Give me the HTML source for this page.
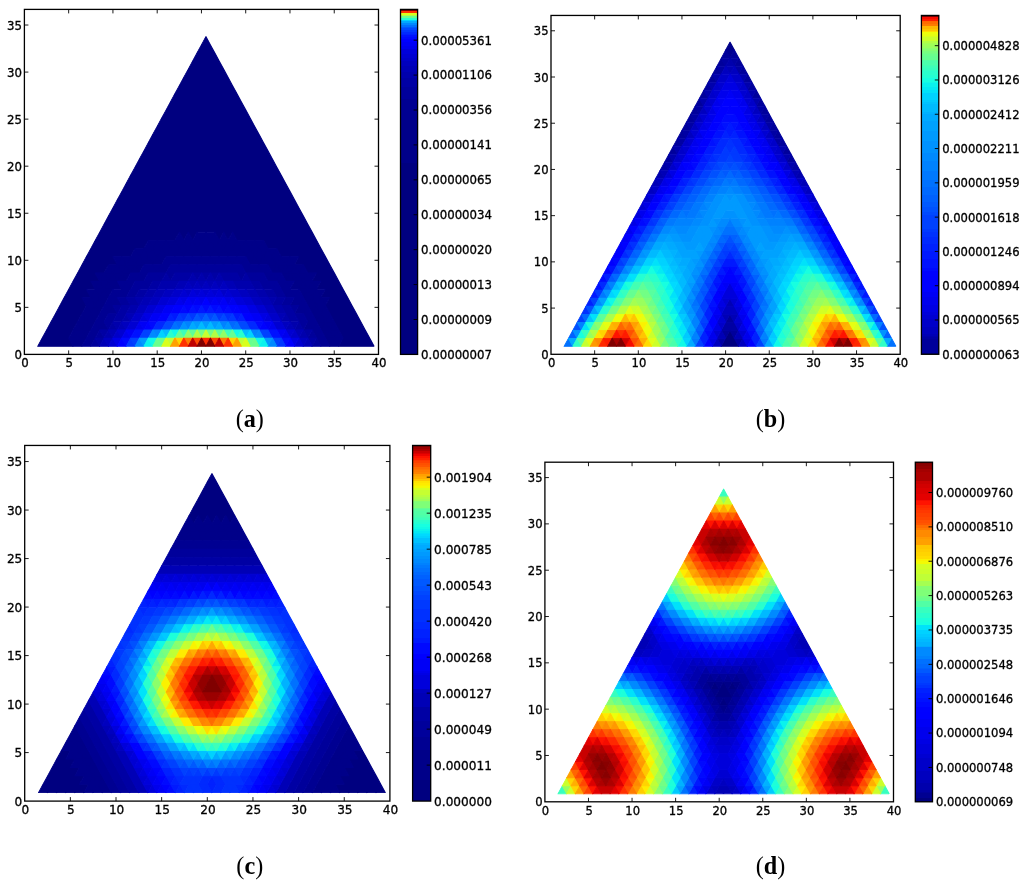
<!DOCTYPE html>
<html><head><meta charset="utf-8"><title>Figure</title>
<style>html,body{margin:0;padding:0;background:#fff}svg{display:block}text{font-family:"DejaVu Sans","Liberation Sans",sans-serif;fill:#000;stroke:#000;stroke-width:0.3px}.cap{stroke:none}.cap{font-family:"Liberation Serif","DejaVu Serif",serif;font-size:24.2px}.cap tspan{font-weight:bold}</style></head><body>
<svg width="1024" height="885" viewBox="0 0 1024 885">
<rect width="1024" height="885" fill="#fff"/>
<g font-size="11.75">
<g transform="matrix(8.8525 0 4.4263 -8.1500 24.400 354.400)" stroke-width="0.1" stroke-linejoin="round">
<path fill="#000080" stroke="#000080" d="M1 1h1l-1 1zM2 1h1l-1 1zM3 1h1l-1 1zM4 1h1l-1 1zM35 1h1l-1 1zM36 1h1l-1 1zM37 1h1l-1 1zM38 1h1l-1 1zM1 2h1l-1 1zM2 2h1l-1 1zM3 2h1l-1 1zM35 2h1l-1 1zM36 2h1l-1 1zM37 2h1l-1 1zM1 3h1l-1 1zM2 3h1l-1 1zM3 3h1l-1 1zM34 3h1l-1 1zM35 3h1l-1 1zM36 3h1l-1 1zM1 4h1l-1 1zM2 4h1l-1 1zM3 4h1l-1 1zM33 4h1l-1 1zM34 4h1l-1 1zM35 4h1l-1 1zM1 5h1l-1 1zM2 5h1l-1 1zM3 5h1l-1 1zM32 5h1l-1 1zM33 5h1l-1 1zM34 5h1l-1 1zM1 6h1l-1 1zM2 6h1l-1 1zM3 6h1l-1 1zM31 6h1l-1 1zM32 6h1l-1 1zM33 6h1l-1 1zM1 7h1l-1 1zM2 7h1l-1 1zM3 7h1l-1 1zM30 7h1l-1 1zM31 7h1l-1 1zM32 7h1l-1 1zM1 8h1l-1 1zM2 8h1l-1 1zM3 8h1l-1 1zM29 8h1l-1 1zM30 8h1l-1 1zM31 8h1l-1 1zM1 9h1l-1 1zM2 9h1l-1 1zM3 9h1l-1 1zM28 9h1l-1 1zM29 9h1l-1 1zM30 9h1l-1 1zM1 10h1l-1 1zM2 10h1l-1 1zM3 10h1l-1 1zM27 10h1l-1 1zM28 10h1l-1 1zM29 10h1l-1 1zM1 11h1l-1 1zM2 11h1l-1 1zM3 11h1l-1 1zM4 11h1l-1 1zM25 11h1l-1 1zM26 11h1l-1 1zM27 11h1l-1 1zM28 11h1l-1 1zM1 12h1l-1 1zM2 12h1l-1 1zM3 12h1l-1 1zM4 12h1l-1 1zM5 12h1l-1 1zM23 12h1l-1 1zM24 12h1l-1 1zM25 12h1l-1 1zM26 12h1l-1 1zM27 12h1l-1 1zM1 13h1l-1 1zM2 13h1l-1 1zM3 13h1l-1 1zM4 13h1l-1 1zM5 13h1l-1 1zM6 13h1l-1 1zM21 13h1l-1 1zM22 13h1l-1 1zM23 13h1l-1 1zM24 13h1l-1 1zM25 13h1l-1 1zM26 13h1l-1 1zM1 14h1l-1 1zM2 14h1l-1 1zM3 14h1l-1 1zM4 14h1l-1 1zM5 14h1l-1 1zM6 14h1l-1 1zM7 14h1l-1 1zM8 14h1l-1 1zM9 14h1l-1 1zM17 14h1l-1 1zM18 14h1l-1 1zM19 14h1l-1 1zM20 14h1l-1 1zM21 14h1l-1 1zM22 14h1l-1 1zM23 14h1l-1 1zM24 14h1l-1 1zM25 14h1l-1 1zM1 15h1l-1 1zM2 15h1l-1 1zM3 15h1l-1 1zM4 15h1l-1 1zM5 15h1l-1 1zM6 15h1l-1 1zM7 15h1l-1 1zM8 15h1l-1 1zM9 15h1l-1 1zM10 15h1l-1 1zM11 15h1l-1 1zM12 15h1l-1 1zM13 15h1l-1 1zM14 15h1l-1 1zM15 15h1l-1 1zM16 15h1l-1 1zM17 15h1l-1 1zM18 15h1l-1 1zM19 15h1l-1 1zM20 15h1l-1 1zM21 15h1l-1 1zM22 15h1l-1 1zM23 15h1l-1 1zM24 15h1l-1 1zM1 16h1l-1 1zM2 16h1l-1 1zM3 16h1l-1 1zM4 16h1l-1 1zM5 16h1l-1 1zM6 16h1l-1 1zM7 16h1l-1 1zM8 16h1l-1 1zM9 16h1l-1 1zM10 16h1l-1 1zM11 16h1l-1 1zM12 16h1l-1 1zM13 16h1l-1 1zM14 16h1l-1 1zM15 16h1l-1 1zM16 16h1l-1 1zM17 16h1l-1 1zM18 16h1l-1 1zM19 16h1l-1 1zM20 16h1l-1 1zM21 16h1l-1 1zM22 16h1l-1 1zM23 16h1l-1 1zM1 17h1l-1 1zM2 17h1l-1 1zM3 17h1l-1 1zM4 17h1l-1 1zM5 17h1l-1 1zM6 17h1l-1 1zM7 17h1l-1 1zM8 17h1l-1 1zM9 17h1l-1 1zM10 17h1l-1 1zM11 17h1l-1 1zM12 17h1l-1 1zM13 17h1l-1 1zM14 17h1l-1 1zM15 17h1l-1 1zM16 17h1l-1 1zM17 17h1l-1 1zM18 17h1l-1 1zM19 17h1l-1 1zM20 17h1l-1 1zM21 17h1l-1 1zM22 17h1l-1 1zM1 18h1l-1 1zM2 18h1l-1 1zM3 18h1l-1 1zM4 18h1l-1 1zM5 18h1l-1 1zM6 18h1l-1 1zM7 18h1l-1 1zM8 18h1l-1 1zM9 18h1l-1 1zM10 18h1l-1 1zM11 18h1l-1 1zM12 18h1l-1 1zM13 18h1l-1 1zM14 18h1l-1 1zM15 18h1l-1 1zM16 18h1l-1 1zM17 18h1l-1 1zM18 18h1l-1 1zM19 18h1l-1 1zM20 18h1l-1 1zM21 18h1l-1 1zM1 19h1l-1 1zM2 19h1l-1 1zM3 19h1l-1 1zM4 19h1l-1 1zM5 19h1l-1 1zM6 19h1l-1 1zM7 19h1l-1 1zM8 19h1l-1 1zM9 19h1l-1 1zM10 19h1l-1 1zM11 19h1l-1 1zM12 19h1l-1 1zM13 19h1l-1 1zM14 19h1l-1 1zM15 19h1l-1 1zM16 19h1l-1 1zM17 19h1l-1 1zM18 19h1l-1 1zM19 19h1l-1 1zM20 19h1l-1 1zM1 20h1l-1 1zM2 20h1l-1 1zM3 20h1l-1 1zM4 20h1l-1 1zM5 20h1l-1 1zM6 20h1l-1 1zM7 20h1l-1 1zM8 20h1l-1 1zM9 20h1l-1 1zM10 20h1l-1 1zM11 20h1l-1 1zM12 20h1l-1 1zM13 20h1l-1 1zM14 20h1l-1 1zM15 20h1l-1 1zM16 20h1l-1 1zM17 20h1l-1 1zM18 20h1l-1 1zM19 20h1l-1 1zM1 21h1l-1 1zM2 21h1l-1 1zM3 21h1l-1 1zM4 21h1l-1 1zM5 21h1l-1 1zM6 21h1l-1 1zM7 21h1l-1 1zM8 21h1l-1 1zM9 21h1l-1 1zM10 21h1l-1 1zM11 21h1l-1 1zM12 21h1l-1 1zM13 21h1l-1 1zM14 21h1l-1 1zM15 21h1l-1 1zM16 21h1l-1 1zM17 21h1l-1 1zM18 21h1l-1 1zM1 22h1l-1 1zM2 22h1l-1 1zM3 22h1l-1 1zM4 22h1l-1 1zM5 22h1l-1 1zM6 22h1l-1 1zM7 22h1l-1 1zM8 22h1l-1 1zM9 22h1l-1 1zM10 22h1l-1 1zM11 22h1l-1 1zM12 22h1l-1 1zM13 22h1l-1 1zM14 22h1l-1 1zM15 22h1l-1 1zM16 22h1l-1 1zM17 22h1l-1 1zM1 23h1l-1 1zM2 23h1l-1 1zM3 23h1l-1 1zM4 23h1l-1 1zM5 23h1l-1 1zM6 23h1l-1 1zM7 23h1l-1 1zM8 23h1l-1 1zM9 23h1l-1 1zM10 23h1l-1 1zM11 23h1l-1 1zM12 23h1l-1 1zM13 23h1l-1 1zM14 23h1l-1 1zM15 23h1l-1 1zM16 23h1l-1 1zM1 24h1l-1 1zM2 24h1l-1 1zM3 24h1l-1 1zM4 24h1l-1 1zM5 24h1l-1 1zM6 24h1l-1 1zM7 24h1l-1 1zM8 24h1l-1 1zM9 24h1l-1 1zM10 24h1l-1 1zM11 24h1l-1 1zM12 24h1l-1 1zM13 24h1l-1 1zM14 24h1l-1 1zM15 24h1l-1 1zM1 25h1l-1 1zM2 25h1l-1 1zM3 25h1l-1 1zM4 25h1l-1 1zM5 25h1l-1 1zM6 25h1l-1 1zM7 25h1l-1 1zM8 25h1l-1 1zM9 25h1l-1 1zM10 25h1l-1 1zM11 25h1l-1 1zM12 25h1l-1 1zM13 25h1l-1 1zM14 25h1l-1 1zM1 26h1l-1 1zM2 26h1l-1 1zM3 26h1l-1 1zM4 26h1l-1 1zM5 26h1l-1 1zM6 26h1l-1 1zM7 26h1l-1 1zM8 26h1l-1 1zM9 26h1l-1 1zM10 26h1l-1 1zM11 26h1l-1 1zM12 26h1l-1 1zM13 26h1l-1 1zM1 27h1l-1 1zM2 27h1l-1 1zM3 27h1l-1 1zM4 27h1l-1 1zM5 27h1l-1 1zM6 27h1l-1 1zM7 27h1l-1 1zM8 27h1l-1 1zM9 27h1l-1 1zM10 27h1l-1 1zM11 27h1l-1 1zM12 27h1l-1 1zM1 28h1l-1 1zM2 28h1l-1 1zM3 28h1l-1 1zM4 28h1l-1 1zM5 28h1l-1 1zM6 28h1l-1 1zM7 28h1l-1 1zM8 28h1l-1 1zM9 28h1l-1 1zM10 28h1l-1 1zM11 28h1l-1 1zM1 29h1l-1 1zM2 29h1l-1 1zM3 29h1l-1 1zM4 29h1l-1 1zM5 29h1l-1 1zM6 29h1l-1 1zM7 29h1l-1 1zM8 29h1l-1 1zM9 29h1l-1 1zM10 29h1l-1 1zM1 30h1l-1 1zM2 30h1l-1 1zM3 30h1l-1 1zM4 30h1l-1 1zM5 30h1l-1 1zM6 30h1l-1 1zM7 30h1l-1 1zM8 30h1l-1 1zM9 30h1l-1 1zM1 31h1l-1 1zM2 31h1l-1 1zM3 31h1l-1 1zM4 31h1l-1 1zM5 31h1l-1 1zM6 31h1l-1 1zM7 31h1l-1 1zM8 31h1l-1 1zM1 32h1l-1 1zM2 32h1l-1 1zM3 32h1l-1 1zM4 32h1l-1 1zM5 32h1l-1 1zM6 32h1l-1 1zM7 32h1l-1 1zM1 33h1l-1 1zM2 33h1l-1 1zM3 33h1l-1 1zM4 33h1l-1 1zM5 33h1l-1 1zM6 33h1l-1 1zM1 34h1l-1 1zM2 34h1l-1 1zM3 34h1l-1 1zM4 34h1l-1 1zM5 34h1l-1 1zM1 35h1l-1 1zM2 35h1l-1 1zM3 35h1l-1 1zM4 35h1l-1 1zM1 36h1l-1 1zM2 36h1l-1 1zM3 36h1l-1 1zM1 37h1l-1 1zM2 37h1l-1 1zM1 38h1l-1 1zM2 1v1h-1zM3 1v1h-1zM4 1v1h-1zM36 1v1h-1zM37 1v1h-1zM38 1v1h-1zM2 2v1h-1zM3 2v1h-1zM4 2v1h-1zM35 2v1h-1zM36 2v1h-1zM37 2v1h-1zM2 3v1h-1zM3 3v1h-1zM4 3v1h-1zM34 3v1h-1zM35 3v1h-1zM36 3v1h-1zM2 4v1h-1zM3 4v1h-1zM4 4v1h-1zM33 4v1h-1zM34 4v1h-1zM35 4v1h-1zM2 5v1h-1zM3 5v1h-1zM4 5v1h-1zM32 5v1h-1zM33 5v1h-1zM34 5v1h-1zM2 6v1h-1zM3 6v1h-1zM32 6v1h-1zM33 6v1h-1zM2 7v1h-1zM3 7v1h-1zM31 7v1h-1zM32 7v1h-1zM2 8v1h-1zM3 8v1h-1zM30 8v1h-1zM31 8v1h-1zM2 9v1h-1zM3 9v1h-1zM29 9v1h-1zM30 9v1h-1zM2 10v1h-1zM3 10v1h-1zM4 10v1h-1zM27 10v1h-1zM28 10v1h-1zM29 10v1h-1zM2 11v1h-1zM3 11v1h-1zM4 11v1h-1zM26 11v1h-1zM27 11v1h-1zM28 11v1h-1zM2 12v1h-1zM3 12v1h-1zM4 12v1h-1zM5 12v1h-1zM6 12v1h-1zM23 12v1h-1zM24 12v1h-1zM25 12v1h-1zM26 12v1h-1zM27 12v1h-1zM2 13v1h-1zM3 13v1h-1zM4 13v1h-1zM5 13v1h-1zM6 13v1h-1zM7 13v1h-1zM21 13v1h-1zM22 13v1h-1zM23 13v1h-1zM24 13v1h-1zM25 13v1h-1zM26 13v1h-1zM2 14v1h-1zM3 14v1h-1zM4 14v1h-1zM5 14v1h-1zM6 14v1h-1zM7 14v1h-1zM8 14v1h-1zM9 14v1h-1zM10 14v1h-1zM11 14v1h-1zM12 14v1h-1zM15 14v1h-1zM16 14v1h-1zM17 14v1h-1zM18 14v1h-1zM19 14v1h-1zM20 14v1h-1zM21 14v1h-1zM22 14v1h-1zM23 14v1h-1zM24 14v1h-1zM25 14v1h-1zM2 15v1h-1zM3 15v1h-1zM4 15v1h-1zM5 15v1h-1zM6 15v1h-1zM7 15v1h-1zM8 15v1h-1zM9 15v1h-1zM10 15v1h-1zM11 15v1h-1zM12 15v1h-1zM13 15v1h-1zM14 15v1h-1zM15 15v1h-1zM16 15v1h-1zM17 15v1h-1zM18 15v1h-1zM19 15v1h-1zM20 15v1h-1zM21 15v1h-1zM22 15v1h-1zM23 15v1h-1zM24 15v1h-1zM2 16v1h-1zM3 16v1h-1zM4 16v1h-1zM5 16v1h-1zM6 16v1h-1zM7 16v1h-1zM8 16v1h-1zM9 16v1h-1zM10 16v1h-1zM11 16v1h-1zM12 16v1h-1zM13 16v1h-1zM14 16v1h-1zM15 16v1h-1zM16 16v1h-1zM17 16v1h-1zM18 16v1h-1zM19 16v1h-1zM20 16v1h-1zM21 16v1h-1zM22 16v1h-1zM23 16v1h-1zM2 17v1h-1zM3 17v1h-1zM4 17v1h-1zM5 17v1h-1zM6 17v1h-1zM7 17v1h-1zM8 17v1h-1zM9 17v1h-1zM10 17v1h-1zM11 17v1h-1zM12 17v1h-1zM13 17v1h-1zM14 17v1h-1zM15 17v1h-1zM16 17v1h-1zM17 17v1h-1zM18 17v1h-1zM19 17v1h-1zM20 17v1h-1zM21 17v1h-1zM22 17v1h-1zM2 18v1h-1zM3 18v1h-1zM4 18v1h-1zM5 18v1h-1zM6 18v1h-1zM7 18v1h-1zM8 18v1h-1zM9 18v1h-1zM10 18v1h-1zM11 18v1h-1zM12 18v1h-1zM13 18v1h-1zM14 18v1h-1zM15 18v1h-1zM16 18v1h-1zM17 18v1h-1zM18 18v1h-1zM19 18v1h-1zM20 18v1h-1zM21 18v1h-1zM2 19v1h-1zM3 19v1h-1zM4 19v1h-1zM5 19v1h-1zM6 19v1h-1zM7 19v1h-1zM8 19v1h-1zM9 19v1h-1zM10 19v1h-1zM11 19v1h-1zM12 19v1h-1zM13 19v1h-1zM14 19v1h-1zM15 19v1h-1zM16 19v1h-1zM17 19v1h-1zM18 19v1h-1zM19 19v1h-1zM20 19v1h-1zM2 20v1h-1zM3 20v1h-1zM4 20v1h-1zM5 20v1h-1zM6 20v1h-1zM7 20v1h-1zM8 20v1h-1zM9 20v1h-1zM10 20v1h-1zM11 20v1h-1zM12 20v1h-1zM13 20v1h-1zM14 20v1h-1zM15 20v1h-1zM16 20v1h-1zM17 20v1h-1zM18 20v1h-1zM19 20v1h-1zM2 21v1h-1zM3 21v1h-1zM4 21v1h-1zM5 21v1h-1zM6 21v1h-1zM7 21v1h-1zM8 21v1h-1zM9 21v1h-1zM10 21v1h-1zM11 21v1h-1zM12 21v1h-1zM13 21v1h-1zM14 21v1h-1zM15 21v1h-1zM16 21v1h-1zM17 21v1h-1zM18 21v1h-1zM2 22v1h-1zM3 22v1h-1zM4 22v1h-1zM5 22v1h-1zM6 22v1h-1zM7 22v1h-1zM8 22v1h-1zM9 22v1h-1zM10 22v1h-1zM11 22v1h-1zM12 22v1h-1zM13 22v1h-1zM14 22v1h-1zM15 22v1h-1zM16 22v1h-1zM17 22v1h-1zM2 23v1h-1zM3 23v1h-1zM4 23v1h-1zM5 23v1h-1zM6 23v1h-1zM7 23v1h-1zM8 23v1h-1zM9 23v1h-1zM10 23v1h-1zM11 23v1h-1zM12 23v1h-1zM13 23v1h-1zM14 23v1h-1zM15 23v1h-1zM16 23v1h-1zM2 24v1h-1zM3 24v1h-1zM4 24v1h-1zM5 24v1h-1zM6 24v1h-1zM7 24v1h-1zM8 24v1h-1zM9 24v1h-1zM10 24v1h-1zM11 24v1h-1zM12 24v1h-1zM13 24v1h-1zM14 24v1h-1zM15 24v1h-1zM2 25v1h-1zM3 25v1h-1zM4 25v1h-1zM5 25v1h-1zM6 25v1h-1zM7 25v1h-1zM8 25v1h-1zM9 25v1h-1zM10 25v1h-1zM11 25v1h-1zM12 25v1h-1zM13 25v1h-1zM14 25v1h-1zM2 26v1h-1zM3 26v1h-1zM4 26v1h-1zM5 26v1h-1zM6 26v1h-1zM7 26v1h-1zM8 26v1h-1zM9 26v1h-1zM10 26v1h-1zM11 26v1h-1zM12 26v1h-1zM13 26v1h-1zM2 27v1h-1zM3 27v1h-1zM4 27v1h-1zM5 27v1h-1zM6 27v1h-1zM7 27v1h-1zM8 27v1h-1zM9 27v1h-1zM10 27v1h-1zM11 27v1h-1zM12 27v1h-1zM2 28v1h-1zM3 28v1h-1zM4 28v1h-1zM5 28v1h-1zM6 28v1h-1zM7 28v1h-1zM8 28v1h-1zM9 28v1h-1zM10 28v1h-1zM11 28v1h-1zM2 29v1h-1zM3 29v1h-1zM4 29v1h-1zM5 29v1h-1zM6 29v1h-1zM7 29v1h-1zM8 29v1h-1zM9 29v1h-1zM10 29v1h-1zM2 30v1h-1zM3 30v1h-1zM4 30v1h-1zM5 30v1h-1zM6 30v1h-1zM7 30v1h-1zM8 30v1h-1zM9 30v1h-1zM2 31v1h-1zM3 31v1h-1zM4 31v1h-1zM5 31v1h-1zM6 31v1h-1zM7 31v1h-1zM8 31v1h-1zM2 32v1h-1zM3 32v1h-1zM4 32v1h-1zM5 32v1h-1zM6 32v1h-1zM7 32v1h-1zM2 33v1h-1zM3 33v1h-1zM4 33v1h-1zM5 33v1h-1zM6 33v1h-1zM2 34v1h-1zM3 34v1h-1zM4 34v1h-1zM5 34v1h-1zM2 35v1h-1zM3 35v1h-1zM4 35v1h-1zM2 36v1h-1zM3 36v1h-1zM2 37v1h-1z"/>
<path fill="#000089" stroke="#000089" d="M5 1h1l-1 1zM34 1h1l-1 1zM4 2h1l-1 1zM5 2h1l-1 1zM33 2h1l-1 1zM34 2h1l-1 1zM4 3h1l-1 1zM5 3h1l-1 1zM32 3h1l-1 1zM33 3h1l-1 1zM4 4h1l-1 1zM5 4h1l-1 1zM31 4h1l-1 1zM32 4h1l-1 1zM4 5h1l-1 1zM5 5h1l-1 1zM30 5h1l-1 1zM31 5h1l-1 1zM4 6h1l-1 1zM5 6h1l-1 1zM29 6h1l-1 1zM30 6h1l-1 1zM4 7h1l-1 1zM5 7h1l-1 1zM28 7h1l-1 1zM29 7h1l-1 1zM4 8h1l-1 1zM5 8h1l-1 1zM6 8h1l-1 1zM26 8h1l-1 1zM27 8h1l-1 1zM28 8h1l-1 1zM4 9h1l-1 1zM5 9h1l-1 1zM6 9h1l-1 1zM25 9h1l-1 1zM26 9h1l-1 1zM27 9h1l-1 1zM4 10h1l-1 1zM5 10h1l-1 1zM6 10h1l-1 1zM7 10h1l-1 1zM23 10h1l-1 1zM24 10h1l-1 1zM25 10h1l-1 1zM26 10h1l-1 1zM5 11h1l-1 1zM6 11h1l-1 1zM7 11h1l-1 1zM8 11h1l-1 1zM9 11h1l-1 1zM20 11h1l-1 1zM21 11h1l-1 1zM22 11h1l-1 1zM23 11h1l-1 1zM24 11h1l-1 1zM6 12h1l-1 1zM7 12h1l-1 1zM8 12h1l-1 1zM9 12h1l-1 1zM10 12h1l-1 1zM11 12h1l-1 1zM12 12h1l-1 1zM13 12h1l-1 1zM14 12h1l-1 1zM15 12h1l-1 1zM16 12h1l-1 1zM17 12h1l-1 1zM18 12h1l-1 1zM19 12h1l-1 1zM20 12h1l-1 1zM21 12h1l-1 1zM22 12h1l-1 1zM7 13h1l-1 1zM8 13h1l-1 1zM9 13h1l-1 1zM10 13h1l-1 1zM11 13h1l-1 1zM12 13h1l-1 1zM13 13h1l-1 1zM14 13h1l-1 1zM15 13h1l-1 1zM16 13h1l-1 1zM17 13h1l-1 1zM18 13h1l-1 1zM19 13h1l-1 1zM20 13h1l-1 1zM10 14h1l-1 1zM11 14h1l-1 1zM12 14h1l-1 1zM13 14h1l-1 1zM14 14h1l-1 1zM15 14h1l-1 1zM16 14h1l-1 1zM5 1v1h-1zM6 1v1h-1zM34 1v1h-1zM35 1v1h-1zM5 2v1h-1zM6 2v1h-1zM33 2v1h-1zM34 2v1h-1zM5 3v1h-1zM6 3v1h-1zM32 3v1h-1zM33 3v1h-1zM5 4v1h-1zM6 4v1h-1zM31 4v1h-1zM32 4v1h-1zM5 5v1h-1zM6 5v1h-1zM30 5v1h-1zM31 5v1h-1zM4 6v1h-1zM5 6v1h-1zM6 6v1h-1zM29 6v1h-1zM30 6v1h-1zM31 6v1h-1zM4 7v1h-1zM5 7v1h-1zM6 7v1h-1zM28 7v1h-1zM29 7v1h-1zM30 7v1h-1zM4 8v1h-1zM5 8v1h-1zM6 8v1h-1zM27 8v1h-1zM28 8v1h-1zM29 8v1h-1zM4 9v1h-1zM5 9v1h-1zM6 9v1h-1zM7 9v1h-1zM25 9v1h-1zM26 9v1h-1zM27 9v1h-1zM28 9v1h-1zM5 10v1h-1zM6 10v1h-1zM7 10v1h-1zM8 10v1h-1zM23 10v1h-1zM24 10v1h-1zM25 10v1h-1zM26 10v1h-1zM5 11v1h-1zM6 11v1h-1zM7 11v1h-1zM8 11v1h-1zM9 11v1h-1zM10 11v1h-1zM20 11v1h-1zM21 11v1h-1zM22 11v1h-1zM23 11v1h-1zM24 11v1h-1zM25 11v1h-1zM7 12v1h-1zM8 12v1h-1zM9 12v1h-1zM10 12v1h-1zM11 12v1h-1zM12 12v1h-1zM13 12v1h-1zM14 12v1h-1zM15 12v1h-1zM16 12v1h-1zM17 12v1h-1zM18 12v1h-1zM19 12v1h-1zM20 12v1h-1zM21 12v1h-1zM22 12v1h-1zM8 13v1h-1zM9 13v1h-1zM10 13v1h-1zM11 13v1h-1zM12 13v1h-1zM13 13v1h-1zM14 13v1h-1zM15 13v1h-1zM16 13v1h-1zM17 13v1h-1zM18 13v1h-1zM19 13v1h-1zM20 13v1h-1zM13 14v1h-1zM14 14v1h-1z"/>
<path fill="#000092" stroke="#000092" d="M6 1h1l-1 1zM33 1h1l-1 1zM6 2h1l-1 1zM32 2h1l-1 1zM6 3h1l-1 1zM7 3h1l-1 1zM30 3h1l-1 1zM31 3h1l-1 1zM6 4h1l-1 1zM30 4h1l-1 1zM6 5h1l-1 1zM7 5h1l-1 1zM28 5h1l-1 1zM29 5h1l-1 1zM6 6h1l-1 1zM7 6h1l-1 1zM27 6h1l-1 1zM28 6h1l-1 1zM6 7h1l-1 1zM7 7h1l-1 1zM26 7h1l-1 1zM27 7h1l-1 1zM7 8h1l-1 1zM25 8h1l-1 1zM7 9h1l-1 1zM8 9h1l-1 1zM23 9h1l-1 1zM24 9h1l-1 1zM8 10h1l-1 1zM9 10h1l-1 1zM10 10h1l-1 1zM20 10h1l-1 1zM21 10h1l-1 1zM22 10h1l-1 1zM10 11h1l-1 1zM11 11h1l-1 1zM12 11h1l-1 1zM13 11h1l-1 1zM14 11h1l-1 1zM15 11h1l-1 1zM16 11h1l-1 1zM17 11h1l-1 1zM18 11h1l-1 1zM19 11h1l-1 1zM7 1v1h-1zM33 1v1h-1zM7 2v1h-1zM32 2v1h-1zM7 3v1h-1zM31 3v1h-1zM7 4v1h-1zM30 4v1h-1zM7 5v1h-1zM29 5v1h-1zM7 6v1h-1zM28 6v1h-1zM7 7v1h-1zM8 7v1h-1zM26 7v1h-1zM27 7v1h-1zM7 8v1h-1zM8 8v1h-1zM25 8v1h-1zM26 8v1h-1zM8 9v1h-1zM9 9v1h-1zM23 9v1h-1zM24 9v1h-1zM9 10v1h-1zM10 10v1h-1zM11 10v1h-1zM20 10v1h-1zM21 10v1h-1zM22 10v1h-1zM11 11v1h-1zM12 11v1h-1zM13 11v1h-1zM14 11v1h-1zM15 11v1h-1zM16 11v1h-1zM17 11v1h-1zM18 11v1h-1zM19 11v1h-1z"/>
<path fill="#00009b" stroke="#00009b" d="M7 1h1l-1 1zM32 1h1l-1 1zM7 2h1l-1 1zM31 2h1l-1 1zM7 4h1l-1 1zM29 4h1l-1 1zM8 6h1l-1 1zM26 6h1l-1 1zM8 7h1l-1 1zM25 7h1l-1 1zM8 8h1l-1 1zM9 8h1l-1 1zM23 8h1l-1 1zM24 8h1l-1 1zM9 9h1l-1 1zM10 9h1l-1 1zM21 9h1l-1 1zM22 9h1l-1 1zM11 10h1l-1 1zM12 10h1l-1 1zM13 10h1l-1 1zM14 10h1l-1 1zM15 10h1l-1 1zM16 10h1l-1 1zM17 10h1l-1 1zM18 10h1l-1 1zM19 10h1l-1 1zM8 3v1h-1zM30 3v1h-1zM8 4v1h-1zM29 4v1h-1zM8 5v1h-1zM28 5v1h-1zM8 6v1h-1zM27 6v1h-1zM9 7v1h-1zM25 7v1h-1zM9 8v1h-1zM10 8v1h-1zM23 8v1h-1zM24 8v1h-1zM10 9v1h-1zM11 9v1h-1zM12 9v1h-1zM20 9v1h-1zM21 9v1h-1zM22 9v1h-1zM12 10v1h-1zM13 10v1h-1zM14 10v1h-1zM15 10v1h-1zM16 10v1h-1zM17 10v1h-1zM18 10v1h-1zM19 10v1h-1z"/>
<path fill="#0000a4" stroke="#0000a4" d="M8 3h1l-1 1zM29 3h1l-1 1zM8 4h1l-1 1zM28 4h1l-1 1zM8 5h1l-1 1zM27 5h1l-1 1zM9 6h1l-1 1zM25 6h1l-1 1zM9 7h1l-1 1zM24 7h1l-1 1zM10 8h1l-1 1zM22 8h1l-1 1zM11 9h1l-1 1zM12 9h1l-1 1zM13 9h1l-1 1zM18 9h1l-1 1zM19 9h1l-1 1zM20 9h1l-1 1zM8 1v1h-1zM32 1v1h-1zM8 2v1h-1zM31 2v1h-1zM9 4v1h-1zM28 4v1h-1zM9 5v1h-1zM27 5v1h-1zM9 6v1h-1zM26 6v1h-1zM10 7v1h-1zM24 7v1h-1zM11 8v1h-1zM22 8v1h-1zM13 9v1h-1zM14 9v1h-1zM15 9v1h-1zM16 9v1h-1zM17 9v1h-1zM18 9v1h-1zM19 9v1h-1z"/>
<path fill="#0000ad" stroke="#0000ad" d="M8 2h1l-1 1zM30 2h1l-1 1zM9 4h1l-1 1zM27 4h1l-1 1zM9 5h1l-1 1zM26 5h1l-1 1zM10 7h1l-1 1zM23 7h1l-1 1zM11 8h1l-1 1zM12 8h1l-1 1zM20 8h1l-1 1zM21 8h1l-1 1zM14 9h1l-1 1zM15 9h1l-1 1zM16 9h1l-1 1zM17 9h1l-1 1zM9 3v1h-1zM29 3v1h-1zM10 5v1h-1zM26 5v1h-1zM10 6v1h-1zM25 6v1h-1zM11 7v1h-1zM23 7v1h-1zM12 8v1h-1zM13 8v1h-1zM20 8v1h-1zM21 8v1h-1z"/>
<path fill="#0000b6" stroke="#0000b6" d="M8 1h1l-1 1zM31 1h1l-1 1zM9 3h1l-1 1zM28 3h1l-1 1zM10 6h1l-1 1zM24 6h1l-1 1zM11 7h1l-1 1zM22 7h1l-1 1zM13 8h1l-1 1zM19 8h1l-1 1zM9 2v1h-1zM30 2v1h-1zM10 4v1h-1zM27 4v1h-1zM11 6v1h-1zM24 6v1h-1zM12 7v1h-1zM22 7v1h-1zM14 8v1h-1zM15 8v1h-1zM16 8v1h-1zM17 8v1h-1zM18 8v1h-1zM19 8v1h-1z"/>
<path fill="#0000bf" stroke="#0000bf" d="M10 5h1l-1 1zM25 5h1l-1 1zM11 6h1l-1 1zM23 6h1l-1 1zM12 7h1l-1 1zM21 7h1l-1 1zM14 8h1l-1 1zM15 8h1l-1 1zM16 8h1l-1 1zM17 8h1l-1 1zM18 8h1l-1 1zM9 1v1h-1zM31 1v1h-1zM10 3v1h-1zM28 3v1h-1zM11 5v1h-1zM25 5v1h-1zM12 6v1h-1zM23 6v1h-1zM13 7v1h-1zM21 7v1h-1z"/>
<path fill="#0000c9" stroke="#0000c9" d="M9 2h1l-1 1zM29 2h1l-1 1zM10 4h1l-1 1zM26 4h1l-1 1zM13 7h1l-1 1zM20 7h1l-1 1zM11 4v1h-1zM26 4v1h-1zM14 7v1h-1zM15 7v1h-1zM19 7v1h-1zM20 7v1h-1z"/>
<path fill="#0000d2" stroke="#0000d2" d="M9 1h1l-1 1zM30 1h1l-1 1zM10 3h1l-1 1zM27 3h1l-1 1zM11 5h1l-1 1zM24 5h1l-1 1zM12 6h1l-1 1zM22 6h1l-1 1zM14 7h1l-1 1zM19 7h1l-1 1zM10 2v1h-1zM29 2v1h-1zM11 3v1h-1zM27 3v1h-1zM12 5v1h-1zM24 5v1h-1zM13 6v1h-1zM22 6v1h-1zM16 7v1h-1zM17 7v1h-1zM18 7v1h-1z"/>
<path fill="#0000db" stroke="#0000db" d="M11 4h1l-1 1zM25 4h1l-1 1zM13 6h1l-1 1zM21 6h1l-1 1zM15 7h1l-1 1zM16 7h1l-1 1zM17 7h1l-1 1zM18 7h1l-1 1zM14 6v1h-1zM21 6v1h-1z"/>
<path fill="#0000e4" stroke="#0000e4" d="M12 5h1l-1 1zM23 5h1l-1 1zM10 1v1h-1zM30 1v1h-1zM12 4v1h-1zM25 4v1h-1zM13 5v1h-1zM23 5v1h-1zM15 6v1h-1zM20 6v1h-1z"/>
<path fill="#0000ed" stroke="#0000ed" d="M10 2h1l-1 1zM28 2h1l-1 1zM11 3h1l-1 1zM26 3h1l-1 1zM14 6h1l-1 1zM20 6h1l-1 1zM16 6v1h-1zM17 6v1h-1zM18 6v1h-1zM19 6v1h-1z"/>
<path fill="#0000f6" stroke="#0000f6" d="M12 4h1l-1 1zM24 4h1l-1 1zM13 5h1l-1 1zM22 5h1l-1 1zM15 6h1l-1 1zM16 6h1l-1 1zM18 6h1l-1 1zM19 6h1l-1 1zM11 2v1h-1zM28 2v1h-1zM12 3v1h-1zM26 3v1h-1zM13 4v1h-1zM24 4v1h-1zM14 5v1h-1zM22 5v1h-1z"/>
<path fill="#0000ff" stroke="#0000ff" d="M17 6h1l-1 1zM15 5v1h-1zM21 5v1h-1z"/>
<path fill="#0000ff" stroke="#0000ff" d="M10 1h1l-1 1zM29 1h1l-1 1zM14 5h1l-1 1zM21 5h1l-1 1z"/>
<path fill="#0001ff" stroke="#0001ff" d="M12 3h1l-1 1zM25 3h1l-1 1zM13 4h1l-1 1zM23 4h1l-1 1zM14 4v1h-1zM23 4v1h-1zM16 5v1h-1zM20 5v1h-1z"/>
<path fill="#0009ff" stroke="#0009ff" d="M15 5h1l-1 1zM20 5h1l-1 1zM11 1v1h-1zM29 1v1h-1zM13 3v1h-1zM25 3v1h-1zM17 5v1h-1zM18 5v1h-1zM19 5v1h-1z"/>
<path fill="#0011ff" stroke="#0011ff" d="M11 2h1l-1 1zM27 2h1l-1 1zM16 5h1l-1 1zM19 5h1l-1 1zM12 2v1h-1zM27 2v1h-1z"/>
<path fill="#0019ff" stroke="#0019ff" d="M17 5h1l-1 1zM18 5h1l-1 1zM15 4v1h-1zM22 4v1h-1z"/>
<path fill="#0021ff" stroke="#0021ff" d="M14 4h1l-1 1zM22 4h1l-1 1z"/>
<path fill="#0029ff" stroke="#0029ff" d="M13 3h1l-1 1zM24 3h1l-1 1zM14 3v1h-1zM24 3v1h-1z"/>
<path fill="#0031ff" stroke="#0031ff" d="M16 4v1h-1zM21 4v1h-1z"/>
<path fill="#0039ff" stroke="#0039ff" d="M11 1h1l-1 1zM28 1h1l-1 1zM15 4h1l-1 1zM21 4h1l-1 1zM17 4v1h-1zM20 4v1h-1z"/>
<path fill="#0041ff" stroke="#0041ff" d="M12 2h1l-1 1zM26 2h1l-1 1zM12 1v1h-1zM28 1v1h-1zM13 2v1h-1zM26 2v1h-1z"/>
<path fill="#0049ff" stroke="#0049ff" d="M14 3h1l-1 1zM23 3h1l-1 1zM16 4h1l-1 1zM20 4h1l-1 1zM15 3v1h-1zM23 3v1h-1zM18 4v1h-1zM19 4v1h-1z"/>
<path fill="#0059ff" stroke="#0059ff" d="M17 4h1l-1 1zM19 4h1l-1 1z"/>
<path fill="#0061ff" stroke="#0061ff" d="M18 4h1l-1 1z"/>
<path fill="#0069ff" stroke="#0069ff" d="M16 3v1h-1zM22 3v1h-1z"/>
<path fill="#0071ff" stroke="#0071ff" d="M15 3h1l-1 1zM22 3h1l-1 1z"/>
<path fill="#0082ff" stroke="#0082ff" d="M14 2v1h-1zM25 2v1h-1zM17 3v1h-1zM21 3v1h-1z"/>
<path fill="#008aff" stroke="#008aff" d="M12 1h1l-1 1zM27 1h1l-1 1zM13 2h1l-1 1zM25 2h1l-1 1z"/>
<path fill="#0092ff" stroke="#0092ff" d="M16 3h1l-1 1zM21 3h1l-1 1z"/>
<path fill="#009aff" stroke="#009aff" d="M13 1v1h-1zM27 1v1h-1zM18 3v1h-1zM19 3v1h-1zM20 3v1h-1z"/>
<path fill="#00aaff" stroke="#00aaff" d="M17 3h1l-1 1zM20 3h1l-1 1z"/>
<path fill="#00baff" stroke="#00baff" d="M18 3h1l-1 1zM19 3h1l-1 1zM15 2v1h-1zM24 2v1h-1z"/>
<path fill="#00d2ff" stroke="#00d2ff" d="M14 2h1l-1 1zM24 2h1l-1 1z"/>
<path fill="#0af2ed" stroke="#0af2ed" d="M13 1h1l-1 1zM26 1h1l-1 1z"/>
<path fill="#11fae6" stroke="#11fae6" d="M14 1v1h-1zM26 1v1h-1zM16 2v1h-1zM23 2v1h-1z"/>
<path fill="#2affcc" stroke="#2affcc" d="M15 2h1l-1 1zM23 2h1l-1 1z"/>
<path fill="#3effb9" stroke="#3effb9" d="M17 2v1h-1zM22 2v1h-1z"/>
<path fill="#5eff99" stroke="#5eff99" d="M18 2v1h-1zM21 2v1h-1z"/>
<path fill="#65ff92" stroke="#65ff92" d="M16 2h1l-1 1zM22 2h1l-1 1zM15 1v1h-1zM25 1v1h-1z"/>
<path fill="#6bff8c" stroke="#6bff8c" d="M14 1h1l-1 1zM25 1h1l-1 1z"/>
<path fill="#72ff85" stroke="#72ff85" d="M19 2v1h-1zM20 2v1h-1z"/>
<path fill="#92ff65" stroke="#92ff65" d="M17 2h1l-1 1zM21 2h1l-1 1z"/>
<path fill="#b2ff44" stroke="#b2ff44" d="M18 2h1l-1 1zM20 2h1l-1 1z"/>
<path fill="#bfff37" stroke="#bfff37" d="M16 1v1h-1zM24 1v1h-1z"/>
<path fill="#c6ff31" stroke="#c6ff31" d="M19 2h1l-1 1z"/>
<path fill="#d9ff1d" stroke="#d9ff1d" d="M15 1h1l-1 1zM24 1h1l-1 1z"/>
<path fill="#ffd400" stroke="#ffd400" d="M17 1v1h-1zM23 1v1h-1z"/>
<path fill="#ffa000" stroke="#ffa000" d="M16 1h1l-1 1zM23 1h1l-1 1z"/>
<path fill="#ff7b00" stroke="#ff7b00" d="M18 1v1h-1zM22 1v1h-1z"/>
<path fill="#ff4700" stroke="#ff4700" d="M19 1v1h-1zM21 1v1h-1z"/>
<path fill="#ff3100" stroke="#ff3100" d="M17 1h1l-1 1zM22 1h1l-1 1z"/>
<path fill="#ff2900" stroke="#ff2900" d="M20 1v1h-1z"/>
<path fill="#bf0000" stroke="#bf0000" d="M18 1h1l-1 1zM21 1h1l-1 1z"/>
<path fill="#800000" stroke="#800000" d="M19 1h1l-1 1zM20 1h1l-1 1z"/>
</g>
<rect x="24.40" y="9.40" width="354.10" height="345.00" fill="none" stroke="#000" stroke-width="1.3"/>
<text x="25.00" y="367.40" text-anchor="middle">0</text>
<text x="69.26" y="367.40" text-anchor="middle">5</text>
<text x="113.53" y="367.40" text-anchor="middle">10</text>
<text x="157.79" y="367.40" text-anchor="middle">15</text>
<text x="202.05" y="367.40" text-anchor="middle">20</text>
<text x="246.31" y="367.40" text-anchor="middle">25</text>
<text x="290.58" y="367.40" text-anchor="middle">30</text>
<text x="334.84" y="367.40" text-anchor="middle">35</text>
<text x="379.10" y="367.40" text-anchor="middle">40</text>
<text x="22.00" y="358.90" text-anchor="end">0</text>
<text x="22.00" y="311.85" text-anchor="end">5</text>
<text x="22.00" y="264.79" text-anchor="end">10</text>
<text x="22.00" y="217.74" text-anchor="end">15</text>
<text x="22.00" y="170.68" text-anchor="end">20</text>
<text x="22.00" y="123.63" text-anchor="end">25</text>
<text x="22.00" y="76.58" text-anchor="end">30</text>
<text x="22.00" y="29.52" text-anchor="end">35</text>
<rect x="400.50" y="162.32" width="17.10" height="192.08" fill="#000080" shape-rendering="crispEdges"/>
<rect x="400.50" y="119.20" width="17.10" height="43.73" fill="#000089" shape-rendering="crispEdges"/>
<rect x="400.50" y="98.50" width="17.10" height="21.30" fill="#000092" shape-rendering="crispEdges"/>
<rect x="400.50" y="86.42" width="17.10" height="12.68" fill="#00009b" shape-rendering="crispEdges"/>
<rect x="400.50" y="77.80" width="17.10" height="9.22" fill="#0000a4" shape-rendering="crispEdges"/>
<rect x="400.50" y="70.90" width="17.10" height="7.50" fill="#0000ad" shape-rendering="crispEdges"/>
<rect x="400.50" y="65.72" width="17.10" height="5.78" fill="#0000b6" shape-rendering="crispEdges"/>
<rect x="400.50" y="60.55" width="17.10" height="5.78" fill="#0000bf" shape-rendering="crispEdges"/>
<rect x="400.50" y="57.10" width="17.10" height="4.05" fill="#0000c9" shape-rendering="crispEdges"/>
<rect x="400.50" y="53.65" width="17.10" height="4.05" fill="#0000d2" shape-rendering="crispEdges"/>
<rect x="400.50" y="48.47" width="17.10" height="5.78" fill="#0000db" shape-rendering="crispEdges"/>
<rect x="400.50" y="45.02" width="17.10" height="4.05" fill="#0000ed" shape-rendering="crispEdges"/>
<rect x="400.50" y="41.57" width="17.10" height="4.05" fill="#0000f6" shape-rendering="crispEdges"/>
<rect x="400.50" y="39.85" width="17.10" height="2.32" fill="#0000ff" shape-rendering="crispEdges"/>
<rect x="400.50" y="38.12" width="17.10" height="2.33" fill="#0001ff" shape-rendering="crispEdges"/>
<rect x="400.50" y="36.40" width="17.10" height="2.33" fill="#0009ff" shape-rendering="crispEdges"/>
<rect x="400.50" y="34.67" width="17.10" height="2.32" fill="#0011ff" shape-rendering="crispEdges"/>
<rect x="400.50" y="32.95" width="17.10" height="2.33" fill="#0021ff" shape-rendering="crispEdges"/>
<rect x="400.50" y="31.22" width="17.10" height="2.33" fill="#0029ff" shape-rendering="crispEdges"/>
<rect x="400.50" y="29.50" width="17.10" height="2.32" fill="#0039ff" shape-rendering="crispEdges"/>
<rect x="400.50" y="27.77" width="17.10" height="2.33" fill="#0049ff" shape-rendering="crispEdges"/>
<rect x="400.50" y="26.05" width="17.10" height="2.33" fill="#0059ff" shape-rendering="crispEdges"/>
<rect x="400.50" y="24.33" width="17.10" height="2.32" fill="#0071ff" shape-rendering="crispEdges"/>
<rect x="400.50" y="22.60" width="17.10" height="2.33" fill="#008aff" shape-rendering="crispEdges"/>
<rect x="400.50" y="20.87" width="17.10" height="2.33" fill="#00aaff" shape-rendering="crispEdges"/>
<rect x="400.50" y="19.15" width="17.10" height="2.32" fill="#00d2ff" shape-rendering="crispEdges"/>
<rect x="400.50" y="17.42" width="17.10" height="2.33" fill="#2affcc" shape-rendering="crispEdges"/>
<rect x="400.50" y="15.70" width="17.10" height="2.32" fill="#6bff8c" shape-rendering="crispEdges"/>
<rect x="400.50" y="13.97" width="17.10" height="2.33" fill="#b2ff44" shape-rendering="crispEdges"/>
<rect x="400.50" y="12.25" width="17.10" height="2.33" fill="#d9ff1d" shape-rendering="crispEdges"/>
<rect x="400.50" y="10.53" width="17.10" height="2.32" fill="#ff3100" shape-rendering="crispEdges"/>
<rect x="400.50" y="8.80" width="17.10" height="2.33" fill="#800000" shape-rendering="crispEdges"/>
<rect x="400.50" y="9.40" width="17.10" height="345.00" fill="none" stroke="#000" stroke-width="1.3"/>
<text x="421.00" y="358.80">0.00000007</text>
<text x="421.00" y="323.89">0.00000009</text>
<text x="421.00" y="288.97">0.00000013</text>
<text x="421.00" y="254.06">0.00000020</text>
<text x="421.00" y="219.14">0.00000034</text>
<text x="421.00" y="184.23">0.00000065</text>
<text x="421.00" y="149.32">0.00000141</text>
<text x="421.00" y="114.40">0.00000356</text>
<text x="421.00" y="79.49">0.00001106</text>
<text x="421.00" y="44.57">0.00005361</text>
</g>
<path d="M68.66 354.40v-4M68.66 9.40v4M112.93 354.40v-4M112.93 9.40v4M157.19 354.40v-4M157.19 9.40v4M201.45 354.40v-4M201.45 9.40v4M245.71 354.40v-4M245.71 9.40v4M289.98 354.40v-4M289.98 9.40v4M334.24 354.40v-4M334.24 9.40v4M24.40 307.35h4M378.50 307.35h-4M24.40 260.29h4M378.50 260.29h-4M24.40 213.24h4M378.50 213.24h-4M24.40 166.18h4M378.50 166.18h-4M24.40 119.13h4M378.50 119.13h-4M24.40 72.08h4M378.50 72.08h-4M24.40 25.02h4M378.50 25.02h-4M417.60 319.49h-4M417.60 284.57h-4M417.60 249.66h-4M417.60 214.74h-4M417.60 179.83h-4M417.60 144.92h-4M417.60 110.00h-4M417.60 75.09h-4M417.60 40.17h-4" stroke="#000" stroke-width="0.9" fill="none"/>
<g font-size="11.59">
<g transform="matrix(8.7300 0 4.3650 -8.0047 551.000 354.300)" stroke-width="0.1" stroke-linejoin="round">
<path fill="#000080" stroke="#000080" d="M19 1h1l-1 1zM20 1h1l-1 1zM19 2h1l-1 1zM20 1v1h-1z"/>
<path fill="#000089" stroke="#000089" d="M1 38h1l-1 1z"/>
<path fill="#000092" stroke="#000092" d="M2 37v1h-1z"/>
<path fill="#00009b" stroke="#00009b" d="M18 4h1l-1 1zM1 24h1l-1 1zM15 24h1l-1 1zM1 25h1l-1 1zM14 25h1l-1 1zM1 26h1l-1 1zM13 26h1l-1 1zM1 27h1l-1 1zM12 27h1l-1 1zM1 28h1l-1 1zM11 28h1l-1 1zM1 29h1l-1 1zM10 29h1l-1 1zM1 30h1l-1 1zM9 30h1l-1 1zM1 31h1l-1 1zM8 31h1l-1 1zM1 32h1l-1 1zM7 32h1l-1 1zM1 33h1l-1 1zM6 33h1l-1 1zM1 34h1l-1 1zM5 34h1l-1 1zM1 35h1l-1 1zM4 35h1l-1 1zM1 36h1l-1 1zM3 36h1l-1 1zM1 37h1l-1 1zM2 37h1l-1 1zM19 2v1h-1zM20 2v1h-1z"/>
<path fill="#0000a4" stroke="#0000a4" d="M18 3h1l-1 1zM19 3h1l-1 1zM1 23h1l-1 1zM16 23h1l-1 1zM19 1v1h-1zM21 1v1h-1zM19 3v1h-1zM2 26v1h-1zM13 26v1h-1zM2 27v1h-1zM12 27v1h-1zM2 28v1h-1zM11 28v1h-1zM2 29v1h-1zM10 29v1h-1zM2 30v1h-1zM9 30v1h-1zM2 35v1h-1zM4 35v1h-1zM2 36v1h-1zM3 36v1h-1z"/>
<path fill="#0000ad" stroke="#0000ad" d="M1 22h1l-1 1zM17 22h1l-1 1zM2 36h1l-1 1zM2 23v1h-1zM16 23v1h-1zM2 24v1h-1zM15 24v1h-1zM2 25v1h-1zM14 25v1h-1zM2 31v1h-1zM8 31v1h-1zM2 32v1h-1zM7 32v1h-1zM2 33v1h-1zM6 33v1h-1zM2 34v1h-1zM5 34v1h-1z"/>
<path fill="#0000b6" stroke="#0000b6" d="M18 2h1l-1 1zM20 2h1l-1 1zM17 6h1l-1 1zM1 21h1l-1 1zM18 21h1l-1 1zM18 4v1h-1zM19 4v1h-1zM2 22v1h-1zM17 22v1h-1zM3 35v1h-1z"/>
<path fill="#0000bf" stroke="#0000bf" d="M18 1h1l-1 1zM21 1h1l-1 1zM17 5h1l-1 1zM18 5h1l-1 1zM1 20h1l-1 1zM19 20h1l-1 1zM2 27h1l-1 1zM11 27h1l-1 1zM2 28h1l-1 1zM10 28h1l-1 1zM2 29h1l-1 1zM9 29h1l-1 1zM2 30h1l-1 1zM8 30h1l-1 1zM2 35h1l-1 1zM3 35h1l-1 1zM18 5v1h-1zM2 21v1h-1zM18 21v1h-1z"/>
<path fill="#0000c9" stroke="#0000c9" d="M1 19h1l-1 1zM20 19h1l-1 1zM2 23h1l-1 1zM15 23h1l-1 1zM2 24h1l-1 1zM14 24h1l-1 1zM2 25h1l-1 1zM13 25h1l-1 1zM2 26h1l-1 1zM12 26h1l-1 1zM2 31h1l-1 1zM7 31h1l-1 1zM2 32h1l-1 1zM6 32h1l-1 1zM2 33h1l-1 1zM5 33h1l-1 1zM2 34h1l-1 1zM4 34h1l-1 1zM18 3v1h-1zM20 3v1h-1zM2 20v1h-1zM19 20v1h-1zM3 34v1h-1zM4 34v1h-1z"/>
<path fill="#0000d2" stroke="#0000d2" d="M17 4h1l-1 1zM19 4h1l-1 1zM1 18h1l-1 1zM21 18h1l-1 1zM2 22h1l-1 1zM16 22h1l-1 1zM18 2v1h-1zM21 2v1h-1zM17 6v1h-1zM18 6v1h-1zM3 24v1h-1zM14 24v1h-1zM3 25v1h-1zM13 25v1h-1zM3 26v1h-1zM12 26v1h-1zM3 27v1h-1zM11 27v1h-1zM3 28v1h-1zM10 28v1h-1zM3 29v1h-1zM9 29v1h-1zM3 30v1h-1zM8 30v1h-1zM3 31v1h-1zM7 31v1h-1zM3 32v1h-1zM6 32v1h-1zM3 33v1h-1zM5 33v1h-1z"/>
<path fill="#0000db" stroke="#0000db" d="M16 7h1l-1 1zM17 7h1l-1 1zM16 8h1l-1 1zM1 17h1l-1 1zM22 17h1l-1 1zM3 34h1l-1 1zM17 5v1h-1zM19 5v1h-1zM17 7v1h-1zM2 19v1h-1zM20 19v1h-1zM3 23v1h-1zM15 23v1h-1z"/>
<path fill="#0000e4" stroke="#0000e4" d="M17 3h1l-1 1zM20 3h1l-1 1zM16 6h1l-1 1zM18 6h1l-1 1zM1 16h1l-1 1zM23 16h1l-1 1zM2 21h1l-1 1zM17 21h1l-1 1zM3 27h1l-1 1zM10 27h1l-1 1zM3 28h1l-1 1zM9 28h1l-1 1zM3 29h1l-1 1zM8 29h1l-1 1zM3 30h1l-1 1zM7 30h1l-1 1zM3 33h1l-1 1zM4 33h1l-1 1zM18 1v1h-1zM22 1v1h-1zM2 18v1h-1zM21 18v1h-1zM3 22v1h-1zM16 22v1h-1zM4 33v1h-1z"/>
<path fill="#0000ed" stroke="#0000ed" d="M17 2h1l-1 1zM21 2h1l-1 1zM1 15h1l-1 1zM24 15h1l-1 1zM2 20h1l-1 1zM18 20h1l-1 1zM3 24h1l-1 1zM13 24h1l-1 1zM3 25h1l-1 1zM12 25h1l-1 1zM3 26h1l-1 1zM11 26h1l-1 1zM3 31h1l-1 1zM6 31h1l-1 1zM3 32h1l-1 1zM5 32h1l-1 1zM17 4v1h-1zM20 4v1h-1zM2 17v1h-1zM22 17v1h-1zM3 21v1h-1zM17 21v1h-1zM4 28v1h-1zM9 28v1h-1zM4 29v1h-1zM8 29v1h-1zM4 32v1h-1zM5 32v1h-1z"/>
<path fill="#0000f6" stroke="#0000f6" d="M16 5h1l-1 1zM19 5h1l-1 1zM1 13h1l-1 1zM26 13h1l-1 1zM1 14h1l-1 1zM25 14h1l-1 1zM2 19h1l-1 1zM19 19h1l-1 1zM3 23h1l-1 1zM14 23h1l-1 1zM4 32h1l-1 1zM16 7v1h-1zM18 7v1h-1zM16 8v1h-1zM17 8v1h-1zM2 16v1h-1zM23 16v1h-1zM3 20v1h-1zM18 20v1h-1zM4 24v1h-1zM13 24v1h-1zM4 25v1h-1zM12 25v1h-1zM4 26v1h-1zM11 26v1h-1zM4 27v1h-1zM10 27v1h-1zM4 30v1h-1zM7 30v1h-1zM4 31v1h-1zM6 31v1h-1z"/>
<path fill="#0000ff" stroke="#0000ff" d="M15 9h1l-1 1zM16 9h1l-1 1zM1 11h1l-1 1zM28 11h1l-1 1zM1 12h1l-1 1zM27 12h1l-1 1zM3 22h1l-1 1zM15 22h1l-1 1zM4 31h1l-1 1zM5 31h1l-1 1zM16 9v1h-1zM2 15v1h-1zM24 15v1h-1zM3 19v1h-1zM19 19v1h-1zM4 23v1h-1zM14 23v1h-1zM5 31v1h-1z"/>
<path fill="#0000ff" stroke="#0000ff" d="M17 1h1l-1 1zM22 1h1l-1 1zM16 4h1l-1 1zM20 4h1l-1 1zM15 8h1l-1 1zM17 8h1l-1 1zM15 10h1l-1 1zM2 18h1l-1 1zM20 18h1l-1 1zM3 21h1l-1 1zM16 21h1l-1 1zM4 25h1l-1 1zM11 25h1l-1 1zM4 26h1l-1 1zM10 26h1l-1 1zM4 27h1l-1 1zM9 27h1l-1 1zM4 28h1l-1 1zM8 28h1l-1 1zM4 29h1l-1 1zM7 29h1l-1 1zM4 30h1l-1 1zM6 30h1l-1 1zM17 3v1h-1zM21 3v1h-1zM16 6v1h-1zM19 6v1h-1zM2 13v1h-1zM26 13v1h-1zM2 14v1h-1zM25 14v1h-1zM4 22v1h-1zM15 22v1h-1zM5 29v1h-1zM7 29v1h-1zM5 30v1h-1zM6 30v1h-1z"/>
<path fill="#0001ff" stroke="#0001ff" d="M15 7h1l-1 1zM18 7h1l-1 1zM1 10h1l-1 1zM29 10h1l-1 1zM2 17h1l-1 1zM21 17h1l-1 1zM3 20h1l-1 1zM17 20h1l-1 1zM4 23h1l-1 1zM13 23h1l-1 1zM4 24h1l-1 1zM12 24h1l-1 1zM5 30h1l-1 1zM2 12v1h-1zM27 12v1h-1zM3 18v1h-1zM20 18v1h-1zM4 21v1h-1zM16 21v1h-1zM5 25v1h-1zM11 25v1h-1zM5 26v1h-1zM10 26v1h-1zM5 27v1h-1zM9 27v1h-1zM5 28v1h-1zM8 28v1h-1z"/>
<path fill="#0009ff" stroke="#0009ff" d="M1 9h1l-1 1zM30 9h1l-1 1zM2 16h1l-1 1zM22 16h1l-1 1zM5 28h1l-1 1zM7 28h1l-1 1zM5 29h1l-1 1zM6 29h1l-1 1zM17 2v1h-1zM22 2v1h-1zM16 5v1h-1zM20 5v1h-1zM15 9v1h-1zM17 9v1h-1zM15 10v1h-1zM16 10v1h-1zM2 11v1h-1zM28 11v1h-1zM3 17v1h-1zM21 17v1h-1zM4 20v1h-1zM17 20v1h-1zM5 23v1h-1zM13 23v1h-1zM5 24v1h-1zM12 24v1h-1zM6 29v1h-1z"/>
<path fill="#0011ff" stroke="#0011ff" d="M16 3h1l-1 1zM21 3h1l-1 1zM15 6h1l-1 1zM19 6h1l-1 1zM1 8h1l-1 1zM31 8h1l-1 1zM2 15h1l-1 1zM23 15h1l-1 1zM3 19h1l-1 1zM18 19h1l-1 1zM4 22h1l-1 1zM14 22h1l-1 1zM5 26h1l-1 1zM9 26h1l-1 1zM5 27h1l-1 1zM8 27h1l-1 1zM15 8v1h-1zM18 8v1h-1zM2 10v1h-1zM29 10v1h-1zM3 16v1h-1zM22 16v1h-1zM5 22v1h-1zM14 22v1h-1zM6 27v1h-1zM8 27v1h-1zM6 28v1h-1zM7 28v1h-1z"/>
<path fill="#0019ff" stroke="#0019ff" d="M1 7h1l-1 1zM32 7h1l-1 1zM14 9h1l-1 1zM17 9h1l-1 1zM14 10h1l-1 1zM16 10h1l-1 1zM14 11h1l-1 1zM15 11h1l-1 1zM2 14h1l-1 1zM24 14h1l-1 1zM3 18h1l-1 1zM19 18h1l-1 1zM4 21h1l-1 1zM15 21h1l-1 1zM5 24h1l-1 1zM11 24h1l-1 1zM5 25h1l-1 1zM10 25h1l-1 1zM6 28h1l-1 1zM15 11v1h-1zM4 19v1h-1zM18 19v1h-1zM6 25v1h-1zM10 25v1h-1zM6 26v1h-1zM9 26v1h-1zM7 27v1h-1z"/>
<path fill="#0021ff" stroke="#0021ff" d="M16 2h1l-1 1zM22 2h1l-1 1zM15 5h1l-1 1zM20 5h1l-1 1zM1 6h1l-1 1zM33 6h1l-1 1zM2 13h1l-1 1zM25 13h1l-1 1zM4 20h1l-1 1zM16 20h1l-1 1zM5 23h1l-1 1zM12 23h1l-1 1zM6 27h1l-1 1zM7 27h1l-1 1zM17 1v1h-1zM23 1v1h-1zM16 4v1h-1zM21 4v1h-1zM15 7v1h-1zM19 7v1h-1zM2 9v1h-1zM30 9v1h-1zM3 15v1h-1zM23 15v1h-1zM4 18v1h-1zM19 18v1h-1zM5 21v1h-1zM15 21v1h-1zM6 23v1h-1zM12 23v1h-1zM6 24v1h-1zM11 24v1h-1z"/>
<path fill="#0029ff" stroke="#0029ff" d="M14 8h1l-1 1zM18 8h1l-1 1zM2 12h1l-1 1zM14 12h1l-1 1zM26 12h1l-1 1zM3 17h1l-1 1zM20 17h1l-1 1zM5 22h1l-1 1zM13 22h1l-1 1zM6 24h1l-1 1zM10 24h1l-1 1zM6 25h1l-1 1zM9 25h1l-1 1zM6 26h1l-1 1zM8 26h1l-1 1zM15 6v1h-1zM20 6v1h-1zM2 8v1h-1zM31 8v1h-1zM3 14v1h-1zM24 14v1h-1zM5 20v1h-1zM16 20v1h-1zM6 22v1h-1zM13 22v1h-1zM7 25v1h-1zM9 25v1h-1zM7 26v1h-1zM8 26v1h-1z"/>
<path fill="#0031ff" stroke="#0031ff" d="M1 5h1l-1 1zM34 5h1l-1 1zM14 7h1l-1 1zM19 7h1l-1 1zM3 16h1l-1 1zM21 16h1l-1 1zM4 19h1l-1 1zM17 19h1l-1 1zM5 21h1l-1 1zM14 21h1l-1 1zM6 23h1l-1 1zM11 23h1l-1 1zM7 26h1l-1 1zM14 10v1h-1zM17 10v1h-1zM14 11v1h-1zM16 11v1h-1zM3 13v1h-1zM25 13v1h-1zM4 17v1h-1zM20 17v1h-1zM7 24v1h-1zM10 24v1h-1zM8 25v1h-1z"/>
<path fill="#0039ff" stroke="#0039ff" d="M2 11h1l-1 1zM27 11h1l-1 1zM4 18h1l-1 1zM18 18h1l-1 1zM7 24h1l-1 1zM9 24h1l-1 1zM7 25h1l-1 1zM8 25h1l-1 1zM16 3v1h-1zM22 3v1h-1zM2 7v1h-1zM32 7v1h-1zM14 9v1h-1zM18 9v1h-1zM3 12v1h-1zM14 12v1h-1zM15 12v1h-1zM26 12v1h-1zM4 16v1h-1zM21 16v1h-1zM5 19v1h-1zM17 19v1h-1zM6 21v1h-1zM14 21v1h-1zM7 23v1h-1zM11 23v1h-1zM8 24v1h-1zM9 24v1h-1z"/>
<path fill="#0041ff" stroke="#0041ff" d="M16 1h1l-1 1zM23 1h1l-1 1zM1 4h1l-1 1zM15 4h1l-1 1zM21 4h1l-1 1zM35 4h1l-1 1zM14 6h1l-1 1zM20 6h1l-1 1zM2 10h1l-1 1zM13 10h1l-1 1zM17 10h1l-1 1zM28 10h1l-1 1zM13 11h1l-1 1zM16 11h1l-1 1zM13 12h1l-1 1zM15 12h1l-1 1zM13 13h1l-1 1zM14 13h1l-1 1zM3 15h1l-1 1zM22 15h1l-1 1zM5 20h1l-1 1zM15 20h1l-1 1zM6 22h1l-1 1zM12 22h1l-1 1zM7 23h1l-1 1zM10 23h1l-1 1zM8 24h1l-1 1zM15 5v1h-1zM21 5v1h-1zM2 6v1h-1zM33 6v1h-1zM14 8v1h-1zM19 8v1h-1zM5 18v1h-1zM18 18v1h-1zM6 20v1h-1zM15 20v1h-1zM7 22v1h-1zM12 22v1h-1z"/>
<path fill="#0049ff" stroke="#0049ff" d="M13 9h1l-1 1zM18 9h1l-1 1zM3 14h1l-1 1zM23 14h1l-1 1zM4 17h1l-1 1zM19 17h1l-1 1zM6 21h1l-1 1zM13 21h1l-1 1zM3 11v1h-1zM27 11v1h-1zM14 13v1h-1zM4 15v1h-1zM22 15v1h-1zM7 21v1h-1zM13 21v1h-1zM8 23v1h-1zM9 23v1h-1zM10 23v1h-1z"/>
<path fill="#0051ff" stroke="#0051ff" d="M1 3h1l-1 1zM36 3h1l-1 1zM3 13h1l-1 1zM24 13h1l-1 1zM13 14h1l-1 1zM5 19h1l-1 1zM16 19h1l-1 1zM7 22h1l-1 1zM11 22h1l-1 1zM8 23h1l-1 1zM9 23h1l-1 1zM2 5v1h-1zM34 5v1h-1zM14 7v1h-1zM20 7v1h-1zM3 10v1h-1zM28 10v1h-1zM4 14v1h-1zM23 14v1h-1zM5 17v1h-1zM19 17v1h-1zM6 19v1h-1zM16 19v1h-1zM8 22v1h-1zM11 22v1h-1z"/>
<path fill="#0059ff" stroke="#0059ff" d="M13 8h1l-1 1zM19 8h1l-1 1zM2 9h1l-1 1zM29 9h1l-1 1zM4 16h1l-1 1zM20 16h1l-1 1zM5 18h1l-1 1zM17 18h1l-1 1zM6 20h1l-1 1zM14 20h1l-1 1zM7 21h1l-1 1zM12 21h1l-1 1zM16 2v1h-1zM23 2v1h-1zM13 11v1h-1zM17 11v1h-1zM13 12v1h-1zM16 12v1h-1zM13 13v1h-1zM15 13v1h-1zM6 18v1h-1zM17 18v1h-1zM7 20v1h-1zM14 20v1h-1zM9 22v1h-1zM10 22v1h-1z"/>
<path fill="#0061ff" stroke="#0061ff" d="M1 2h1l-1 1zM37 2h1l-1 1zM15 3h1l-1 1zM22 3h1l-1 1zM14 5h1l-1 1zM21 5h1l-1 1zM13 7h1l-1 1zM20 7h1l-1 1zM3 12h1l-1 1zM25 12h1l-1 1zM4 15h1l-1 1zM21 15h1l-1 1zM6 19h1l-1 1zM15 19h1l-1 1zM8 22h1l-1 1zM10 22h1l-1 1zM15 4v1h-1zM22 4v1h-1zM14 6v1h-1zM21 6v1h-1zM13 9v1h-1zM19 9v1h-1zM13 10v1h-1zM18 10v1h-1zM4 13v1h-1zM24 13v1h-1zM13 14v1h-1zM14 14v1h-1zM5 16v1h-1zM20 16v1h-1zM7 19v1h-1zM15 19v1h-1zM8 21v1h-1zM12 21v1h-1z"/>
<path fill="#0069ff" stroke="#0069ff" d="M2 8h1l-1 1zM30 8h1l-1 1zM12 11h1l-1 1zM17 11h1l-1 1zM12 12h1l-1 1zM16 12h1l-1 1zM12 13h1l-1 1zM15 13h1l-1 1zM12 14h1l-1 1zM14 14h1l-1 1zM5 17h1l-1 1zM18 17h1l-1 1zM6 18h1l-1 1zM16 18h1l-1 1zM7 20h1l-1 1zM13 20h1l-1 1zM8 21h1l-1 1zM11 21h1l-1 1zM9 22h1l-1 1zM2 4v1h-1zM35 4v1h-1zM3 9v1h-1zM29 9v1h-1zM4 12v1h-1zM25 12v1h-1zM5 15v1h-1zM21 15v1h-1zM6 17v1h-1zM18 17v1h-1zM7 18v1h-1zM16 18v1h-1zM8 20v1h-1zM13 20v1h-1zM9 21v1h-1zM11 21v1h-1z"/>
<path fill="#0071ff" stroke="#0071ff" d="M1 1h1l-1 1zM38 1h1l-1 1zM13 6h1l-1 1zM21 6h1l-1 1zM12 10h1l-1 1zM18 10h1l-1 1zM3 11h1l-1 1zM26 11h1l-1 1zM4 14h1l-1 1zM22 14h1l-1 1zM12 15h1l-1 1zM13 15h1l-1 1zM7 19h1l-1 1zM14 19h1l-1 1zM13 8v1h-1zM20 8v1h-1zM13 15v1h-1zM7 17v1h-1zM17 17v1h-1zM8 19v1h-1zM14 19v1h-1zM10 21v1h-1z"/>
<path fill="#0079ff" stroke="#0079ff" d="M2 7h1l-1 1zM31 7h1l-1 1zM12 9h1l-1 1zM19 9h1l-1 1zM5 16h1l-1 1zM12 16h1l-1 1zM19 16h1l-1 1zM6 17h1l-1 1zM7 17h1l-1 1zM16 17h1l-1 1zM17 17h1l-1 1zM7 18h1l-1 1zM15 18h1l-1 1zM8 20h1l-1 1zM12 20h1l-1 1zM9 21h1l-1 1zM10 21h1l-1 1zM16 1v1h-1zM24 1v1h-1zM14 5v1h-1zM22 5v1h-1zM13 7v1h-1zM21 7v1h-1zM4 11v1h-1zM26 11v1h-1zM5 14v1h-1zM22 14v1h-1zM6 16v1h-1zM19 16v1h-1zM8 17v1h-1zM16 17v1h-1zM8 18v1h-1zM15 18v1h-1zM9 20v1h-1zM12 20v1h-1z"/>
<path fill="#0082ff" stroke="#0082ff" d="M15 2h1l-1 1zM23 2h1l-1 1zM14 4h1l-1 1zM22 4h1l-1 1zM12 8h1l-1 1zM20 8h1l-1 1zM3 10h1l-1 1zM27 10h1l-1 1zM4 13h1l-1 1zM23 13h1l-1 1zM6 16h1l-1 1zM7 16h1l-1 1zM17 16h1l-1 1zM18 16h1l-1 1zM8 17h1l-1 1zM15 17h1l-1 1zM8 18h1l-1 1zM14 18h1l-1 1zM8 19h1l-1 1zM13 19h1l-1 1zM9 20h1l-1 1zM11 20h1l-1 1zM2 3v1h-1zM15 3v1h-1zM23 3v1h-1zM36 3v1h-1zM3 8v1h-1zM30 8v1h-1zM12 11v1h-1zM18 11v1h-1zM12 12v1h-1zM17 12v1h-1zM12 13v1h-1zM16 13v1h-1zM12 14v1h-1zM15 14v1h-1zM12 15v1h-1zM14 15v1h-1zM7 16v1h-1zM8 16v1h-1zM17 16v1h-1zM18 16v1h-1zM9 19v1h-1zM13 19v1h-1zM10 20v1h-1zM11 20v1h-1z"/>
<path fill="#008aff" stroke="#008aff" d="M2 6h1l-1 1zM32 6h1l-1 1zM11 12h1l-1 1zM17 12h1l-1 1zM11 13h1l-1 1zM16 13h1l-1 1zM11 14h1l-1 1zM15 14h1l-1 1zM5 15h1l-1 1zM7 15h1l-1 1zM11 15h1l-1 1zM14 15h1l-1 1zM18 15h1l-1 1zM20 15h1l-1 1zM8 16h1l-1 1zM11 16h1l-1 1zM13 16h1l-1 1zM16 16h1l-1 1zM10 20h1l-1 1zM13 6v1h-1zM22 6v1h-1zM12 9v1h-1zM20 9v1h-1zM12 10v1h-1zM19 10v1h-1zM5 13v1h-1zM23 13v1h-1zM6 15v1h-1zM7 15v1h-1zM8 15v1h-1zM18 15v1h-1zM19 15v1h-1zM20 15v1h-1zM9 16v1h-1zM12 16v1h-1zM13 16v1h-1zM16 16v1h-1zM9 17v1h-1zM15 17v1h-1zM9 18v1h-1zM14 18v1h-1z"/>
<path fill="#0092ff" stroke="#0092ff" d="M13 5h1l-1 1zM22 5h1l-1 1zM12 7h1l-1 1zM21 7h1l-1 1zM11 10h1l-1 1zM19 10h1l-1 1zM11 11h1l-1 1zM18 11h1l-1 1zM4 12h1l-1 1zM24 12h1l-1 1zM8 14h1l-1 1zM18 14h1l-1 1zM6 15h1l-1 1zM8 15h1l-1 1zM17 15h1l-1 1zM19 15h1l-1 1zM9 16h1l-1 1zM15 16h1l-1 1zM9 17h1l-1 1zM11 17h1l-1 1zM12 17h1l-1 1zM14 17h1l-1 1zM9 18h1l-1 1zM13 18h1l-1 1zM9 19h1l-1 1zM12 19h1l-1 1zM2 2v1h-1zM37 2v1h-1zM3 7v1h-1zM31 7v1h-1zM4 10v1h-1zM27 10v1h-1zM8 14v1h-1zM9 14v1h-1zM18 14v1h-1zM19 14v1h-1zM9 15v1h-1zM11 15v1h-1zM15 15v1h-1zM17 15v1h-1zM10 16v1h-1zM11 16v1h-1zM14 16v1h-1zM15 16v1h-1zM10 17v1h-1zM12 17v1h-1zM14 17v1h-1zM10 18v1h-1zM13 18v1h-1zM10 19v1h-1zM11 19v1h-1zM12 19v1h-1z"/>
<path fill="#009aff" stroke="#009aff" d="M9 13h1l-1 1zM18 13h1l-1 1zM5 14h1l-1 1zM7 14h1l-1 1zM9 14h1l-1 1zM10 14h1l-1 1zM16 14h1l-1 1zM17 14h1l-1 1zM19 14h1l-1 1zM21 14h1l-1 1zM9 15h1l-1 1zM10 15h1l-1 1zM15 15h1l-1 1zM16 15h1l-1 1zM10 16h1l-1 1zM14 16h1l-1 1zM10 17h1l-1 1zM13 17h1l-1 1zM10 18h1l-1 1zM11 18h1l-1 1zM12 18h1l-1 1zM10 19h1l-1 1zM11 19h1l-1 1zM14 4v1h-1zM23 4v1h-1zM12 8v1h-1zM21 8v1h-1zM11 11v1h-1zM19 11v1h-1zM5 12v1h-1zM11 12v1h-1zM18 12v1h-1zM24 12v1h-1zM9 13v1h-1zM10 13v1h-1zM11 13v1h-1zM17 13v1h-1zM18 13v1h-1zM19 13v1h-1zM6 14v1h-1zM7 14v1h-1zM10 14v1h-1zM11 14v1h-1zM16 14v1h-1zM17 14v1h-1zM20 14v1h-1zM21 14v1h-1zM10 15v1h-1zM16 15v1h-1zM11 17v1h-1zM13 17v1h-1zM11 18v1h-1zM12 18v1h-1z"/>
<path fill="#00a2ff" stroke="#00a2ff" d="M2 5h1l-1 1zM33 5h1l-1 1zM12 6h1l-1 1zM22 6h1l-1 1zM3 9h1l-1 1zM11 9h1l-1 1zM20 9h1l-1 1zM28 9h1l-1 1zM4 11h1l-1 1zM10 11h1l-1 1zM19 11h1l-1 1zM25 11h1l-1 1zM9 12h1l-1 1zM10 12h1l-1 1zM18 12h1l-1 1zM19 12h1l-1 1zM8 13h1l-1 1zM10 13h1l-1 1zM17 13h1l-1 1zM19 13h1l-1 1zM6 14h1l-1 1zM20 14h1l-1 1zM15 2v1h-1zM24 2v1h-1zM13 5v1h-1zM23 5v1h-1zM3 6v1h-1zM32 6v1h-1zM11 10v1h-1zM20 10v1h-1zM9 12v1h-1zM10 12v1h-1zM19 12v1h-1zM20 12v1h-1zM8 13v1h-1zM20 13v1h-1z"/>
<path fill="#00aaff" stroke="#00aaff" d="M15 1h1l-1 1zM24 1h1l-1 1zM14 3h1l-1 1zM23 3h1l-1 1zM11 8h1l-1 1zM21 8h1l-1 1zM10 10h1l-1 1zM20 10h1l-1 1zM9 11h1l-1 1zM20 11h1l-1 1zM8 12h1l-1 1zM20 12h1l-1 1zM5 13h1l-1 1zM7 13h1l-1 1zM20 13h1l-1 1zM22 13h1l-1 1zM2 1v1h-1zM38 1v1h-1zM12 7v1h-1zM22 7v1h-1zM4 9v1h-1zM11 9v1h-1zM21 9v1h-1zM28 9v1h-1zM5 11v1h-1zM10 11v1h-1zM20 11v1h-1zM25 11v1h-1zM6 13v1h-1zM7 13v1h-1zM21 13v1h-1zM22 13v1h-1z"/>
<path fill="#00b2ff" stroke="#00b2ff" d="M6 13h1l-1 1zM21 13h1l-1 1zM10 10v1h-1zM21 10v1h-1zM9 11v1h-1zM21 11v1h-1zM8 12v1h-1zM21 12v1h-1z"/>
<path fill="#00baff" stroke="#00baff" d="M13 4h1l-1 1zM23 4h1l-1 1zM12 5h1l-1 1zM23 5h1l-1 1zM11 7h1l-1 1zM22 7h1l-1 1zM3 8h1l-1 1zM29 8h1l-1 1zM10 9h1l-1 1zM21 9h1l-1 1zM4 10h1l-1 1zM9 10h1l-1 1zM21 10h1l-1 1zM26 10h1l-1 1zM8 11h1l-1 1zM21 11h1l-1 1zM5 12h1l-1 1zM7 12h1l-1 1zM21 12h1l-1 1zM23 12h1l-1 1zM12 6v1h-1zM23 6v1h-1zM11 8v1h-1zM22 8v1h-1zM6 12v1h-1zM7 12v1h-1zM22 12v1h-1zM23 12v1h-1z"/>
<path fill="#00c2ff" stroke="#00c2ff" d="M2 4h1l-1 1zM34 4h1l-1 1zM14 3v1h-1zM24 3v1h-1zM3 5v1h-1zM33 5v1h-1zM10 9v1h-1zM22 9v1h-1zM5 10v1h-1zM9 10v1h-1zM22 10v1h-1zM26 10v1h-1zM8 11v1h-1zM22 11v1h-1z"/>
<path fill="#00caff" stroke="#00caff" d="M14 2h1l-1 1zM24 2h1l-1 1zM6 12h1l-1 1zM22 12h1l-1 1zM13 4v1h-1zM24 4v1h-1zM4 8v1h-1zM29 8v1h-1z"/>
<path fill="#00d2ff" stroke="#00d2ff" d="M11 6h1l-1 1zM23 6h1l-1 1zM3 7h1l-1 1zM30 7h1l-1 1zM10 8h1l-1 1zM22 8h1l-1 1zM9 9h1l-1 1zM22 9h1l-1 1zM8 10h1l-1 1zM22 10h1l-1 1zM5 11h1l-1 1zM7 11h1l-1 1zM22 11h1l-1 1zM24 11h1l-1 1zM15 1v1h-1zM25 1v1h-1zM11 7v1h-1zM23 7v1h-1zM6 11v1h-1zM7 11v1h-1zM23 11v1h-1zM24 11v1h-1z"/>
<path fill="#00daff" stroke="#00daff" d="M4 9h1l-1 1zM27 9h1l-1 1zM12 5v1h-1zM24 5v1h-1zM10 8v1h-1zM23 8v1h-1zM9 9v1h-1zM23 9v1h-1zM8 10v1h-1zM23 10v1h-1z"/>
<path fill="#00e2fa" stroke="#00e2fa" d="M2 3h1l-1 1zM13 3h1l-1 1zM24 3h1l-1 1zM35 3h1l-1 1zM10 7h1l-1 1zM23 7h1l-1 1zM6 11h1l-1 1zM23 11h1l-1 1zM3 4v1h-1zM34 4v1h-1zM4 7v1h-1zM30 7v1h-1zM5 9v1h-1zM27 9v1h-1z"/>
<path fill="#04eaf3" stroke="#04eaf3" d="M12 4h1l-1 1zM24 4h1l-1 1zM3 6h1l-1 1zM31 6h1l-1 1zM5 10h1l-1 1zM7 10h1l-1 1zM23 10h1l-1 1zM25 10h1l-1 1zM14 2v1h-1zM25 2v1h-1zM11 6v1h-1zM24 6v1h-1zM6 10v1h-1zM25 10v1h-1z"/>
<path fill="#0af2ed" stroke="#0af2ed" d="M11 5h1l-1 1zM24 5h1l-1 1zM9 8h1l-1 1zM23 8h1l-1 1zM8 9h1l-1 1zM23 9h1l-1 1zM13 3v1h-1zM25 3v1h-1zM7 10v1h-1zM24 10v1h-1z"/>
<path fill="#11fae6" stroke="#11fae6" d="M14 1h1l-1 1zM25 1h1l-1 1zM4 8h1l-1 1zM28 8h1l-1 1zM4 6v1h-1zM31 6v1h-1zM10 7v1h-1zM24 7v1h-1zM8 9v1h-1zM24 9v1h-1z"/>
<path fill="#17ffe0" stroke="#17ffe0" d="M2 2h1l-1 1zM36 2h1l-1 1zM10 6h1l-1 1zM24 6h1l-1 1zM6 10h1l-1 1zM24 10h1l-1 1zM12 4v1h-1zM25 4v1h-1zM9 8v1h-1zM24 8v1h-1z"/>
<path fill="#1dffd9" stroke="#1dffd9" d="M13 2h1l-1 1zM25 2h1l-1 1zM3 3v1h-1zM35 3v1h-1zM11 5v1h-1zM25 5v1h-1zM5 8v1h-1zM28 8v1h-1z"/>
<path fill="#24ffd3" stroke="#24ffd3" d="M12 3h1l-1 1zM25 3h1l-1 1zM3 5h1l-1 1zM32 5h1l-1 1zM9 7h1l-1 1zM24 7h1l-1 1zM5 9h1l-1 1zM26 9h1l-1 1zM10 6v1h-1zM25 6v1h-1zM6 9v1h-1zM26 9v1h-1z"/>
<path fill="#2affcc" stroke="#2affcc" d="M4 7h1l-1 1zM29 7h1l-1 1zM8 8h1l-1 1zM24 8h1l-1 1zM7 9h1l-1 1zM24 9h1l-1 1zM14 1v1h-1zM26 1v1h-1zM7 9v1h-1zM25 9v1h-1z"/>
<path fill="#31ffc6" stroke="#31ffc6" d="M2 1h1l-1 1zM37 1h1l-1 1zM13 2v1h-1zM26 2v1h-1zM4 5v1h-1zM32 5v1h-1zM9 7v1h-1zM25 7v1h-1z"/>
<path fill="#37ffbf" stroke="#37ffbf" d="M11 4h1l-1 1zM25 4h1l-1 1zM10 5h1l-1 1zM25 5h1l-1 1zM6 9h1l-1 1zM25 9h1l-1 1zM3 2v1h-1zM36 2v1h-1zM5 7v1h-1zM29 7v1h-1zM8 8v1h-1zM25 8v1h-1z"/>
<path fill="#3effb9" stroke="#3effb9" d="M9 6h1l-1 1zM25 6h1l-1 1zM12 3v1h-1zM26 3v1h-1z"/>
<path fill="#44ffb2" stroke="#44ffb2" d="M12 2h1l-1 1zM26 2h1l-1 1zM4 6h1l-1 1zM30 6h1l-1 1zM5 8h1l-1 1zM27 8h1l-1 1zM11 4v1h-1zM26 4v1h-1zM6 8v1h-1zM27 8v1h-1z"/>
<path fill="#4bffac" stroke="#4bffac" d="M13 1h1l-1 1zM26 1h1l-1 1zM8 7h1l-1 1zM25 7h1l-1 1zM7 8h1l-1 1zM25 8h1l-1 1zM10 5v1h-1zM26 5v1h-1zM7 8v1h-1zM26 8v1h-1z"/>
<path fill="#51ffa5" stroke="#51ffa5" d="M3 4h1l-1 1zM33 4h1l-1 1zM5 6v1h-1zM9 6v1h-1zM26 6v1h-1zM30 6v1h-1z"/>
<path fill="#58ff9f" stroke="#58ff9f" d="M3 1v1h-1zM13 1v1h-1zM27 1v1h-1zM37 1v1h-1zM8 7v1h-1zM26 7v1h-1z"/>
<path fill="#5eff99" stroke="#5eff99" d="M6 8h1l-1 1zM26 8h1l-1 1zM4 4v1h-1zM33 4v1h-1z"/>
<path fill="#65ff92" stroke="#65ff92" d="M11 3h1l-1 1zM26 3h1l-1 1zM10 4h1l-1 1zM26 4h1l-1 1zM5 7h1l-1 1zM28 7h1l-1 1zM6 7v1h-1zM28 7v1h-1z"/>
<path fill="#6bff8c" stroke="#6bff8c" d="M9 5h1l-1 1zM26 5h1l-1 1zM8 6h1l-1 1zM26 6h1l-1 1zM12 2v1h-1zM27 2v1h-1z"/>
<path fill="#72ff85" stroke="#72ff85" d="M4 5h1l-1 1zM31 5h1l-1 1zM7 7h1l-1 1zM26 7h1l-1 1zM7 7v1h-1zM27 7v1h-1z"/>
<path fill="#78ff7f" stroke="#78ff7f" d="M12 1h1l-1 1zM27 1h1l-1 1zM3 3h1l-1 1zM34 3h1l-1 1zM11 3v1h-1zM27 3v1h-1zM5 5v1h-1zM31 5v1h-1z"/>
<path fill="#7fff78" stroke="#7fff78" d="M5 6h1l-1 1zM29 6h1l-1 1zM10 4v1h-1zM27 4v1h-1zM9 5v1h-1zM27 5v1h-1zM8 6v1h-1zM27 6v1h-1z"/>
<path fill="#85ff72" stroke="#85ff72" d="M6 7h1l-1 1zM27 7h1l-1 1zM6 6v1h-1zM29 6v1h-1z"/>
<path fill="#8cff6b" stroke="#8cff6b" d="M11 2h1l-1 1zM27 2h1l-1 1zM4 3v1h-1zM34 3v1h-1z"/>
<path fill="#99ff5e" stroke="#99ff5e" d="M3 2h1l-1 1zM35 2h1l-1 1zM10 3h1l-1 1zM27 3h1l-1 1zM7 6h1l-1 1zM27 6h1l-1 1zM12 1v1h-1zM28 1v1h-1zM7 6v1h-1zM28 6v1h-1z"/>
<path fill="#9fff58" stroke="#9fff58" d="M8 5h1l-1 1zM27 5h1l-1 1z"/>
<path fill="#a5ff51" stroke="#a5ff51" d="M4 4h1l-1 1zM9 4h1l-1 1zM27 4h1l-1 1zM32 4h1l-1 1zM6 6h1l-1 1zM28 6h1l-1 1zM11 2v1h-1zM28 2v1h-1z"/>
<path fill="#acff4b" stroke="#acff4b" d="M5 4v1h-1zM32 4v1h-1zM8 5v1h-1zM28 5v1h-1z"/>
<path fill="#b2ff44" stroke="#b2ff44" d="M5 5h1l-1 1zM30 5h1l-1 1zM4 2v1h-1zM35 2v1h-1zM6 5v1h-1zM30 5v1h-1z"/>
<path fill="#b9ff3e" stroke="#b9ff3e" d="M10 3v1h-1zM28 3v1h-1zM9 4v1h-1zM28 4v1h-1z"/>
<path fill="#c6ff31" stroke="#c6ff31" d="M3 1h1l-1 1zM36 1h1l-1 1z"/>
<path fill="#ccff2a" stroke="#ccff2a" d="M11 1h1l-1 1zM28 1h1l-1 1zM10 2h1l-1 1zM28 2h1l-1 1zM7 5v1h-1zM29 5v1h-1z"/>
<path fill="#d3ff24" stroke="#d3ff24" d="M7 5h1l-1 1zM28 5h1l-1 1z"/>
<path fill="#d9ff1d" stroke="#d9ff1d" d="M4 3h1l-1 1zM33 3h1l-1 1z"/>
<path fill="#e0ff17" stroke="#e0ff17" d="M6 5h1l-1 1zM29 5h1l-1 1zM4 1v1h-1zM11 1v1h-1zM29 1v1h-1zM36 1v1h-1z"/>
<path fill="#e6ff11" stroke="#e6ff11" d="M9 3h1l-1 1zM28 3h1l-1 1zM8 4h1l-1 1zM28 4h1l-1 1zM5 3v1h-1zM33 3v1h-1z"/>
<path fill="#edff0a" stroke="#edff0a" d="M5 4h1l-1 1zM31 4h1l-1 1zM6 4v1h-1zM31 4v1h-1z"/>
<path fill="#f3fa04" stroke="#f3fa04" d="M10 2v1h-1zM29 2v1h-1zM8 4v1h-1zM29 4v1h-1z"/>
<path fill="#faf200" stroke="#faf200" d="M9 3v1h-1zM29 3v1h-1z"/>
<path fill="#ffe300" stroke="#ffe300" d="M4 2h1l-1 1zM34 2h1l-1 1z"/>
<path fill="#ffdc00" stroke="#ffdc00" d="M10 1h1l-1 1zM29 1h1l-1 1zM7 4v1h-1zM30 4v1h-1z"/>
<path fill="#ffd400" stroke="#ffd400" d="M5 2v1h-1zM34 2v1h-1z"/>
<path fill="#ffc600" stroke="#ffc600" d="M9 2h1l-1 1zM29 2h1l-1 1zM7 4h1l-1 1zM29 4h1l-1 1z"/>
<path fill="#ffb700" stroke="#ffb700" d="M5 3h1l-1 1zM8 3h1l-1 1zM29 3h1l-1 1zM32 3h1l-1 1zM6 4h1l-1 1zM30 4h1l-1 1z"/>
<path fill="#ffaf00" stroke="#ffaf00" d="M10 1v1h-1zM30 1v1h-1zM6 3v1h-1zM32 3v1h-1z"/>
<path fill="#ffa800" stroke="#ffa800" d="M9 2v1h-1zM30 2v1h-1z"/>
<path fill="#ffa000" stroke="#ffa000" d="M8 3v1h-1zM30 3v1h-1z"/>
<path fill="#ff9900" stroke="#ff9900" d="M4 1h1l-1 1zM35 1h1l-1 1z"/>
<path fill="#ff8a00" stroke="#ff8a00" d="M5 1v1h-1zM35 1v1h-1z"/>
<path fill="#ff8300" stroke="#ff8300" d="M7 3v1h-1zM31 3v1h-1z"/>
<path fill="#ff7b00" stroke="#ff7b00" d="M5 2h1l-1 1zM33 2h1l-1 1z"/>
<path fill="#ff6c00" stroke="#ff6c00" d="M9 1h1l-1 1zM30 1h1l-1 1zM8 2h1l-1 1zM30 2h1l-1 1zM7 3h1l-1 1zM30 3h1l-1 1zM6 2v1h-1zM33 2v1h-1z"/>
<path fill="#ff6500" stroke="#ff6500" d="M6 3h1l-1 1zM31 3h1l-1 1z"/>
<path fill="#ff4f00" stroke="#ff4f00" d="M9 1v1h-1zM31 1v1h-1zM8 2v1h-1zM31 2v1h-1z"/>
<path fill="#ff3100" stroke="#ff3100" d="M7 2v1h-1zM32 2v1h-1z"/>
<path fill="#ff2900" stroke="#ff2900" d="M5 1h1l-1 1zM34 1h1l-1 1z"/>
<path fill="#ff1b00" stroke="#ff1b00" d="M7 2h1l-1 1zM31 2h1l-1 1zM6 1v1h-1zM34 1v1h-1z"/>
<path fill="#ff1300" stroke="#ff1300" d="M6 2h1l-1 1zM32 2h1l-1 1z"/>
<path fill="#f60c00" stroke="#f60c00" d="M8 1h1l-1 1zM31 1h1l-1 1z"/>
<path fill="#d20000" stroke="#d20000" d="M8 1v1h-1zM32 1v1h-1z"/>
<path fill="#ad0000" stroke="#ad0000" d="M7 1v1h-1zM33 1v1h-1z"/>
<path fill="#800000" stroke="#800000" d="M6 1h1l-1 1zM7 1h1l-1 1zM32 1h1l-1 1zM33 1h1l-1 1z"/>
</g>
<rect x="551.00" y="15.45" width="349.20" height="338.85" fill="none" stroke="#000" stroke-width="1.3"/>
<text x="551.60" y="367.30" text-anchor="middle">0</text>
<text x="595.25" y="367.30" text-anchor="middle">5</text>
<text x="638.90" y="367.30" text-anchor="middle">10</text>
<text x="682.55" y="367.30" text-anchor="middle">15</text>
<text x="726.20" y="367.30" text-anchor="middle">20</text>
<text x="769.85" y="367.30" text-anchor="middle">25</text>
<text x="813.50" y="367.30" text-anchor="middle">30</text>
<text x="857.15" y="367.30" text-anchor="middle">35</text>
<text x="900.80" y="367.30" text-anchor="middle">40</text>
<text x="548.60" y="358.80" text-anchor="end">0</text>
<text x="548.60" y="312.58" text-anchor="end">5</text>
<text x="548.60" y="266.37" text-anchor="end">10</text>
<text x="548.60" y="220.15" text-anchor="end">15</text>
<text x="548.60" y="173.94" text-anchor="end">20</text>
<text x="548.60" y="127.72" text-anchor="end">25</text>
<text x="548.60" y="81.51" text-anchor="end">30</text>
<text x="548.60" y="35.29" text-anchor="end">35</text>
<rect x="921.40" y="352.01" width="17.40" height="2.29" fill="#000080" shape-rendering="crispEdges"/>
<rect x="921.40" y="338.45" width="17.40" height="14.15" fill="#00009b" shape-rendering="crispEdges"/>
<rect x="921.40" y="336.76" width="17.40" height="2.29" fill="#0000a4" shape-rendering="crispEdges"/>
<rect x="921.40" y="335.06" width="17.40" height="2.29" fill="#0000ad" shape-rendering="crispEdges"/>
<rect x="921.40" y="333.37" width="17.40" height="2.29" fill="#0000b6" shape-rendering="crispEdges"/>
<rect x="921.40" y="326.59" width="17.40" height="7.38" fill="#0000bf" shape-rendering="crispEdges"/>
<rect x="921.40" y="318.12" width="17.40" height="9.07" fill="#0000c9" shape-rendering="crispEdges"/>
<rect x="921.40" y="314.73" width="17.40" height="3.99" fill="#0000d2" shape-rendering="crispEdges"/>
<rect x="921.40" y="311.34" width="17.40" height="3.99" fill="#0000db" shape-rendering="crispEdges"/>
<rect x="921.40" y="304.57" width="17.40" height="7.38" fill="#0000e4" shape-rendering="crispEdges"/>
<rect x="921.40" y="296.10" width="17.40" height="9.07" fill="#0000ed" shape-rendering="crispEdges"/>
<rect x="921.40" y="291.01" width="17.40" height="5.68" fill="#0000f6" shape-rendering="crispEdges"/>
<rect x="921.40" y="275.76" width="17.40" height="15.85" fill="#0000ff" shape-rendering="crispEdges"/>
<rect x="921.40" y="270.68" width="17.40" height="5.68" fill="#0001ff" shape-rendering="crispEdges"/>
<rect x="921.40" y="267.29" width="17.40" height="3.99" fill="#0009ff" shape-rendering="crispEdges"/>
<rect x="921.40" y="258.82" width="17.40" height="9.07" fill="#0011ff" shape-rendering="crispEdges"/>
<rect x="921.40" y="250.35" width="17.40" height="9.07" fill="#0019ff" shape-rendering="crispEdges"/>
<rect x="921.40" y="243.57" width="17.40" height="7.38" fill="#0021ff" shape-rendering="crispEdges"/>
<rect x="921.40" y="236.80" width="17.40" height="7.38" fill="#0029ff" shape-rendering="crispEdges"/>
<rect x="921.40" y="231.71" width="17.40" height="5.68" fill="#0031ff" shape-rendering="crispEdges"/>
<rect x="921.40" y="228.33" width="17.40" height="3.99" fill="#0039ff" shape-rendering="crispEdges"/>
<rect x="921.40" y="214.77" width="17.40" height="14.15" fill="#0041ff" shape-rendering="crispEdges"/>
<rect x="921.40" y="211.38" width="17.40" height="3.99" fill="#0049ff" shape-rendering="crispEdges"/>
<rect x="921.40" y="206.30" width="17.40" height="5.68" fill="#0051ff" shape-rendering="crispEdges"/>
<rect x="921.40" y="201.22" width="17.40" height="5.68" fill="#0059ff" shape-rendering="crispEdges"/>
<rect x="921.40" y="194.44" width="17.40" height="7.38" fill="#0061ff" shape-rendering="crispEdges"/>
<rect x="921.40" y="185.97" width="17.40" height="9.07" fill="#0069ff" shape-rendering="crispEdges"/>
<rect x="921.40" y="179.19" width="17.40" height="7.38" fill="#0071ff" shape-rendering="crispEdges"/>
<rect x="921.40" y="170.72" width="17.40" height="9.07" fill="#0079ff" shape-rendering="crispEdges"/>
<rect x="921.40" y="160.56" width="17.40" height="10.77" fill="#0082ff" shape-rendering="crispEdges"/>
<rect x="921.40" y="152.08" width="17.40" height="9.07" fill="#008aff" shape-rendering="crispEdges"/>
<rect x="921.40" y="140.22" width="17.40" height="12.46" fill="#0092ff" shape-rendering="crispEdges"/>
<rect x="921.40" y="130.06" width="17.40" height="10.77" fill="#009aff" shape-rendering="crispEdges"/>
<rect x="921.40" y="119.89" width="17.40" height="10.77" fill="#00a2ff" shape-rendering="crispEdges"/>
<rect x="921.40" y="113.12" width="17.40" height="7.38" fill="#00aaff" shape-rendering="crispEdges"/>
<rect x="921.40" y="111.42" width="17.40" height="2.29" fill="#00b2ff" shape-rendering="crispEdges"/>
<rect x="921.40" y="102.95" width="17.40" height="9.07" fill="#00baff" shape-rendering="crispEdges"/>
<rect x="921.40" y="101.26" width="17.40" height="2.29" fill="#00c2ff" shape-rendering="crispEdges"/>
<rect x="921.40" y="99.56" width="17.40" height="2.29" fill="#00caff" shape-rendering="crispEdges"/>
<rect x="921.40" y="92.79" width="17.40" height="7.38" fill="#00d2ff" shape-rendering="crispEdges"/>
<rect x="921.40" y="89.40" width="17.40" height="3.99" fill="#00e2fa" shape-rendering="crispEdges"/>
<rect x="921.40" y="86.01" width="17.40" height="3.99" fill="#04eaf3" shape-rendering="crispEdges"/>
<rect x="921.40" y="82.62" width="17.40" height="3.99" fill="#0af2ed" shape-rendering="crispEdges"/>
<rect x="921.40" y="80.93" width="17.40" height="2.29" fill="#11fae6" shape-rendering="crispEdges"/>
<rect x="921.40" y="77.54" width="17.40" height="3.99" fill="#17ffe0" shape-rendering="crispEdges"/>
<rect x="921.40" y="74.15" width="17.40" height="3.99" fill="#24ffd3" shape-rendering="crispEdges"/>
<rect x="921.40" y="70.76" width="17.40" height="3.99" fill="#2affcc" shape-rendering="crispEdges"/>
<rect x="921.40" y="69.07" width="17.40" height="2.29" fill="#31ffc6" shape-rendering="crispEdges"/>
<rect x="921.40" y="67.37" width="17.40" height="2.29" fill="#37ffbf" shape-rendering="crispEdges"/>
<rect x="921.40" y="65.68" width="17.40" height="2.29" fill="#3effb9" shape-rendering="crispEdges"/>
<rect x="921.40" y="63.98" width="17.40" height="2.29" fill="#44ffb2" shape-rendering="crispEdges"/>
<rect x="921.40" y="60.59" width="17.40" height="3.99" fill="#4bffac" shape-rendering="crispEdges"/>
<rect x="921.40" y="58.90" width="17.40" height="2.29" fill="#51ffa5" shape-rendering="crispEdges"/>
<rect x="921.40" y="55.51" width="17.40" height="3.99" fill="#65ff92" shape-rendering="crispEdges"/>
<rect x="921.40" y="53.82" width="17.40" height="2.29" fill="#6bff8c" shape-rendering="crispEdges"/>
<rect x="921.40" y="52.12" width="17.40" height="2.29" fill="#72ff85" shape-rendering="crispEdges"/>
<rect x="921.40" y="50.43" width="17.40" height="2.29" fill="#78ff7f" shape-rendering="crispEdges"/>
<rect x="921.40" y="48.73" width="17.40" height="2.29" fill="#85ff72" shape-rendering="crispEdges"/>
<rect x="921.40" y="47.04" width="17.40" height="2.29" fill="#8cff6b" shape-rendering="crispEdges"/>
<rect x="921.40" y="45.35" width="17.40" height="2.29" fill="#99ff5e" shape-rendering="crispEdges"/>
<rect x="921.40" y="43.65" width="17.40" height="2.29" fill="#9fff58" shape-rendering="crispEdges"/>
<rect x="921.40" y="41.96" width="17.40" height="2.29" fill="#a5ff51" shape-rendering="crispEdges"/>
<rect x="921.40" y="40.26" width="17.40" height="2.29" fill="#b2ff44" shape-rendering="crispEdges"/>
<rect x="921.40" y="36.88" width="17.40" height="3.99" fill="#ccff2a" shape-rendering="crispEdges"/>
<rect x="921.40" y="35.18" width="17.40" height="2.29" fill="#d9ff1d" shape-rendering="crispEdges"/>
<rect x="921.40" y="33.49" width="17.40" height="2.29" fill="#e6ff11" shape-rendering="crispEdges"/>
<rect x="921.40" y="31.79" width="17.40" height="2.29" fill="#edff0a" shape-rendering="crispEdges"/>
<rect x="921.40" y="30.10" width="17.40" height="2.29" fill="#ffdc00" shape-rendering="crispEdges"/>
<rect x="921.40" y="28.40" width="17.40" height="2.29" fill="#ffc600" shape-rendering="crispEdges"/>
<rect x="921.40" y="25.02" width="17.40" height="3.99" fill="#ffb700" shape-rendering="crispEdges"/>
<rect x="921.40" y="23.32" width="17.40" height="2.29" fill="#ff7b00" shape-rendering="crispEdges"/>
<rect x="921.40" y="21.63" width="17.40" height="2.29" fill="#ff6c00" shape-rendering="crispEdges"/>
<rect x="921.40" y="19.93" width="17.40" height="2.29" fill="#ff6500" shape-rendering="crispEdges"/>
<rect x="921.40" y="18.24" width="17.40" height="2.29" fill="#ff1b00" shape-rendering="crispEdges"/>
<rect x="921.40" y="16.54" width="17.40" height="2.29" fill="#f60c00" shape-rendering="crispEdges"/>
<rect x="921.40" y="14.85" width="17.40" height="2.29" fill="#800000" shape-rendering="crispEdges"/>
<rect x="921.40" y="15.45" width="17.40" height="338.85" fill="none" stroke="#000" stroke-width="1.3"/>
<text x="942.20" y="358.70">0.000000063</text>
<text x="942.20" y="324.41">0.000000565</text>
<text x="942.20" y="290.12">0.000000894</text>
<text x="942.20" y="255.83">0.000001246</text>
<text x="942.20" y="221.53">0.000001618</text>
<text x="942.20" y="187.24">0.000001959</text>
<text x="942.20" y="152.95">0.000002211</text>
<text x="942.20" y="118.66">0.000002412</text>
<text x="942.20" y="84.37">0.000003126</text>
<text x="942.20" y="50.08">0.000004828</text>
</g>
<path d="M594.65 354.30v-4M594.65 15.45v4M638.30 354.30v-4M638.30 15.45v4M681.95 354.30v-4M681.95 15.45v4M725.60 354.30v-4M725.60 15.45v4M769.25 354.30v-4M769.25 15.45v4M812.90 354.30v-4M812.90 15.45v4M856.55 354.30v-4M856.55 15.45v4M551.00 308.08h4M900.20 308.08h-4M551.00 261.87h4M900.20 261.87h-4M551.00 215.65h4M900.20 215.65h-4M551.00 169.44h4M900.20 169.44h-4M551.00 123.22h4M900.20 123.22h-4M551.00 77.01h4M900.20 77.01h-4M551.00 30.79h4M900.20 30.79h-4M938.80 320.01h-4M938.80 285.72h-4M938.80 251.43h-4M938.80 217.13h-4M938.80 182.84h-4M938.80 148.55h-4M938.80 114.26h-4M938.80 79.97h-4M938.80 45.68h-4" stroke="#000" stroke-width="0.9" fill="none"/>
<g font-size="12.12">
<g transform="matrix(9.1300 0 4.5650 -8.4016 24.700 801.100)" stroke-width="0.1" stroke-linejoin="round">
<path fill="#000080" stroke="#000080" d="M1 1h1l-1 1zM2 1h1l-1 1zM3 1h1l-1 1zM4 1h1l-1 1zM5 1h1l-1 1zM34 1h1l-1 1zM35 1h1l-1 1zM36 1h1l-1 1zM37 1h1l-1 1zM38 1h1l-1 1zM1 2h1l-1 1zM2 2h1l-1 1zM3 2h1l-1 1zM4 2h1l-1 1zM34 2h1l-1 1zM35 2h1l-1 1zM36 2h1l-1 1zM37 2h1l-1 1zM1 3h1l-1 1zM2 3h1l-1 1zM3 3h1l-1 1zM34 3h1l-1 1zM35 3h1l-1 1zM36 3h1l-1 1zM1 4h1l-1 1zM2 4h1l-1 1zM34 4h1l-1 1zM35 4h1l-1 1zM1 5h1l-1 1zM34 5h1l-1 1zM1 34h1l-1 1zM2 34h1l-1 1zM3 34h1l-1 1zM4 34h1l-1 1zM5 34h1l-1 1zM1 35h1l-1 1zM2 35h1l-1 1zM3 35h1l-1 1zM4 35h1l-1 1zM1 36h1l-1 1zM2 36h1l-1 1zM3 36h1l-1 1zM1 37h1l-1 1zM2 37h1l-1 1zM1 38h1l-1 1zM2 1v1h-1zM3 1v1h-1zM4 1v1h-1zM5 1v1h-1zM6 1v1h-1zM34 1v1h-1zM35 1v1h-1zM36 1v1h-1zM37 1v1h-1zM38 1v1h-1zM2 2v1h-1zM3 2v1h-1zM4 2v1h-1zM5 2v1h-1zM34 2v1h-1zM35 2v1h-1zM36 2v1h-1zM37 2v1h-1zM2 3v1h-1zM3 3v1h-1zM4 3v1h-1zM34 3v1h-1zM35 3v1h-1zM36 3v1h-1zM2 4v1h-1zM3 4v1h-1zM34 4v1h-1zM35 4v1h-1zM2 5v1h-1zM34 5v1h-1zM2 33v1h-1zM3 33v1h-1zM4 33v1h-1zM5 33v1h-1zM6 33v1h-1zM2 34v1h-1zM3 34v1h-1zM4 34v1h-1zM5 34v1h-1zM2 35v1h-1zM3 35v1h-1zM4 35v1h-1zM2 36v1h-1zM3 36v1h-1zM2 37v1h-1z"/>
<path fill="#000089" stroke="#000089" d="M6 1h1l-1 1zM7 1h1l-1 1zM8 1h1l-1 1zM31 1h1l-1 1zM32 1h1l-1 1zM33 1h1l-1 1zM5 2h1l-1 1zM6 2h1l-1 1zM7 2h1l-1 1zM31 2h1l-1 1zM32 2h1l-1 1zM33 2h1l-1 1zM4 3h1l-1 1zM5 3h1l-1 1zM6 3h1l-1 1zM31 3h1l-1 1zM32 3h1l-1 1zM33 3h1l-1 1zM3 4h1l-1 1zM4 4h1l-1 1zM5 4h1l-1 1zM31 4h1l-1 1zM32 4h1l-1 1zM33 4h1l-1 1zM2 5h1l-1 1zM3 5h1l-1 1zM4 5h1l-1 1zM31 5h1l-1 1zM32 5h1l-1 1zM33 5h1l-1 1zM1 6h1l-1 1zM2 6h1l-1 1zM3 6h1l-1 1zM31 6h1l-1 1zM32 6h1l-1 1zM33 6h1l-1 1zM1 7h1l-1 1zM2 7h1l-1 1zM31 7h1l-1 1zM32 7h1l-1 1zM1 8h1l-1 1zM31 8h1l-1 1zM1 31h1l-1 1zM2 31h1l-1 1zM3 31h1l-1 1zM4 31h1l-1 1zM5 31h1l-1 1zM6 31h1l-1 1zM7 31h1l-1 1zM8 31h1l-1 1zM1 32h1l-1 1zM2 32h1l-1 1zM3 32h1l-1 1zM4 32h1l-1 1zM5 32h1l-1 1zM6 32h1l-1 1zM7 32h1l-1 1zM1 33h1l-1 1zM2 33h1l-1 1zM3 33h1l-1 1zM4 33h1l-1 1zM5 33h1l-1 1zM6 33h1l-1 1zM7 1v1h-1zM8 1v1h-1zM32 1v1h-1zM33 1v1h-1zM6 2v1h-1zM7 2v1h-1zM32 2v1h-1zM33 2v1h-1zM5 3v1h-1zM6 3v1h-1zM32 3v1h-1zM33 3v1h-1zM4 4v1h-1zM5 4v1h-1zM32 4v1h-1zM33 4v1h-1zM3 5v1h-1zM4 5v1h-1zM32 5v1h-1zM33 5v1h-1zM2 6v1h-1zM3 6v1h-1zM32 6v1h-1zM33 6v1h-1zM2 7v1h-1zM32 7v1h-1zM2 31v1h-1zM3 31v1h-1zM4 31v1h-1zM5 31v1h-1zM6 31v1h-1zM7 31v1h-1zM8 31v1h-1zM2 32v1h-1zM3 32v1h-1zM4 32v1h-1zM5 32v1h-1zM6 32v1h-1zM7 32v1h-1z"/>
<path fill="#000092" stroke="#000092" d="M9 1h1l-1 1zM30 1h1l-1 1zM8 2h1l-1 1zM30 2h1l-1 1zM7 3h1l-1 1zM30 3h1l-1 1zM6 4h1l-1 1zM30 4h1l-1 1zM5 5h1l-1 1zM30 5h1l-1 1zM4 6h1l-1 1zM30 6h1l-1 1zM3 7h1l-1 1zM30 7h1l-1 1zM2 8h1l-1 1zM30 8h1l-1 1zM1 9h1l-1 1zM30 9h1l-1 1zM1 30h1l-1 1zM2 30h1l-1 1zM3 30h1l-1 1zM4 30h1l-1 1zM5 30h1l-1 1zM6 30h1l-1 1zM7 30h1l-1 1zM8 30h1l-1 1zM9 30h1l-1 1zM9 1v1h-1zM31 1v1h-1zM8 2v1h-1zM31 2v1h-1zM7 3v1h-1zM31 3v1h-1zM6 4v1h-1zM31 4v1h-1zM5 5v1h-1zM31 5v1h-1zM4 6v1h-1zM31 6v1h-1zM3 7v1h-1zM31 7v1h-1zM2 8v1h-1zM31 8v1h-1zM2 30v1h-1zM3 30v1h-1zM4 30v1h-1zM5 30v1h-1zM6 30v1h-1zM7 30v1h-1zM8 30v1h-1zM9 30v1h-1z"/>
<path fill="#00009b" stroke="#00009b" d="M10 1h1l-1 1zM29 1h1l-1 1zM9 2h1l-1 1zM29 2h1l-1 1zM8 3h1l-1 1zM29 3h1l-1 1zM7 4h1l-1 1zM29 4h1l-1 1zM6 5h1l-1 1zM29 5h1l-1 1zM5 6h1l-1 1zM29 6h1l-1 1zM4 7h1l-1 1zM29 7h1l-1 1zM3 8h1l-1 1zM29 8h1l-1 1zM2 9h1l-1 1zM29 9h1l-1 1zM1 10h1l-1 1zM29 10h1l-1 1zM1 29h1l-1 1zM2 29h1l-1 1zM3 29h1l-1 1zM4 29h1l-1 1zM5 29h1l-1 1zM6 29h1l-1 1zM7 29h1l-1 1zM8 29h1l-1 1zM9 29h1l-1 1zM10 29h1l-1 1zM10 1v1h-1zM30 1v1h-1zM9 2v1h-1zM30 2v1h-1zM8 3v1h-1zM30 3v1h-1zM7 4v1h-1zM30 4v1h-1zM6 5v1h-1zM30 5v1h-1zM5 6v1h-1zM30 6v1h-1zM4 7v1h-1zM30 7v1h-1zM3 8v1h-1zM30 8v1h-1zM2 9v1h-1zM30 9v1h-1zM2 29v1h-1zM3 29v1h-1zM4 29v1h-1zM5 29v1h-1zM6 29v1h-1zM7 29v1h-1zM8 29v1h-1zM9 29v1h-1zM10 29v1h-1z"/>
<path fill="#0000a4" stroke="#0000a4" d="M11 1h1l-1 1zM28 1h1l-1 1zM10 2h1l-1 1zM28 2h1l-1 1zM9 3h1l-1 1zM28 3h1l-1 1zM8 4h1l-1 1zM28 4h1l-1 1zM7 5h1l-1 1zM28 5h1l-1 1zM6 6h1l-1 1zM28 6h1l-1 1zM5 7h1l-1 1zM28 7h1l-1 1zM4 8h1l-1 1zM28 8h1l-1 1zM3 9h1l-1 1zM28 9h1l-1 1zM2 10h1l-1 1zM28 10h1l-1 1zM1 11h1l-1 1zM28 11h1l-1 1zM1 28h1l-1 1zM2 28h1l-1 1zM3 28h1l-1 1zM4 28h1l-1 1zM5 28h1l-1 1zM6 28h1l-1 1zM7 28h1l-1 1zM8 28h1l-1 1zM9 28h1l-1 1zM10 28h1l-1 1zM11 28h1l-1 1zM11 1v1h-1zM29 1v1h-1zM10 2v1h-1zM29 2v1h-1zM9 3v1h-1zM29 3v1h-1zM8 4v1h-1zM29 4v1h-1zM7 5v1h-1zM29 5v1h-1zM6 6v1h-1zM29 6v1h-1zM5 7v1h-1zM29 7v1h-1zM4 8v1h-1zM29 8v1h-1zM3 9v1h-1zM29 9v1h-1zM2 10v1h-1zM29 10v1h-1zM2 28v1h-1zM3 28v1h-1zM4 28v1h-1zM5 28v1h-1zM6 28v1h-1zM7 28v1h-1zM8 28v1h-1zM9 28v1h-1zM10 28v1h-1zM11 28v1h-1z"/>
<path fill="#0000b6" stroke="#0000b6" d="M12 1h1l-1 1zM27 1h1l-1 1zM11 2h1l-1 1zM27 2h1l-1 1zM10 3h1l-1 1zM27 3h1l-1 1zM9 4h1l-1 1zM27 4h1l-1 1zM8 5h1l-1 1zM27 5h1l-1 1zM3 10h1l-1 1zM27 10h1l-1 1zM2 11h1l-1 1zM27 11h1l-1 1zM1 12h1l-1 1zM27 12h1l-1 1zM1 27h1l-1 1zM2 27h1l-1 1zM3 27h1l-1 1zM4 27h1l-1 1zM5 27h1l-1 1zM6 27h1l-1 1zM7 27h1l-1 1zM8 27h1l-1 1zM9 27h1l-1 1zM10 27h1l-1 1zM11 27h1l-1 1zM12 27h1l-1 1zM12 1v1h-1zM28 1v1h-1zM11 2v1h-1zM28 2v1h-1zM10 3v1h-1zM28 3v1h-1zM9 4v1h-1zM28 4v1h-1zM8 5v1h-1zM28 5v1h-1zM7 6v1h-1zM28 6v1h-1zM6 7v1h-1zM28 7v1h-1zM5 8v1h-1zM28 8v1h-1zM4 9v1h-1zM28 9v1h-1zM3 10v1h-1zM28 10v1h-1zM2 11v1h-1zM28 11v1h-1zM2 27v1h-1zM3 27v1h-1zM4 27v1h-1zM5 27v1h-1zM6 27v1h-1zM7 27v1h-1zM8 27v1h-1zM9 27v1h-1zM10 27v1h-1zM11 27v1h-1zM12 27v1h-1z"/>
<path fill="#0000bf" stroke="#0000bf" d="M7 6h1l-1 1zM27 6h1l-1 1zM6 7h1l-1 1zM27 7h1l-1 1zM5 8h1l-1 1zM27 8h1l-1 1zM4 9h1l-1 1zM27 9h1l-1 1z"/>
<path fill="#0000d2" stroke="#0000d2" d="M13 1v1h-1zM27 1v1h-1zM12 2v1h-1zM27 2v1h-1zM11 3v1h-1zM27 3v1h-1zM10 4v1h-1zM27 4v1h-1zM9 5v1h-1zM27 5v1h-1zM4 10v1h-1zM27 10v1h-1zM3 11v1h-1zM27 11v1h-1zM2 12v1h-1zM27 12v1h-1zM2 26v1h-1zM3 26v1h-1zM4 26v1h-1zM5 26v1h-1zM6 26v1h-1zM7 26v1h-1zM8 26v1h-1zM9 26v1h-1zM10 26v1h-1zM11 26v1h-1zM12 26v1h-1zM13 26v1h-1z"/>
<path fill="#0000db" stroke="#0000db" d="M13 1h1l-1 1zM26 1h1l-1 1zM12 2h1l-1 1zM26 2h1l-1 1zM11 3h1l-1 1zM26 3h1l-1 1zM10 4h1l-1 1zM26 4h1l-1 1zM9 5h1l-1 1zM26 5h1l-1 1zM3 11h1l-1 1zM26 11h1l-1 1zM2 12h1l-1 1zM26 12h1l-1 1zM1 13h1l-1 1zM26 13h1l-1 1zM1 26h1l-1 1zM2 26h1l-1 1zM3 26h1l-1 1zM4 26h1l-1 1zM5 26h1l-1 1zM6 26h1l-1 1zM7 26h1l-1 1zM8 26h1l-1 1zM9 26h1l-1 1zM10 26h1l-1 1zM11 26h1l-1 1zM12 26h1l-1 1zM13 26h1l-1 1zM8 6v1h-1zM27 6v1h-1zM6 8v1h-1zM27 8v1h-1zM5 9v1h-1zM27 9v1h-1z"/>
<path fill="#0000e4" stroke="#0000e4" d="M8 6h1l-1 1zM26 6h1l-1 1zM4 10h1l-1 1zM26 10h1l-1 1zM7 7v1h-1zM27 7v1h-1z"/>
<path fill="#0000ed" stroke="#0000ed" d="M5 9h1l-1 1zM26 9h1l-1 1zM14 1v1h-1zM26 1v1h-1zM13 2v1h-1zM26 2v1h-1zM12 3v1h-1zM26 3v1h-1zM11 4v1h-1zM26 4v1h-1zM3 12v1h-1zM26 12v1h-1zM2 13v1h-1zM26 13v1h-1zM2 25v1h-1zM3 25v1h-1zM4 25v1h-1zM5 25v1h-1zM6 25v1h-1zM7 25v1h-1zM8 25v1h-1zM9 25v1h-1zM10 25v1h-1zM11 25v1h-1zM12 25v1h-1zM13 25v1h-1zM14 25v1h-1z"/>
<path fill="#0000f6" stroke="#0000f6" d="M14 1h1l-1 1zM25 1h1l-1 1zM13 2h1l-1 1zM25 2h1l-1 1zM12 3h1l-1 1zM25 3h1l-1 1zM11 4h1l-1 1zM25 4h1l-1 1zM7 7h1l-1 1zM26 7h1l-1 1zM6 8h1l-1 1zM26 8h1l-1 1zM2 13h1l-1 1zM25 13h1l-1 1zM1 14h1l-1 1zM25 14h1l-1 1zM1 25h1l-1 1zM2 25h1l-1 1zM3 25h1l-1 1zM4 25h1l-1 1zM5 25h1l-1 1zM6 25h1l-1 1zM9 25h1l-1 1zM10 25h1l-1 1zM11 25h1l-1 1zM12 25h1l-1 1zM13 25h1l-1 1zM14 25h1l-1 1zM4 11v1h-1zM26 11v1h-1z"/>
<path fill="#0000ff" stroke="#0000ff" d="M10 5h1l-1 1zM25 5h1l-1 1zM3 12h1l-1 1zM25 12h1l-1 1zM7 25h1l-1 1zM8 25h1l-1 1zM10 5v1h-1zM26 5v1h-1z"/>
<path fill="#0000ff" stroke="#0000ff" d="M15 1v1h-1zM25 1v1h-1zM14 2v1h-1zM25 2v1h-1zM9 6v1h-1zM26 6v1h-1zM5 10v1h-1zM26 10v1h-1zM2 24v1h-1zM3 24v1h-1zM14 24v1h-1zM15 24v1h-1z"/>
<path fill="#0001ff" stroke="#0001ff" d="M9 6h1l-1 1zM25 6h1l-1 1zM4 11h1l-1 1zM25 11h1l-1 1zM13 3v1h-1zM25 3v1h-1zM6 9v1h-1zM26 9v1h-1zM2 14v1h-1zM25 14v1h-1zM4 24v1h-1zM5 24v1h-1zM6 24v1h-1zM11 24v1h-1zM12 24v1h-1zM13 24v1h-1z"/>
<path fill="#0009ff" stroke="#0009ff" d="M15 1h1l-1 1zM24 1h1l-1 1zM14 2h1l-1 1zM24 2h1l-1 1zM13 3h1l-1 1zM24 3h1l-1 1zM12 4h1l-1 1zM24 4h1l-1 1zM5 10h1l-1 1zM25 10h1l-1 1zM2 14h1l-1 1zM24 14h1l-1 1zM1 15h1l-1 1zM24 15h1l-1 1zM1 24h1l-1 1zM2 24h1l-1 1zM3 24h1l-1 1zM4 24h1l-1 1zM12 24h1l-1 1zM13 24h1l-1 1zM14 24h1l-1 1zM15 24h1l-1 1zM12 4v1h-1zM25 4v1h-1zM8 7v1h-1zM26 7v1h-1zM7 8v1h-1zM26 8v1h-1zM3 13v1h-1zM25 13v1h-1zM7 24v1h-1zM10 24v1h-1z"/>
<path fill="#0011ff" stroke="#0011ff" d="M5 24h1l-1 1zM11 24h1l-1 1zM11 5v1h-1zM25 5v1h-1zM4 12v1h-1zM25 12v1h-1zM8 24v1h-1zM9 24v1h-1z"/>
<path fill="#0019ff" stroke="#0019ff" d="M11 5h1l-1 1zM24 5h1l-1 1zM8 7h1l-1 1zM25 7h1l-1 1zM6 9h1l-1 1zM25 9h1l-1 1zM3 13h1l-1 1zM24 13h1l-1 1zM6 24h1l-1 1zM10 24h1l-1 1zM16 1v1h-1zM24 1v1h-1zM15 2v1h-1zM24 2v1h-1zM2 15v1h-1zM24 15v1h-1zM2 23v1h-1zM3 23v1h-1zM15 23v1h-1zM16 23v1h-1z"/>
<path fill="#0021ff" stroke="#0021ff" d="M16 1h1l-1 1zM23 1h1l-1 1zM15 2h1l-1 1zM19 2h1l-1 1zM23 2h1l-1 1zM14 3h1l-1 1zM23 3h1l-1 1zM7 8h1l-1 1zM25 8h1l-1 1zM1 16h1l-1 1zM23 16h1l-1 1zM1 23h1l-1 1zM2 23h1l-1 1zM15 23h1l-1 1zM16 23h1l-1 1zM7 24h1l-1 1zM9 24h1l-1 1zM20 1v1h-1zM14 3v1h-1zM24 3v1h-1zM5 11v1h-1zM25 11v1h-1zM4 23v1h-1zM5 23v1h-1zM13 23v1h-1zM14 23v1h-1z"/>
<path fill="#0029ff" stroke="#0029ff" d="M19 1h1l-1 1zM20 1h1l-1 1zM18 2h1l-1 1zM20 2h1l-1 1zM4 12h1l-1 1zM24 12h1l-1 1zM2 15h1l-1 1zM23 15h1l-1 1zM1 20h1l-1 1zM19 20h1l-1 1zM3 23h1l-1 1zM4 23h1l-1 1zM13 23h1l-1 1zM14 23h1l-1 1zM8 24h1l-1 1zM17 1v1h-1zM19 1v1h-1zM21 1v1h-1zM23 1v1h-1zM16 2v1h-1zM19 2v1h-1zM20 2v1h-1zM23 2v1h-1zM13 4v1h-1zM24 4v1h-1zM10 6v1h-1zM25 6v1h-1zM3 14v1h-1zM24 14v1h-1zM2 22v1h-1zM17 22v1h-1z"/>
<path fill="#0031ff" stroke="#0031ff" d="M17 1h1l-1 1zM18 1h1l-1 1zM21 1h1l-1 1zM22 1h1l-1 1zM16 2h1l-1 1zM17 2h1l-1 1zM21 2h1l-1 1zM22 2h1l-1 1zM15 3h1l-1 1zM22 3h1l-1 1zM13 4h1l-1 1zM23 4h1l-1 1zM10 6h1l-1 1zM24 6h1l-1 1zM1 17h1l-1 1zM22 17h1l-1 1zM1 18h1l-1 1zM21 18h1l-1 1zM1 19h1l-1 1zM20 19h1l-1 1zM1 21h1l-1 1zM18 21h1l-1 1zM1 22h1l-1 1zM2 22h1l-1 1zM16 22h1l-1 1zM17 22h1l-1 1zM18 1v1h-1zM22 1v1h-1zM17 2v1h-1zM18 2v1h-1zM21 2v1h-1zM22 2v1h-1zM15 3v1h-1zM23 3v1h-1zM6 10v1h-1zM25 10v1h-1zM2 16v1h-1zM23 16v1h-1zM2 19v1h-1zM20 19v1h-1zM2 20v1h-1zM19 20v1h-1zM2 21v1h-1zM18 21v1h-1zM3 22v1h-1zM16 22v1h-1zM6 23v1h-1zM12 23v1h-1z"/>
<path fill="#0039ff" stroke="#0039ff" d="M16 3h1l-1 1zM17 3h1l-1 1zM18 3h1l-1 1zM19 3h1l-1 1zM20 3h1l-1 1zM21 3h1l-1 1zM5 11h1l-1 1zM24 11h1l-1 1zM3 14h1l-1 1zM23 14h1l-1 1zM2 20h1l-1 1zM18 20h1l-1 1zM2 21h1l-1 1zM17 21h1l-1 1zM3 22h1l-1 1zM15 22h1l-1 1zM5 23h1l-1 1zM12 23h1l-1 1zM12 5v1h-1zM24 5v1h-1zM9 7v1h-1zM25 7v1h-1zM7 9v1h-1zM25 9v1h-1zM4 13v1h-1zM24 13v1h-1zM2 17v1h-1zM22 17v1h-1zM2 18v1h-1zM21 18v1h-1zM3 21v1h-1zM17 21v1h-1zM4 22v1h-1zM15 22v1h-1zM7 23v1h-1zM11 23v1h-1z"/>
<path fill="#0041ff" stroke="#0041ff" d="M14 4h1l-1 1zM22 4h1l-1 1zM12 5h1l-1 1zM23 5h1l-1 1zM2 16h1l-1 1zM22 16h1l-1 1zM2 18h1l-1 1zM20 18h1l-1 1zM2 19h1l-1 1zM19 19h1l-1 1zM6 23h1l-1 1zM11 23h1l-1 1zM16 3v1h-1zM17 3v1h-1zM21 3v1h-1zM22 3v1h-1zM14 4v1h-1zM23 4v1h-1zM8 8v1h-1zM25 8v1h-1zM3 15v1h-1zM23 15v1h-1zM3 20v1h-1zM18 20v1h-1zM5 22v1h-1zM14 22v1h-1zM8 23v1h-1zM10 23v1h-1z"/>
<path fill="#0049ff" stroke="#0049ff" d="M9 7h1l-1 1zM24 7h1l-1 1zM6 10h1l-1 1zM24 10h1l-1 1zM2 17h1l-1 1zM21 17h1l-1 1zM3 21h1l-1 1zM16 21h1l-1 1zM4 22h1l-1 1zM14 22h1l-1 1zM18 3v1h-1zM19 3v1h-1zM20 3v1h-1zM5 12v1h-1zM24 12v1h-1zM3 16v1h-1zM22 16v1h-1zM3 19v1h-1zM19 19v1h-1zM4 21v1h-1zM16 21v1h-1zM9 23v1h-1z"/>
<path fill="#0051ff" stroke="#0051ff" d="M15 4h1l-1 1zM21 4h1l-1 1zM7 9h1l-1 1zM24 9h1l-1 1zM4 13h1l-1 1zM23 13h1l-1 1zM3 15h1l-1 1zM22 15h1l-1 1zM7 23h1l-1 1zM10 23h1l-1 1zM11 6v1h-1zM24 6v1h-1zM4 14v1h-1zM23 14v1h-1zM3 17v1h-1zM21 17v1h-1zM3 18v1h-1zM20 18v1h-1zM6 22v1h-1zM13 22v1h-1z"/>
<path fill="#0059ff" stroke="#0059ff" d="M16 4h1l-1 1zM20 4h1l-1 1zM13 5h1l-1 1zM22 5h1l-1 1zM11 6h1l-1 1zM23 6h1l-1 1zM8 8h1l-1 1zM24 8h1l-1 1zM3 20h1l-1 1zM17 20h1l-1 1zM5 22h1l-1 1zM13 22h1l-1 1zM8 23h1l-1 1zM9 23h1l-1 1zM15 4v1h-1zM22 4v1h-1zM4 20v1h-1zM17 20v1h-1z"/>
<path fill="#0061ff" stroke="#0061ff" d="M17 4h1l-1 1zM19 4h1l-1 1zM3 16h1l-1 1zM21 16h1l-1 1zM4 21h1l-1 1zM15 21h1l-1 1zM13 5v1h-1zM23 5v1h-1zM6 11v1h-1zM24 11v1h-1zM5 21v1h-1zM15 21v1h-1z"/>
<path fill="#0069ff" stroke="#0069ff" d="M5 12h1l-1 1zM23 12h1l-1 1zM3 17h1l-1 1zM20 17h1l-1 1zM3 18h1l-1 1zM19 18h1l-1 1zM3 19h1l-1 1zM18 19h1l-1 1zM6 22h1l-1 1zM12 22h1l-1 1zM16 4v1h-1zM21 4v1h-1zM10 7v1h-1zM24 7v1h-1zM4 15v1h-1zM22 15v1h-1zM7 22v1h-1zM12 22v1h-1z"/>
<path fill="#0071ff" stroke="#0071ff" d="M18 4h1l-1 1zM14 5h1l-1 1zM21 5h1l-1 1zM10 7h1l-1 1zM23 7h1l-1 1zM4 14h1l-1 1zM22 14h1l-1 1zM17 4v1h-1zM20 4v1h-1zM7 10v1h-1zM24 10v1h-1zM5 13v1h-1zM23 13v1h-1zM4 19v1h-1zM18 19v1h-1z"/>
<path fill="#0079ff" stroke="#0079ff" d="M12 6h1l-1 1zM22 6h1l-1 1zM6 11h1l-1 1zM23 11h1l-1 1zM4 20h1l-1 1zM16 20h1l-1 1zM5 21h1l-1 1zM14 21h1l-1 1zM14 5v1h-1zM22 5v1h-1zM12 6v1h-1zM23 6v1h-1zM8 9v1h-1zM24 9v1h-1zM4 16v1h-1zM21 16v1h-1zM5 20v1h-1zM16 20v1h-1zM6 21v1h-1zM14 21v1h-1zM8 22v1h-1zM11 22v1h-1z"/>
<path fill="#0082ff" stroke="#0082ff" d="M7 22h1l-1 1zM11 22h1l-1 1zM18 4v1h-1zM19 4v1h-1zM9 8v1h-1zM24 8v1h-1zM4 17v1h-1zM20 17v1h-1zM4 18v1h-1zM19 18v1h-1zM9 22v1h-1zM10 22v1h-1z"/>
<path fill="#008aff" stroke="#008aff" d="M15 5h1l-1 1zM20 5h1l-1 1zM9 8h1l-1 1zM23 8h1l-1 1zM7 10h1l-1 1zM23 10h1l-1 1zM4 15h1l-1 1zM21 15h1l-1 1zM6 12v1h-1zM23 12v1h-1zM5 14v1h-1zM22 14v1h-1z"/>
<path fill="#0092ff" stroke="#0092ff" d="M5 13h1l-1 1zM22 13h1l-1 1zM4 19h1l-1 1zM17 19h1l-1 1zM8 22h1l-1 1zM10 22h1l-1 1zM15 5v1h-1zM21 5v1h-1zM7 21v1h-1zM13 21v1h-1z"/>
<path fill="#009aff" stroke="#009aff" d="M16 5h1l-1 1zM19 5h1l-1 1zM8 9h1l-1 1zM23 9h1l-1 1zM4 16h1l-1 1zM20 16h1l-1 1zM6 21h1l-1 1zM13 21h1l-1 1zM11 7v1h-1zM23 7v1h-1zM5 19v1h-1zM17 19v1h-1z"/>
<path fill="#00a2ff" stroke="#00a2ff" d="M13 6h1l-1 1zM21 6h1l-1 1zM11 7h1l-1 1zM22 7h1l-1 1zM4 17h1l-1 1zM19 17h1l-1 1zM5 20h1l-1 1zM15 20h1l-1 1zM9 22h1l-1 1zM13 6v1h-1zM22 6v1h-1zM7 11v1h-1zM23 11v1h-1zM5 15v1h-1zM21 15v1h-1zM6 20v1h-1zM15 20v1h-1z"/>
<path fill="#00aaff" stroke="#00aaff" d="M17 5h1l-1 1zM18 5h1l-1 1zM6 12h1l-1 1zM22 12h1l-1 1zM4 18h1l-1 1zM18 18h1l-1 1zM16 5v1h-1zM20 5v1h-1zM8 21v1h-1zM12 21v1h-1z"/>
<path fill="#00b2ff" stroke="#00b2ff" d="M5 14h1l-1 1zM21 14h1l-1 1zM7 21h1l-1 1zM12 21h1l-1 1zM6 13v1h-1zM22 13v1h-1z"/>
<path fill="#00baff" stroke="#00baff" d="M14 6h1l-1 1zM20 6h1l-1 1zM10 8v1h-1zM23 8v1h-1zM8 10v1h-1zM23 10v1h-1zM5 16v1h-1zM20 16v1h-1zM5 18v1h-1zM18 18v1h-1z"/>
<path fill="#00c2ff" stroke="#00c2ff" d="M10 8h1l-1 1zM22 8h1l-1 1zM7 11h1l-1 1zM22 11h1l-1 1zM5 19h1l-1 1zM16 19h1l-1 1zM6 20h1l-1 1zM14 20h1l-1 1zM17 5v1h-1zM19 5v1h-1zM9 9v1h-1zM23 9v1h-1zM5 17v1h-1zM19 17v1h-1zM9 21v1h-1zM11 21v1h-1z"/>
<path fill="#00caff" stroke="#00caff" d="M12 7h1l-1 1zM21 7h1l-1 1zM14 6v1h-1zM21 6v1h-1zM6 19v1h-1zM16 19v1h-1zM7 20v1h-1zM14 20v1h-1z"/>
<path fill="#00d2ff" stroke="#00d2ff" d="M5 15h1l-1 1zM20 15h1l-1 1zM8 21h1l-1 1zM11 21h1l-1 1zM18 5v1h-1zM12 7v1h-1zM22 7v1h-1zM10 21v1h-1z"/>
<path fill="#00daff" stroke="#00daff" d="M8 10h1l-1 1zM22 10h1l-1 1zM6 14v1h-1zM21 14v1h-1z"/>
<path fill="#00e2fa" stroke="#00e2fa" d="M15 6h1l-1 1zM19 6h1l-1 1zM9 9h1l-1 1zM22 9h1l-1 1zM6 13h1l-1 1zM21 13h1l-1 1zM7 12v1h-1zM22 12v1h-1z"/>
<path fill="#04eaf3" stroke="#04eaf3" d="M5 16h1l-1 1zM19 16h1l-1 1zM9 21h1l-1 1zM10 21h1l-1 1z"/>
<path fill="#0af2ed" stroke="#0af2ed" d="M5 18h1l-1 1zM17 18h1l-1 1zM15 6v1h-1zM20 6v1h-1zM8 20v1h-1zM13 20v1h-1z"/>
<path fill="#11fae6" stroke="#11fae6" d="M7 20h1l-1 1zM13 20h1l-1 1zM11 8v1h-1zM22 8v1h-1zM6 18v1h-1zM17 18v1h-1z"/>
<path fill="#17ffe0" stroke="#17ffe0" d="M16 6h1l-1 1zM18 6h1l-1 1zM13 7h1l-1 1zM20 7h1l-1 1zM11 8h1l-1 1zM21 8h1l-1 1zM5 17h1l-1 1zM18 17h1l-1 1zM8 11v1h-1zM22 11v1h-1zM6 15v1h-1zM20 15v1h-1z"/>
<path fill="#1dffd9" stroke="#1dffd9" d="M6 19h1l-1 1zM15 19h1l-1 1zM13 7v1h-1zM21 7v1h-1zM7 19v1h-1zM15 19v1h-1z"/>
<path fill="#24ffd3" stroke="#24ffd3" d="M7 12h1l-1 1zM21 12h1l-1 1z"/>
<path fill="#2affcc" stroke="#2affcc" d="M17 6h1l-1 1zM6 14h1l-1 1zM20 14h1l-1 1zM16 6v1h-1zM19 6v1h-1zM9 10v1h-1zM22 10v1h-1zM7 13v1h-1zM21 13v1h-1zM6 16v1h-1zM19 16v1h-1zM6 17v1h-1zM18 17v1h-1zM9 20v1h-1zM12 20v1h-1z"/>
<path fill="#31ffc6" stroke="#31ffc6" d="M10 9v1h-1zM22 9v1h-1z"/>
<path fill="#37ffbf" stroke="#37ffbf" d="M8 20h1l-1 1zM12 20h1l-1 1z"/>
<path fill="#3effb9" stroke="#3effb9" d="M10 9h1l-1 1zM21 9h1l-1 1zM8 11h1l-1 1zM21 11h1l-1 1zM17 6v1h-1zM18 6v1h-1zM10 20v1h-1zM11 20v1h-1z"/>
<path fill="#44ffb2" stroke="#44ffb2" d="M14 7h1l-1 1zM19 7h1l-1 1z"/>
<path fill="#4bffac" stroke="#4bffac" d="M9 10h1l-1 1zM21 10h1l-1 1zM6 15h1l-1 1zM19 15h1l-1 1zM6 18h1l-1 1zM16 18h1l-1 1zM14 7v1h-1zM20 7v1h-1zM8 19v1h-1zM14 19v1h-1z"/>
<path fill="#51ffa5" stroke="#51ffa5" d="M12 8h1l-1 1zM20 8h1l-1 1zM7 19h1l-1 1zM14 19h1l-1 1zM9 20h1l-1 1zM11 20h1l-1 1zM12 8v1h-1zM21 8v1h-1zM8 12v1h-1zM21 12v1h-1zM7 14v1h-1zM20 14v1h-1zM7 18v1h-1zM16 18v1h-1z"/>
<path fill="#58ff9f" stroke="#58ff9f" d="M7 13h1l-1 1zM20 13h1l-1 1z"/>
<path fill="#65ff92" stroke="#65ff92" d="M15 7h1l-1 1zM18 7h1l-1 1zM6 16h1l-1 1zM18 16h1l-1 1z"/>
<path fill="#6bff8c" stroke="#6bff8c" d="M6 17h1l-1 1zM17 17h1l-1 1zM10 20h1l-1 1z"/>
<path fill="#72ff85" stroke="#72ff85" d="M15 7v1h-1zM19 7v1h-1zM9 11v1h-1zM21 11v1h-1zM7 15v1h-1zM19 15v1h-1zM9 19v1h-1zM13 19v1h-1z"/>
<path fill="#78ff7f" stroke="#78ff7f" d="M11 9v1h-1zM21 9v1h-1zM7 17v1h-1zM17 17v1h-1z"/>
<path fill="#7fff78" stroke="#7fff78" d="M16 7h1l-1 1zM17 7h1l-1 1zM11 9h1l-1 1zM20 9h1l-1 1zM8 12h1l-1 1zM20 12h1l-1 1zM8 19h1l-1 1zM13 19h1l-1 1z"/>
<path fill="#85ff72" stroke="#85ff72" d="M13 8h1l-1 1zM19 8h1l-1 1zM7 18h1l-1 1zM15 18h1l-1 1zM10 10v1h-1zM21 10v1h-1zM7 16v1h-1zM18 16v1h-1z"/>
<path fill="#8cff6b" stroke="#8cff6b" d="M7 14h1l-1 1zM19 14h1l-1 1zM13 8v1h-1zM20 8v1h-1zM8 13v1h-1zM20 13v1h-1zM8 18v1h-1zM15 18v1h-1z"/>
<path fill="#99ff5e" stroke="#99ff5e" d="M16 7v1h-1zM18 7v1h-1zM10 19v1h-1zM12 19v1h-1z"/>
<path fill="#9fff58" stroke="#9fff58" d="M9 11h1l-1 1zM20 11h1l-1 1z"/>
<path fill="#a5ff51" stroke="#a5ff51" d="M9 19h1l-1 1zM12 19h1l-1 1zM17 7v1h-1zM11 19v1h-1z"/>
<path fill="#acff4b" stroke="#acff4b" d="M10 10h1l-1 1zM20 10h1l-1 1z"/>
<path fill="#b2ff44" stroke="#b2ff44" d="M7 15h1l-1 1zM18 15h1l-1 1z"/>
<path fill="#b9ff3e" stroke="#b9ff3e" d="M14 8h1l-1 1zM18 8h1l-1 1zM7 17h1l-1 1zM16 17h1l-1 1z"/>
<path fill="#bfff37" stroke="#bfff37" d="M14 8v1h-1zM19 8v1h-1zM12 9v1h-1zM20 9v1h-1zM9 12v1h-1zM20 12v1h-1zM8 14v1h-1zM19 14v1h-1zM8 17v1h-1zM16 17v1h-1zM9 18v1h-1zM14 18v1h-1z"/>
<path fill="#c6ff31" stroke="#c6ff31" d="M12 9h1l-1 1zM19 9h1l-1 1zM8 13h1l-1 1zM19 13h1l-1 1zM7 16h1l-1 1zM17 16h1l-1 1zM8 18h1l-1 1zM14 18h1l-1 1zM10 19h1l-1 1zM11 19h1l-1 1z"/>
<path fill="#d9ff1d" stroke="#d9ff1d" d="M15 8h1l-1 1zM17 8h1l-1 1zM10 11v1h-1zM20 11v1h-1zM8 15v1h-1zM18 15v1h-1z"/>
<path fill="#e0ff17" stroke="#e0ff17" d="M11 10v1h-1zM20 10v1h-1zM8 16v1h-1zM17 16v1h-1z"/>
<path fill="#edff0a" stroke="#edff0a" d="M9 12h1l-1 1zM19 12h1l-1 1zM15 8v1h-1zM18 8v1h-1zM10 18v1h-1zM13 18v1h-1z"/>
<path fill="#f3fa04" stroke="#f3fa04" d="M16 8h1l-1 1z"/>
<path fill="#faf200" stroke="#faf200" d="M11 10h1l-1 1zM19 10h1l-1 1zM8 14h1l-1 1zM18 14h1l-1 1zM9 18h1l-1 1zM13 18h1l-1 1zM9 13v1h-1zM19 13v1h-1z"/>
<path fill="#ffeb00" stroke="#ffeb00" d="M13 9h1l-1 1zM18 9h1l-1 1zM8 17h1l-1 1zM15 17h1l-1 1zM13 9v1h-1zM19 9v1h-1zM9 17v1h-1zM15 17v1h-1z"/>
<path fill="#ffe300" stroke="#ffe300" d="M10 11h1l-1 1zM19 11h1l-1 1z"/>
<path fill="#ffdc00" stroke="#ffdc00" d="M16 8v1h-1zM17 8v1h-1zM11 18v1h-1zM12 18v1h-1z"/>
<path fill="#ffcd00" stroke="#ffcd00" d="M8 15h1l-1 1zM17 15h1l-1 1z"/>
<path fill="#ffc600" stroke="#ffc600" d="M10 18h1l-1 1zM12 18h1l-1 1z"/>
<path fill="#ffbe00" stroke="#ffbe00" d="M8 16h1l-1 1zM16 16h1l-1 1zM10 12v1h-1zM19 12v1h-1zM9 14v1h-1zM18 14v1h-1z"/>
<path fill="#ffaf00" stroke="#ffaf00" d="M14 9h1l-1 1zM17 9h1l-1 1zM9 13h1l-1 1zM18 13h1l-1 1zM14 9v1h-1zM18 9v1h-1zM12 10v1h-1zM19 10v1h-1zM9 16v1h-1zM16 16v1h-1zM10 17v1h-1zM14 17v1h-1z"/>
<path fill="#ffa800" stroke="#ffa800" d="M11 18h1l-1 1z"/>
<path fill="#ffa000" stroke="#ffa000" d="M12 10h1l-1 1zM18 10h1l-1 1zM9 17h1l-1 1zM14 17h1l-1 1zM11 11v1h-1zM19 11v1h-1zM9 15v1h-1zM17 15v1h-1z"/>
<path fill="#ff8a00" stroke="#ff8a00" d="M15 9h1l-1 1zM16 9h1l-1 1z"/>
<path fill="#ff8300" stroke="#ff8300" d="M10 12h1l-1 1zM18 12h1l-1 1zM15 9v1h-1zM17 9v1h-1zM11 17v1h-1zM13 17v1h-1z"/>
<path fill="#ff7b00" stroke="#ff7b00" d="M11 11h1l-1 1zM18 11h1l-1 1zM9 14h1l-1 1zM17 14h1l-1 1zM10 13v1h-1zM18 13v1h-1z"/>
<path fill="#ff7400" stroke="#ff7400" d="M9 16h1l-1 1zM15 16h1l-1 1zM10 17h1l-1 1zM13 17h1l-1 1zM13 10v1h-1zM18 10v1h-1zM10 16v1h-1zM15 16v1h-1zM12 17v1h-1z"/>
<path fill="#ff6c00" stroke="#ff6c00" d="M13 10h1l-1 1zM17 10h1l-1 1zM16 9v1h-1z"/>
<path fill="#ff6500" stroke="#ff6500" d="M9 15h1l-1 1zM16 15h1l-1 1z"/>
<path fill="#ff5d00" stroke="#ff5d00" d="M11 12v1h-1zM18 12v1h-1zM10 14v1h-1zM17 14v1h-1z"/>
<path fill="#ff5600" stroke="#ff5600" d="M11 17h1l-1 1zM12 17h1l-1 1zM12 11v1h-1zM18 11v1h-1z"/>
<path fill="#ff4f00" stroke="#ff4f00" d="M14 10h1l-1 1zM16 10h1l-1 1zM10 13h1l-1 1zM17 13h1l-1 1zM10 15v1h-1zM16 15v1h-1z"/>
<path fill="#ff4700" stroke="#ff4700" d="M12 11h1l-1 1zM17 11h1l-1 1zM14 10v1h-1zM17 10v1h-1zM11 16v1h-1zM14 16v1h-1z"/>
<path fill="#ff4000" stroke="#ff4000" d="M10 16h1l-1 1zM14 16h1l-1 1z"/>
<path fill="#ff3800" stroke="#ff3800" d="M15 10h1l-1 1zM11 12h1l-1 1zM17 12h1l-1 1z"/>
<path fill="#ff3100" stroke="#ff3100" d="M10 14h1l-1 1zM16 14h1l-1 1z"/>
<path fill="#ff2900" stroke="#ff2900" d="M15 10v1h-1zM16 10v1h-1zM11 13v1h-1zM17 13v1h-1zM12 16v1h-1zM13 16v1h-1z"/>
<path fill="#ff2200" stroke="#ff2200" d="M10 15h1l-1 1zM15 15h1l-1 1z"/>
<path fill="#ff1b00" stroke="#ff1b00" d="M11 16h1l-1 1zM13 16h1l-1 1zM13 11v1h-1zM17 11v1h-1zM11 15v1h-1zM15 15v1h-1z"/>
<path fill="#ff1300" stroke="#ff1300" d="M13 11h1l-1 1zM16 11h1l-1 1zM12 12v1h-1zM17 12v1h-1zM11 14v1h-1zM16 14v1h-1z"/>
<path fill="#f60c00" stroke="#f60c00" d="M12 16h1l-1 1z"/>
<path fill="#ed0400" stroke="#ed0400" d="M11 13h1l-1 1zM16 13h1l-1 1z"/>
<path fill="#e40000" stroke="#e40000" d="M14 11h1l-1 1zM15 11h1l-1 1z"/>
<path fill="#db0000" stroke="#db0000" d="M12 12h1l-1 1zM16 12h1l-1 1zM14 11v1h-1zM16 11v1h-1zM12 15v1h-1zM14 15v1h-1z"/>
<path fill="#d20000" stroke="#d20000" d="M11 15h1l-1 1zM14 15h1l-1 1z"/>
<path fill="#c90000" stroke="#c90000" d="M11 14h1l-1 1zM15 14h1l-1 1zM15 11v1h-1zM12 13v1h-1zM16 13v1h-1zM13 15v1h-1z"/>
<path fill="#b60000" stroke="#b60000" d="M13 12v1h-1zM16 12v1h-1zM12 14v1h-1zM15 14v1h-1z"/>
<path fill="#ad0000" stroke="#ad0000" d="M13 12h1l-1 1zM15 12h1l-1 1zM12 15h1l-1 1zM13 15h1l-1 1z"/>
<path fill="#a40000" stroke="#a40000" d="M12 13h1l-1 1zM15 13h1l-1 1z"/>
<path fill="#9b0000" stroke="#9b0000" d="M14 12h1l-1 1zM14 12v1h-1zM15 12v1h-1z"/>
<path fill="#920000" stroke="#920000" d="M12 14h1l-1 1zM14 14h1l-1 1zM13 13v1h-1zM15 13v1h-1zM13 14v1h-1zM14 14v1h-1z"/>
<path fill="#800000" stroke="#800000" d="M13 13h1l-1 1zM14 13h1l-1 1zM13 14h1l-1 1zM14 13v1h-1z"/>
</g>
<rect x="24.70" y="445.45" width="365.20" height="355.65" fill="none" stroke="#000" stroke-width="1.3"/>
<text x="25.30" y="814.10" text-anchor="middle">0</text>
<text x="70.95" y="814.10" text-anchor="middle">5</text>
<text x="116.60" y="814.10" text-anchor="middle">10</text>
<text x="162.25" y="814.10" text-anchor="middle">15</text>
<text x="207.90" y="814.10" text-anchor="middle">20</text>
<text x="253.55" y="814.10" text-anchor="middle">25</text>
<text x="299.20" y="814.10" text-anchor="middle">30</text>
<text x="344.85" y="814.10" text-anchor="middle">35</text>
<text x="390.50" y="814.10" text-anchor="middle">40</text>
<text x="22.30" y="805.60" text-anchor="end">0</text>
<text x="22.30" y="757.09" text-anchor="end">5</text>
<text x="22.30" y="708.59" text-anchor="end">10</text>
<text x="22.30" y="660.08" text-anchor="end">15</text>
<text x="22.30" y="611.57" text-anchor="end">20</text>
<text x="22.30" y="563.07" text-anchor="end">25</text>
<text x="22.30" y="514.56" text-anchor="end">30</text>
<text x="22.30" y="466.05" text-anchor="end">35</text>
<rect x="412.60" y="779.16" width="18.10" height="21.94" fill="#000080" shape-rendering="crispEdges"/>
<rect x="412.60" y="748.93" width="18.10" height="30.83" fill="#000089" shape-rendering="crispEdges"/>
<rect x="412.60" y="736.48" width="18.10" height="13.05" fill="#000092" shape-rendering="crispEdges"/>
<rect x="412.60" y="720.48" width="18.10" height="16.60" fill="#00009b" shape-rendering="crispEdges"/>
<rect x="412.60" y="706.25" width="18.10" height="14.83" fill="#0000a4" shape-rendering="crispEdges"/>
<rect x="412.60" y="692.03" width="18.10" height="14.83" fill="#0000b6" shape-rendering="crispEdges"/>
<rect x="412.60" y="688.47" width="18.10" height="4.16" fill="#0000bf" shape-rendering="crispEdges"/>
<rect x="412.60" y="674.24" width="18.10" height="14.83" fill="#0000db" shape-rendering="crispEdges"/>
<rect x="412.60" y="672.47" width="18.10" height="2.38" fill="#0000e4" shape-rendering="crispEdges"/>
<rect x="412.60" y="670.69" width="18.10" height="2.38" fill="#0000ed" shape-rendering="crispEdges"/>
<rect x="412.60" y="658.24" width="18.10" height="13.05" fill="#0000f6" shape-rendering="crispEdges"/>
<rect x="412.60" y="654.68" width="18.10" height="4.16" fill="#0000ff" shape-rendering="crispEdges"/>
<rect x="412.60" y="652.91" width="18.10" height="2.38" fill="#0001ff" shape-rendering="crispEdges"/>
<rect x="412.60" y="642.24" width="18.10" height="11.27" fill="#0009ff" shape-rendering="crispEdges"/>
<rect x="412.60" y="636.90" width="18.10" height="5.93" fill="#0019ff" shape-rendering="crispEdges"/>
<rect x="412.60" y="628.01" width="18.10" height="9.49" fill="#0021ff" shape-rendering="crispEdges"/>
<rect x="412.60" y="620.90" width="18.10" height="7.71" fill="#0029ff" shape-rendering="crispEdges"/>
<rect x="412.60" y="608.45" width="18.10" height="13.05" fill="#0031ff" shape-rendering="crispEdges"/>
<rect x="412.60" y="599.56" width="18.10" height="9.49" fill="#0039ff" shape-rendering="crispEdges"/>
<rect x="412.60" y="594.22" width="18.10" height="5.93" fill="#0041ff" shape-rendering="crispEdges"/>
<rect x="412.60" y="590.67" width="18.10" height="4.16" fill="#0049ff" shape-rendering="crispEdges"/>
<rect x="412.60" y="585.33" width="18.10" height="5.93" fill="#0051ff" shape-rendering="crispEdges"/>
<rect x="412.60" y="578.22" width="18.10" height="7.71" fill="#0059ff" shape-rendering="crispEdges"/>
<rect x="412.60" y="574.66" width="18.10" height="4.16" fill="#0061ff" shape-rendering="crispEdges"/>
<rect x="412.60" y="571.11" width="18.10" height="4.16" fill="#0069ff" shape-rendering="crispEdges"/>
<rect x="412.60" y="567.55" width="18.10" height="4.16" fill="#0071ff" shape-rendering="crispEdges"/>
<rect x="412.60" y="563.99" width="18.10" height="4.16" fill="#0079ff" shape-rendering="crispEdges"/>
<rect x="412.60" y="562.21" width="18.10" height="2.38" fill="#0082ff" shape-rendering="crispEdges"/>
<rect x="412.60" y="558.66" width="18.10" height="4.16" fill="#008aff" shape-rendering="crispEdges"/>
<rect x="412.60" y="555.10" width="18.10" height="4.16" fill="#0092ff" shape-rendering="crispEdges"/>
<rect x="412.60" y="551.54" width="18.10" height="4.16" fill="#009aff" shape-rendering="crispEdges"/>
<rect x="412.60" y="547.99" width="18.10" height="4.16" fill="#00a2ff" shape-rendering="crispEdges"/>
<rect x="412.60" y="544.43" width="18.10" height="4.16" fill="#00aaff" shape-rendering="crispEdges"/>
<rect x="412.60" y="542.65" width="18.10" height="2.38" fill="#00b2ff" shape-rendering="crispEdges"/>
<rect x="412.60" y="537.32" width="18.10" height="5.93" fill="#00c2ff" shape-rendering="crispEdges"/>
<rect x="412.60" y="535.54" width="18.10" height="2.38" fill="#00d2ff" shape-rendering="crispEdges"/>
<rect x="412.60" y="533.76" width="18.10" height="2.38" fill="#00daff" shape-rendering="crispEdges"/>
<rect x="412.60" y="531.98" width="18.10" height="2.38" fill="#00e2fa" shape-rendering="crispEdges"/>
<rect x="412.60" y="530.21" width="18.10" height="2.38" fill="#04eaf3" shape-rendering="crispEdges"/>
<rect x="412.60" y="528.43" width="18.10" height="2.38" fill="#0af2ed" shape-rendering="crispEdges"/>
<rect x="412.60" y="526.65" width="18.10" height="2.38" fill="#11fae6" shape-rendering="crispEdges"/>
<rect x="412.60" y="523.09" width="18.10" height="4.16" fill="#17ffe0" shape-rendering="crispEdges"/>
<rect x="412.60" y="521.31" width="18.10" height="2.38" fill="#24ffd3" shape-rendering="crispEdges"/>
<rect x="412.60" y="519.54" width="18.10" height="2.38" fill="#2affcc" shape-rendering="crispEdges"/>
<rect x="412.60" y="517.76" width="18.10" height="2.38" fill="#3effb9" shape-rendering="crispEdges"/>
<rect x="412.60" y="515.98" width="18.10" height="2.38" fill="#44ffb2" shape-rendering="crispEdges"/>
<rect x="412.60" y="514.20" width="18.10" height="2.38" fill="#4bffac" shape-rendering="crispEdges"/>
<rect x="412.60" y="510.65" width="18.10" height="4.16" fill="#51ffa5" shape-rendering="crispEdges"/>
<rect x="412.60" y="508.87" width="18.10" height="2.38" fill="#58ff9f" shape-rendering="crispEdges"/>
<rect x="412.60" y="507.09" width="18.10" height="2.38" fill="#65ff92" shape-rendering="crispEdges"/>
<rect x="412.60" y="501.75" width="18.10" height="5.93" fill="#7fff78" shape-rendering="crispEdges"/>
<rect x="412.60" y="499.98" width="18.10" height="2.38" fill="#85ff72" shape-rendering="crispEdges"/>
<rect x="412.60" y="498.20" width="18.10" height="2.38" fill="#9fff58" shape-rendering="crispEdges"/>
<rect x="412.60" y="496.42" width="18.10" height="2.38" fill="#acff4b" shape-rendering="crispEdges"/>
<rect x="412.60" y="494.64" width="18.10" height="2.38" fill="#b9ff3e" shape-rendering="crispEdges"/>
<rect x="412.60" y="489.31" width="18.10" height="5.93" fill="#c6ff31" shape-rendering="crispEdges"/>
<rect x="412.60" y="487.53" width="18.10" height="2.38" fill="#d9ff1d" shape-rendering="crispEdges"/>
<rect x="412.60" y="485.75" width="18.10" height="2.38" fill="#f3fa04" shape-rendering="crispEdges"/>
<rect x="412.60" y="483.97" width="18.10" height="2.38" fill="#faf200" shape-rendering="crispEdges"/>
<rect x="412.60" y="482.19" width="18.10" height="2.38" fill="#ffeb00" shape-rendering="crispEdges"/>
<rect x="412.60" y="480.41" width="18.10" height="2.38" fill="#ffe300" shape-rendering="crispEdges"/>
<rect x="412.60" y="478.64" width="18.10" height="2.38" fill="#ffc600" shape-rendering="crispEdges"/>
<rect x="412.60" y="476.86" width="18.10" height="2.38" fill="#ffaf00" shape-rendering="crispEdges"/>
<rect x="412.60" y="475.08" width="18.10" height="2.38" fill="#ffa800" shape-rendering="crispEdges"/>
<rect x="412.60" y="473.30" width="18.10" height="2.38" fill="#ffa000" shape-rendering="crispEdges"/>
<rect x="412.60" y="471.52" width="18.10" height="2.38" fill="#ff8300" shape-rendering="crispEdges"/>
<rect x="412.60" y="469.75" width="18.10" height="2.38" fill="#ff7b00" shape-rendering="crispEdges"/>
<rect x="412.60" y="467.97" width="18.10" height="2.38" fill="#ff7400" shape-rendering="crispEdges"/>
<rect x="412.60" y="466.19" width="18.10" height="2.38" fill="#ff6c00" shape-rendering="crispEdges"/>
<rect x="412.60" y="464.41" width="18.10" height="2.38" fill="#ff5600" shape-rendering="crispEdges"/>
<rect x="412.60" y="462.63" width="18.10" height="2.38" fill="#ff4f00" shape-rendering="crispEdges"/>
<rect x="412.60" y="460.85" width="18.10" height="2.38" fill="#ff4000" shape-rendering="crispEdges"/>
<rect x="412.60" y="459.08" width="18.10" height="2.38" fill="#ff3800" shape-rendering="crispEdges"/>
<rect x="412.60" y="457.30" width="18.10" height="2.38" fill="#ff2200" shape-rendering="crispEdges"/>
<rect x="412.60" y="455.52" width="18.10" height="2.38" fill="#ff1300" shape-rendering="crispEdges"/>
<rect x="412.60" y="453.74" width="18.10" height="2.38" fill="#ed0400" shape-rendering="crispEdges"/>
<rect x="412.60" y="451.96" width="18.10" height="2.38" fill="#db0000" shape-rendering="crispEdges"/>
<rect x="412.60" y="450.18" width="18.10" height="2.38" fill="#c90000" shape-rendering="crispEdges"/>
<rect x="412.60" y="448.41" width="18.10" height="2.38" fill="#ad0000" shape-rendering="crispEdges"/>
<rect x="412.60" y="446.63" width="18.10" height="2.38" fill="#9b0000" shape-rendering="crispEdges"/>
<rect x="412.60" y="444.85" width="18.10" height="2.38" fill="#800000" shape-rendering="crispEdges"/>
<rect x="412.60" y="445.45" width="18.10" height="355.65" fill="none" stroke="#000" stroke-width="1.3"/>
<text x="434.10" y="805.50">0.000000</text>
<text x="434.10" y="769.51">0.000011</text>
<text x="434.10" y="733.52">0.000049</text>
<text x="434.10" y="697.52">0.000127</text>
<text x="434.10" y="661.53">0.000268</text>
<text x="434.10" y="625.54">0.000420</text>
<text x="434.10" y="589.55">0.000543</text>
<text x="434.10" y="553.56">0.000785</text>
<text x="434.10" y="517.57">0.001235</text>
<text x="434.10" y="481.57">0.001904</text>
</g>
<path d="M70.35 801.10v-4M70.35 445.45v4M116.00 801.10v-4M116.00 445.45v4M161.65 801.10v-4M161.65 445.45v4M207.30 801.10v-4M207.30 445.45v4M252.95 801.10v-4M252.95 445.45v4M298.60 801.10v-4M298.60 445.45v4M344.25 801.10v-4M344.25 445.45v4M24.70 752.59h4M389.90 752.59h-4M24.70 704.09h4M389.90 704.09h-4M24.70 655.58h4M389.90 655.58h-4M24.70 607.07h4M389.90 607.07h-4M24.70 558.57h4M389.90 558.57h-4M24.70 510.06h4M389.90 510.06h-4M24.70 461.55h4M389.90 461.55h-4M430.70 765.11h-4M430.70 729.12h-4M430.70 693.12h-4M430.70 657.13h-4M430.70 621.14h-4M430.70 585.15h-4M430.70 549.16h-4M430.70 513.17h-4M430.70 477.17h-4" stroke="#000" stroke-width="0.9" fill="none"/>
<g font-size="11.57">
<g transform="matrix(8.7150 0 4.3575 -8.0224 544.900 801.800)" stroke-width="0.1" stroke-linejoin="round">
<path fill="#000080" stroke="#000080" d="M14 12h1l-1 1zM13 13h1l-1 1zM14 13h1l-1 1zM12 14h1l-1 1zM13 14h1l-1 1zM14 14h1l-1 1zM14 13v1h-1z"/>
<path fill="#000089" stroke="#000089" d="M15 11v1h-1zM14 12v1h-1zM15 12v1h-1zM13 13v1h-1zM15 13v1h-1zM12 14v1h-1zM13 14v1h-1zM14 14v1h-1zM15 14v1h-1z"/>
<path fill="#000092" stroke="#000092" d="M14 11h1l-1 1zM15 11h1l-1 1zM13 12h1l-1 1zM15 12h1l-1 1zM12 13h1l-1 1zM15 13h1l-1 1zM11 14h1l-1 1zM15 14h1l-1 1zM11 15h1l-1 1zM12 15h1l-1 1zM13 15h1l-1 1zM14 15h1l-1 1z"/>
<path fill="#00009b" stroke="#00009b" d="M15 10h1l-1 1zM10 15h1l-1 1zM15 15h1l-1 1zM15 10v1h-1zM16 10v1h-1zM14 11v1h-1zM16 11v1h-1zM13 12v1h-1zM16 12v1h-1zM12 13v1h-1zM16 13v1h-1zM11 14v1h-1zM16 14v1h-1zM11 15v1h-1zM12 15v1h-1zM13 15v1h-1zM14 15v1h-1zM15 15v1h-1z"/>
<path fill="#0000a4" stroke="#0000a4" d="M14 10h1l-1 1zM16 10h1l-1 1zM10 14h1l-1 1zM16 14h1l-1 1zM10 16h1l-1 1zM14 16h1l-1 1z"/>
<path fill="#0000ad" stroke="#0000ad" d="M15 9h1l-1 1zM16 9h1l-1 1zM13 11h1l-1 1zM16 11h1l-1 1zM12 12h1l-1 1zM16 12h1l-1 1zM11 13h1l-1 1zM16 13h1l-1 1zM9 15h1l-1 1zM16 15h1l-1 1zM9 16h1l-1 1zM11 16h1l-1 1zM12 16h1l-1 1zM13 16h1l-1 1zM15 16h1l-1 1zM16 9v1h-1zM10 15v1h-1zM16 15v1h-1z"/>
<path fill="#0000b6" stroke="#0000b6" d="M19 1h1l-1 1zM20 1h1l-1 1zM1 19h1l-1 1zM20 19h1l-1 1zM1 20h1l-1 1zM19 20h1l-1 1zM20 1v1h-1zM16 8v1h-1zM17 8v1h-1zM15 9v1h-1zM17 9v1h-1zM14 10v1h-1zM17 10v1h-1zM13 11v1h-1zM17 11v1h-1zM12 12v1h-1zM17 12v1h-1zM11 13v1h-1zM17 13v1h-1zM10 14v1h-1zM17 14v1h-1zM9 15v1h-1zM17 15v1h-1zM9 16v1h-1zM10 16v1h-1zM11 16v1h-1zM12 16v1h-1zM13 16v1h-1zM14 16v1h-1zM15 16v1h-1zM16 16v1h-1zM2 19v1h-1zM20 19v1h-1z"/>
<path fill="#0000bf" stroke="#0000bf" d="M19 2h1l-1 1zM15 8h1l-1 1zM16 8h1l-1 1zM17 8h1l-1 1zM14 9h1l-1 1zM17 9h1l-1 1zM9 14h1l-1 1zM17 14h1l-1 1zM8 15h1l-1 1zM17 15h1l-1 1zM8 16h1l-1 1zM16 16h1l-1 1zM8 17h1l-1 1zM9 17h1l-1 1zM14 17h1l-1 1zM15 17h1l-1 1zM2 19h1l-1 1zM19 19h1l-1 1zM19 1v1h-1zM21 1v1h-1zM2 18v1h-1zM21 18v1h-1zM2 20v1h-1zM19 20v1h-1z"/>
<path fill="#0000c9" stroke="#0000c9" d="M18 1h1l-1 1zM21 1h1l-1 1zM18 2h1l-1 1zM20 2h1l-1 1zM16 7h1l-1 1zM17 7h1l-1 1zM13 10h1l-1 1zM17 10h1l-1 1zM12 11h1l-1 1zM17 11h1l-1 1zM11 12h1l-1 1zM17 12h1l-1 1zM10 13h1l-1 1zM17 13h1l-1 1zM7 16h1l-1 1zM17 16h1l-1 1zM7 17h1l-1 1zM10 17h1l-1 1zM11 17h1l-1 1zM12 17h1l-1 1zM13 17h1l-1 1zM16 17h1l-1 1zM1 18h1l-1 1zM2 18h1l-1 1zM20 18h1l-1 1zM21 18h1l-1 1zM2 20h1l-1 1zM18 20h1l-1 1zM1 21h1l-1 1zM18 21h1l-1 1zM19 2v1h-1zM20 2v1h-1zM17 7v1h-1zM15 8v1h-1zM18 8v1h-1zM9 14v1h-1zM18 14v1h-1zM8 16v1h-1zM17 16v1h-1zM9 17v1h-1zM15 17v1h-1zM3 18v1h-1zM20 18v1h-1zM3 19v1h-1zM19 19v1h-1z"/>
<path fill="#0000d2" stroke="#0000d2" d="M18 3h1l-1 1zM19 3h1l-1 1zM17 6h1l-1 1zM6 17h1l-1 1zM17 17h1l-1 1zM3 18h1l-1 1zM19 18h1l-1 1zM3 19h1l-1 1zM18 19h1l-1 1zM19 3v1h-1zM17 6v1h-1zM18 6v1h-1zM16 7v1h-1zM18 7v1h-1zM14 9v1h-1zM18 9v1h-1zM10 13v1h-1zM18 13v1h-1zM8 15v1h-1zM18 15v1h-1zM7 16v1h-1zM18 16v1h-1zM7 17v1h-1zM8 17v1h-1zM10 17v1h-1zM14 17v1h-1zM16 17v1h-1zM17 17v1h-1zM4 18v1h-1zM19 18v1h-1z"/>
<path fill="#0000db" stroke="#0000db" d="M18 4h1l-1 1zM17 5h1l-1 1zM18 5h1l-1 1zM16 6h1l-1 1zM18 6h1l-1 1zM15 7h1l-1 1zM18 7h1l-1 1zM7 15h1l-1 1zM18 15h1l-1 1zM6 16h1l-1 1zM18 16h1l-1 1zM5 17h1l-1 1zM18 17h1l-1 1zM4 18h1l-1 1zM5 18h1l-1 1zM6 18h1l-1 1zM7 18h1l-1 1zM15 18h1l-1 1zM16 18h1l-1 1zM17 18h1l-1 1zM18 18h1l-1 1zM18 4v1h-1zM19 4v1h-1zM18 5v1h-1zM13 10v1h-1zM18 10v1h-1zM12 11v1h-1zM18 11v1h-1zM11 12v1h-1zM18 12v1h-1zM5 17v1h-1zM6 17v1h-1zM11 17v1h-1zM12 17v1h-1zM13 17v1h-1zM18 17v1h-1zM19 17v1h-1zM5 18v1h-1zM18 18v1h-1z"/>
<path fill="#0000e4" stroke="#0000e4" d="M17 4h1l-1 1zM19 4h1l-1 1zM14 8h1l-1 1zM18 8h1l-1 1zM8 14h1l-1 1zM18 14h1l-1 1zM4 17h1l-1 1zM19 17h1l-1 1zM8 18h1l-1 1zM14 18h1l-1 1zM4 19h1l-1 1zM17 19h1l-1 1zM18 1v1h-1zM22 1v1h-1zM18 2v1h-1zM21 2v1h-1zM18 3v1h-1zM20 3v1h-1zM17 5v1h-1zM19 5v1h-1zM16 6v1h-1zM19 6v1h-1zM7 15v1h-1zM19 15v1h-1zM6 16v1h-1zM19 16v1h-1zM2 17v1h-1zM3 17v1h-1zM4 17v1h-1zM20 17v1h-1zM21 17v1h-1zM22 17v1h-1zM6 18v1h-1zM7 18v1h-1zM16 18v1h-1zM17 18v1h-1zM4 19v1h-1zM18 19v1h-1zM3 20v1h-1zM18 20v1h-1zM2 21v1h-1zM18 21v1h-1z"/>
<path fill="#0000ed" stroke="#0000ed" d="M17 3h1l-1 1zM20 3h1l-1 1zM16 5h1l-1 1zM19 5h1l-1 1zM13 9h1l-1 1zM18 9h1l-1 1zM12 10h1l-1 1zM18 10h1l-1 1zM10 12h1l-1 1zM18 12h1l-1 1zM9 13h1l-1 1zM18 13h1l-1 1zM5 16h1l-1 1zM19 16h1l-1 1zM3 17h1l-1 1zM20 17h1l-1 1zM9 18h1l-1 1zM10 18h1l-1 1zM12 18h1l-1 1zM13 18h1l-1 1zM5 19h1l-1 1zM16 19h1l-1 1zM3 20h1l-1 1zM17 20h1l-1 1zM17 4v1h-1zM20 4v1h-1zM15 7v1h-1zM19 7v1h-1zM8 14v1h-1zM19 14v1h-1zM5 16v1h-1zM20 16v1h-1zM8 18v1h-1zM15 18v1h-1zM5 19v1h-1zM17 19v1h-1z"/>
<path fill="#0000f6" stroke="#0000f6" d="M17 1h1l-1 1zM22 1h1l-1 1zM17 2h1l-1 1zM21 2h1l-1 1zM15 6h1l-1 1zM19 6h1l-1 1zM11 11h1l-1 1zM18 11h1l-1 1zM6 15h1l-1 1zM19 15h1l-1 1zM1 17h1l-1 1zM2 17h1l-1 1zM21 17h1l-1 1zM22 17h1l-1 1zM11 18h1l-1 1zM6 19h1l-1 1zM15 19h1l-1 1zM2 21h1l-1 1zM17 21h1l-1 1zM1 22h1l-1 1zM17 22h1l-1 1zM14 8v1h-1zM19 8v1h-1zM9 13v1h-1zM19 13v1h-1zM9 18v1h-1zM14 18v1h-1z"/>
<path fill="#0000ff" stroke="#0000ff" d="M16 4h1l-1 1zM20 4h1l-1 1zM4 16h1l-1 1zM20 16h1l-1 1zM4 20h1l-1 1zM16 20h1l-1 1zM17 3v1h-1zM21 3v1h-1zM16 5v1h-1zM20 5v1h-1zM13 9v1h-1zM19 9v1h-1zM12 10v1h-1zM19 10v1h-1zM11 11v1h-1zM19 11v1h-1zM10 12v1h-1zM19 12v1h-1zM6 15v1h-1zM20 15v1h-1zM4 16v1h-1zM21 16v1h-1zM10 18v1h-1zM11 18v1h-1zM12 18v1h-1zM13 18v1h-1zM6 19v1h-1zM16 19v1h-1zM4 20v1h-1zM17 20v1h-1z"/>
<path fill="#0000ff" stroke="#0000ff" d="M14 7h1l-1 1zM19 7h1l-1 1zM7 14h1l-1 1zM19 14h1l-1 1zM7 19h1l-1 1zM14 19h1l-1 1z"/>
<path fill="#0001ff" stroke="#0001ff" d="M15 5h1l-1 1zM20 5h1l-1 1zM13 8h1l-1 1zM19 8h1l-1 1zM8 13h1l-1 1zM19 13h1l-1 1zM5 15h1l-1 1zM20 15h1l-1 1zM8 19h1l-1 1zM13 19h1l-1 1zM5 20h1l-1 1zM15 20h1l-1 1zM17 2v1h-1zM22 2v1h-1zM15 6v1h-1zM20 6v1h-1zM7 14v1h-1zM20 14v1h-1zM3 16v1h-1zM22 16v1h-1zM7 19v1h-1zM15 19v1h-1zM3 21v1h-1zM17 21v1h-1z"/>
<path fill="#0009ff" stroke="#0009ff" d="M16 3h1l-1 1zM21 3h1l-1 1zM12 9h1l-1 1zM19 9h1l-1 1zM9 12h1l-1 1zM19 12h1l-1 1zM3 16h1l-1 1zM21 16h1l-1 1zM9 19h1l-1 1zM12 19h1l-1 1zM3 21h1l-1 1zM16 21h1l-1 1zM17 1v1h-1zM23 1v1h-1zM16 4v1h-1zM21 4v1h-1zM5 15v1h-1zM21 15v1h-1zM2 16v1h-1zM23 16v1h-1zM5 20v1h-1zM16 20v1h-1zM2 22v1h-1zM17 22v1h-1z"/>
<path fill="#0011ff" stroke="#0011ff" d="M11 10h1l-1 1zM19 10h1l-1 1zM10 11h1l-1 1zM19 11h1l-1 1zM10 19h1l-1 1zM11 19h1l-1 1zM14 7v1h-1zM20 7v1h-1zM8 13v1h-1zM20 13v1h-1zM8 19v1h-1zM14 19v1h-1z"/>
<path fill="#0019ff" stroke="#0019ff" d="M16 2h1l-1 1zM22 2h1l-1 1zM14 6h1l-1 1zM20 6h1l-1 1zM6 14h1l-1 1zM20 14h1l-1 1zM2 16h1l-1 1zM22 16h1l-1 1zM6 20h1l-1 1zM14 20h1l-1 1zM2 22h1l-1 1zM16 22h1l-1 1zM13 8v1h-1zM20 8v1h-1zM9 12v1h-1zM20 12v1h-1zM9 19v1h-1zM13 19v1h-1z"/>
<path fill="#0021ff" stroke="#0021ff" d="M16 1h1l-1 1zM23 1h1l-1 1zM15 4h1l-1 1zM21 4h1l-1 1zM4 15h1l-1 1zM21 15h1l-1 1zM1 16h1l-1 1zM23 16h1l-1 1zM4 21h1l-1 1zM15 21h1l-1 1zM1 23h1l-1 1zM16 23h1l-1 1zM16 3v1h-1zM22 3v1h-1zM15 5v1h-1zM21 5v1h-1zM12 9v1h-1zM20 9v1h-1zM11 10v1h-1zM20 10v1h-1zM10 11v1h-1zM20 11v1h-1zM6 14v1h-1zM21 14v1h-1zM4 15v1h-1zM22 15v1h-1zM10 19v1h-1zM11 19v1h-1zM12 19v1h-1zM6 20v1h-1zM15 20v1h-1zM4 21v1h-1zM16 21v1h-1z"/>
<path fill="#0031ff" stroke="#0031ff" d="M13 7h1l-1 1zM20 7h1l-1 1zM7 13h1l-1 1zM20 13h1l-1 1zM7 20h1l-1 1zM13 20h1l-1 1z"/>
<path fill="#0039ff" stroke="#0039ff" d="M12 8h1l-1 1zM20 8h1l-1 1zM8 12h1l-1 1zM20 12h1l-1 1zM8 20h1l-1 1zM12 20h1l-1 1zM14 6v1h-1zM21 6v1h-1zM7 13v1h-1zM21 13v1h-1zM7 20v1h-1zM14 20v1h-1z"/>
<path fill="#0041ff" stroke="#0041ff" d="M15 3h1l-1 1zM22 3h1l-1 1zM14 5h1l-1 1zM21 5h1l-1 1zM5 14h1l-1 1zM21 14h1l-1 1zM3 15h1l-1 1zM22 15h1l-1 1zM5 21h1l-1 1zM14 21h1l-1 1zM3 22h1l-1 1zM15 22h1l-1 1zM16 2v1h-1zM23 2v1h-1zM15 4v1h-1zM22 4v1h-1zM5 14v1h-1zM22 14v1h-1zM3 15v1h-1zM23 15v1h-1zM5 21v1h-1zM15 21v1h-1zM3 22v1h-1zM16 22v1h-1z"/>
<path fill="#0049ff" stroke="#0049ff" d="M11 9h1l-1 1zM20 9h1l-1 1zM10 10h1l-1 1zM20 10h1l-1 1zM9 11h1l-1 1zM20 11h1l-1 1zM9 20h1l-1 1zM10 20h1l-1 1zM11 20h1l-1 1zM13 7v1h-1zM21 7v1h-1zM8 12v1h-1zM21 12v1h-1zM8 20v1h-1zM13 20v1h-1z"/>
<path fill="#0051ff" stroke="#0051ff" d="M16 1v1h-1zM24 1v1h-1zM2 15v1h-1zM24 15v1h-1zM2 23v1h-1zM16 23v1h-1z"/>
<path fill="#0059ff" stroke="#0059ff" d="M13 6h1l-1 1zM21 6h1l-1 1zM6 13h1l-1 1zM21 13h1l-1 1zM6 21h1l-1 1zM13 21h1l-1 1zM12 8v1h-1zM21 8v1h-1zM9 11v1h-1zM21 11v1h-1zM9 20v1h-1zM12 20v1h-1z"/>
<path fill="#0061ff" stroke="#0061ff" d="M15 2h1l-1 1zM23 2h1l-1 1zM2 15h1l-1 1zM23 15h1l-1 1zM2 23h1l-1 1zM15 23h1l-1 1zM14 5v1h-1zM22 5v1h-1zM11 9v1h-1zM21 9v1h-1zM10 10v1h-1zM21 10v1h-1zM6 13v1h-1zM22 13v1h-1zM10 20v1h-1zM11 20v1h-1zM6 21v1h-1zM14 21v1h-1z"/>
<path fill="#0069ff" stroke="#0069ff" d="M14 4h1l-1 1zM22 4h1l-1 1zM4 14h1l-1 1zM22 14h1l-1 1zM4 22h1l-1 1zM14 22h1l-1 1zM15 3v1h-1zM23 3v1h-1zM4 14v1h-1zM23 14v1h-1zM4 22v1h-1zM15 22v1h-1z"/>
<path fill="#0071ff" stroke="#0071ff" d="M15 1h1l-1 1zM24 1h1l-1 1zM12 7h1l-1 1zM21 7h1l-1 1zM7 12h1l-1 1zM21 12h1l-1 1zM1 15h1l-1 1zM24 15h1l-1 1zM7 21h1l-1 1zM12 21h1l-1 1zM1 24h1l-1 1zM15 24h1l-1 1z"/>
<path fill="#0079ff" stroke="#0079ff" d="M13 6v1h-1zM22 6v1h-1zM7 12v1h-1zM22 12v1h-1zM7 21v1h-1zM13 21v1h-1z"/>
<path fill="#0082ff" stroke="#0082ff" d="M11 8h1l-1 1zM21 8h1l-1 1zM8 11h1l-1 1zM21 11h1l-1 1zM8 21h1l-1 1zM11 21h1l-1 1z"/>
<path fill="#008aff" stroke="#008aff" d="M14 3h1l-1 1zM23 3h1l-1 1zM13 5h1l-1 1zM22 5h1l-1 1zM10 9h1l-1 1zM21 9h1l-1 1zM9 10h1l-1 1zM21 10h1l-1 1zM5 13h1l-1 1zM22 13h1l-1 1zM3 14h1l-1 1zM23 14h1l-1 1zM9 21h1l-1 1zM10 21h1l-1 1zM5 22h1l-1 1zM13 22h1l-1 1zM3 23h1l-1 1zM14 23h1l-1 1zM15 2v1h-1zM24 2v1h-1zM14 4v1h-1zM23 4v1h-1zM5 13v1h-1zM23 13v1h-1zM3 14v1h-1zM24 14v1h-1zM5 22v1h-1zM14 22v1h-1zM3 23v1h-1zM15 23v1h-1z"/>
<path fill="#0092ff" stroke="#0092ff" d="M12 7v1h-1zM22 7v1h-1zM8 11v1h-1zM22 11v1h-1zM8 21v1h-1zM12 21v1h-1z"/>
<path fill="#00a2ff" stroke="#00a2ff" d="M15 1v1h-1zM25 1v1h-1zM11 8v1h-1zM22 8v1h-1zM10 9v1h-1zM22 9v1h-1zM9 10v1h-1zM22 10v1h-1zM2 14v1h-1zM25 14v1h-1zM9 21v1h-1zM10 21v1h-1zM11 21v1h-1zM2 24v1h-1zM15 24v1h-1z"/>
<path fill="#00aaff" stroke="#00aaff" d="M12 6h1l-1 1zM22 6h1l-1 1zM6 12h1l-1 1zM22 12h1l-1 1zM6 22h1l-1 1zM12 22h1l-1 1z"/>
<path fill="#00b2ff" stroke="#00b2ff" d="M14 2h1l-1 1zM24 2h1l-1 1zM2 14h1l-1 1zM24 14h1l-1 1zM2 24h1l-1 1zM14 24h1l-1 1zM13 5v1h-1zM23 5v1h-1zM6 12v1h-1zM23 12v1h-1zM6 22v1h-1zM13 22v1h-1z"/>
<path fill="#00baff" stroke="#00baff" d="M13 4h1l-1 1zM23 4h1l-1 1zM4 13h1l-1 1zM23 13h1l-1 1zM4 23h1l-1 1zM13 23h1l-1 1zM14 3v1h-1zM24 3v1h-1zM4 13v1h-1zM24 13v1h-1zM4 23v1h-1zM14 23v1h-1z"/>
<path fill="#00c2ff" stroke="#00c2ff" d="M11 7h1l-1 1zM22 7h1l-1 1zM7 11h1l-1 1zM22 11h1l-1 1zM7 22h1l-1 1zM11 22h1l-1 1z"/>
<path fill="#00caff" stroke="#00caff" d="M14 1h1l-1 1zM25 1h1l-1 1zM1 14h1l-1 1zM25 14h1l-1 1zM1 25h1l-1 1zM14 25h1l-1 1z"/>
<path fill="#00d2ff" stroke="#00d2ff" d="M10 8h1l-1 1zM22 8h1l-1 1zM9 9h1l-1 1zM22 9h1l-1 1zM8 10h1l-1 1zM22 10h1l-1 1zM8 22h1l-1 1zM9 22h1l-1 1zM10 22h1l-1 1zM12 6v1h-1zM23 6v1h-1zM7 11v1h-1zM23 11v1h-1zM7 22v1h-1zM12 22v1h-1z"/>
<path fill="#00e2fa" stroke="#00e2fa" d="M13 3h1l-1 1zM24 3h1l-1 1zM12 5h1l-1 1zM23 5h1l-1 1zM5 12h1l-1 1zM23 12h1l-1 1zM3 13h1l-1 1zM24 13h1l-1 1zM5 23h1l-1 1zM12 23h1l-1 1zM3 24h1l-1 1zM13 24h1l-1 1zM14 2v1h-1zM25 2v1h-1zM13 4v1h-1zM24 4v1h-1zM11 7v1h-1zM23 7v1h-1zM8 10v1h-1zM23 10v1h-1zM5 12v1h-1zM24 12v1h-1zM3 13v1h-1zM25 13v1h-1zM8 22v1h-1zM11 22v1h-1zM5 23v1h-1zM13 23v1h-1zM3 24v1h-1zM14 24v1h-1z"/>
<path fill="#0af2ed" stroke="#0af2ed" d="M10 8v1h-1zM23 8v1h-1zM9 9v1h-1zM23 9v1h-1zM9 22v1h-1zM10 22v1h-1z"/>
<path fill="#17ffe0" stroke="#17ffe0" d="M11 6h1l-1 1zM23 6h1l-1 1zM6 11h1l-1 1zM23 11h1l-1 1zM6 23h1l-1 1zM11 23h1l-1 1zM14 1v1h-1zM26 1v1h-1zM2 13v1h-1zM26 13v1h-1zM2 25v1h-1zM14 25v1h-1z"/>
<path fill="#1dffd9" stroke="#1dffd9" d="M13 2h1l-1 1zM25 2h1l-1 1zM2 13h1l-1 1zM25 13h1l-1 1zM2 25h1l-1 1zM13 25h1l-1 1z"/>
<path fill="#24ffd3" stroke="#24ffd3" d="M12 5v1h-1zM24 5v1h-1zM6 11v1h-1zM24 11v1h-1zM6 23v1h-1zM12 23v1h-1z"/>
<path fill="#2affcc" stroke="#2affcc" d="M12 4h1l-1 1zM24 4h1l-1 1zM10 7h1l-1 1zM23 7h1l-1 1zM7 10h1l-1 1zM23 10h1l-1 1zM4 12h1l-1 1zM24 12h1l-1 1zM7 23h1l-1 1zM10 23h1l-1 1zM4 24h1l-1 1zM12 24h1l-1 1zM13 3v1h-1zM25 3v1h-1zM4 12v1h-1zM25 12v1h-1zM4 24v1h-1zM13 24v1h-1z"/>
<path fill="#37ffbf" stroke="#37ffbf" d="M1 1h1l-1 1zM13 1h1l-1 1zM26 1h1l-1 1zM38 1h1l-1 1zM9 8h1l-1 1zM23 8h1l-1 1zM8 9h1l-1 1zM23 9h1l-1 1zM1 13h1l-1 1zM26 13h1l-1 1zM8 23h1l-1 1zM9 23h1l-1 1zM1 26h1l-1 1zM13 26h1l-1 1zM1 38h1l-1 1z"/>
<path fill="#3effb9" stroke="#3effb9" d="M11 6v1h-1zM24 6v1h-1zM7 10v1h-1zM24 10v1h-1zM7 23v1h-1zM11 23v1h-1z"/>
<path fill="#4bffac" stroke="#4bffac" d="M13 2v1h-1zM26 2v1h-1zM10 7v1h-1zM24 7v1h-1zM8 9v1h-1zM24 9v1h-1zM3 12v1h-1zM26 12v1h-1zM8 23v1h-1zM10 23v1h-1zM3 25v1h-1zM13 25v1h-1z"/>
<path fill="#51ffa5" stroke="#51ffa5" d="M12 3h1l-1 1zM25 3h1l-1 1zM11 5h1l-1 1zM24 5h1l-1 1zM5 11h1l-1 1zM24 11h1l-1 1zM3 12h1l-1 1zM25 12h1l-1 1zM5 24h1l-1 1zM11 24h1l-1 1zM3 25h1l-1 1zM12 25h1l-1 1zM12 4v1h-1zM25 4v1h-1zM9 8v1h-1zM24 8v1h-1zM5 11v1h-1zM25 11v1h-1zM9 23v1h-1zM5 24v1h-1zM12 24v1h-1z"/>
<path fill="#65ff92" stroke="#65ff92" d="M13 1v1h-1zM27 1v1h-1zM2 12v1h-1zM27 12v1h-1zM2 26v1h-1zM13 26v1h-1z"/>
<path fill="#6bff8c" stroke="#6bff8c" d="M10 6h1l-1 1zM24 6h1l-1 1zM6 10h1l-1 1zM24 10h1l-1 1zM6 24h1l-1 1zM10 24h1l-1 1z"/>
<path fill="#72ff85" stroke="#72ff85" d="M12 2h1l-1 1zM26 2h1l-1 1zM2 12h1l-1 1zM26 12h1l-1 1zM2 26h1l-1 1zM12 26h1l-1 1zM11 5v1h-1zM25 5v1h-1zM6 10v1h-1zM25 10v1h-1zM6 24v1h-1zM11 24v1h-1z"/>
<path fill="#7fff78" stroke="#7fff78" d="M11 4h1l-1 1zM25 4h1l-1 1zM9 7h1l-1 1zM24 7h1l-1 1zM7 9h1l-1 1zM24 9h1l-1 1zM4 11h1l-1 1zM25 11h1l-1 1zM7 24h1l-1 1zM9 24h1l-1 1zM4 25h1l-1 1zM11 25h1l-1 1zM12 3v1h-1zM26 3v1h-1zM4 11v1h-1zM26 11v1h-1zM4 25v1h-1zM12 25v1h-1z"/>
<path fill="#85ff72" stroke="#85ff72" d="M12 1h1l-1 1zM27 1h1l-1 1zM8 8h1l-1 1zM24 8h1l-1 1zM1 12h1l-1 1zM27 12h1l-1 1zM8 24h1l-1 1zM1 27h1l-1 1zM12 27h1l-1 1z"/>
<path fill="#8cff6b" stroke="#8cff6b" d="M10 6v1h-1zM25 6v1h-1zM7 9v1h-1zM25 9v1h-1zM7 24v1h-1zM10 24v1h-1z"/>
<path fill="#99ff5e" stroke="#99ff5e" d="M2 1v1h-1zM38 1v1h-1zM9 7v1h-1zM25 7v1h-1zM8 8v1h-1zM25 8v1h-1zM8 24v1h-1zM9 24v1h-1zM2 37v1h-1z"/>
<path fill="#9fff58" stroke="#9fff58" d="M12 2v1h-1zM27 2v1h-1zM3 11v1h-1zM27 11v1h-1zM3 26v1h-1zM12 26v1h-1z"/>
<path fill="#a5ff51" stroke="#a5ff51" d="M11 3h1l-1 1zM26 3h1l-1 1zM10 5h1l-1 1zM25 5h1l-1 1zM5 10h1l-1 1zM25 10h1l-1 1zM3 11h1l-1 1zM26 11h1l-1 1zM5 25h1l-1 1zM10 25h1l-1 1zM3 26h1l-1 1zM11 26h1l-1 1zM11 4v1h-1zM26 4v1h-1zM5 10v1h-1zM26 10v1h-1zM5 25v1h-1zM11 25v1h-1z"/>
<path fill="#b2ff44" stroke="#b2ff44" d="M12 1v1h-1zM28 1v1h-1zM2 11v1h-1zM28 11v1h-1zM2 27v1h-1zM12 27v1h-1z"/>
<path fill="#bfff37" stroke="#bfff37" d="M11 2h1l-1 1zM27 2h1l-1 1zM9 6h1l-1 1zM25 6h1l-1 1zM6 9h1l-1 1zM25 9h1l-1 1zM2 11h1l-1 1zM27 11h1l-1 1zM6 25h1l-1 1zM9 25h1l-1 1zM2 27h1l-1 1zM11 27h1l-1 1z"/>
<path fill="#c6ff31" stroke="#c6ff31" d="M10 5v1h-1zM26 5v1h-1zM6 9v1h-1zM26 9v1h-1zM6 25v1h-1zM10 25v1h-1z"/>
<path fill="#ccff2a" stroke="#ccff2a" d="M2 1h1l-1 1zM37 1h1l-1 1zM1 2h1l-1 1zM37 2h1l-1 1zM8 7h1l-1 1zM25 7h1l-1 1zM7 8h1l-1 1zM25 8h1l-1 1zM7 25h1l-1 1zM8 25h1l-1 1zM1 37h1l-1 1zM2 37h1l-1 1zM11 3v1h-1zM27 3v1h-1zM4 10v1h-1zM27 10v1h-1zM4 26v1h-1zM11 26v1h-1z"/>
<path fill="#d3ff24" stroke="#d3ff24" d="M11 1h1l-1 1zM28 1h1l-1 1zM10 4h1l-1 1zM26 4h1l-1 1zM4 10h1l-1 1zM26 10h1l-1 1zM1 11h1l-1 1zM28 11h1l-1 1zM4 26h1l-1 1zM10 26h1l-1 1zM1 28h1l-1 1zM11 28h1l-1 1z"/>
<path fill="#d9ff1d" stroke="#d9ff1d" d="M9 6v1h-1zM26 6v1h-1zM7 8v1h-1zM26 8v1h-1zM7 25v1h-1zM9 25v1h-1z"/>
<path fill="#e6ff11" stroke="#e6ff11" d="M8 7v1h-1zM26 7v1h-1zM8 25v1h-1z"/>
<path fill="#edff0a" stroke="#edff0a" d="M11 2v1h-1zM28 2v1h-1zM3 10v1h-1zM28 10v1h-1zM3 27v1h-1zM11 27v1h-1z"/>
<path fill="#f3fa04" stroke="#f3fa04" d="M9 5h1l-1 1zM26 5h1l-1 1zM5 9h1l-1 1zM26 9h1l-1 1zM5 26h1l-1 1zM9 26h1l-1 1z"/>
<path fill="#faf200" stroke="#faf200" d="M10 3h1l-1 1zM27 3h1l-1 1zM3 10h1l-1 1zM27 10h1l-1 1zM3 27h1l-1 1zM10 27h1l-1 1zM10 4v1h-1zM27 4v1h-1zM5 9v1h-1zM27 9v1h-1zM5 26v1h-1zM10 26v1h-1z"/>
<path fill="#ffeb00" stroke="#ffeb00" d="M11 1v1h-1zM29 1v1h-1zM2 10v1h-1zM29 10v1h-1zM2 28v1h-1zM11 28v1h-1z"/>
<path fill="#ffdc00" stroke="#ffdc00" d="M8 6h1l-1 1zM26 6h1l-1 1zM6 8h1l-1 1zM26 8h1l-1 1zM6 26h1l-1 1zM8 26h1l-1 1z"/>
<path fill="#ffd400" stroke="#ffd400" d="M10 2h1l-1 1zM28 2h1l-1 1zM7 7h1l-1 1zM26 7h1l-1 1zM2 10h1l-1 1zM28 10h1l-1 1zM7 26h1l-1 1zM2 28h1l-1 1zM10 28h1l-1 1zM3 1v1h-1zM37 1v1h-1zM2 2v1h-1zM37 2v1h-1zM9 5v1h-1zM27 5v1h-1zM6 8v1h-1zM27 8v1h-1zM6 26v1h-1zM9 26v1h-1zM2 36v1h-1zM3 36v1h-1z"/>
<path fill="#ffcd00" stroke="#ffcd00" d="M10 1h1l-1 1zM29 1h1l-1 1zM1 10h1l-1 1zM29 10h1l-1 1zM1 29h1l-1 1zM10 29h1l-1 1z"/>
<path fill="#ffc600" stroke="#ffc600" d="M9 4h1l-1 1zM27 4h1l-1 1zM4 9h1l-1 1zM27 9h1l-1 1zM4 27h1l-1 1zM9 27h1l-1 1zM10 3v1h-1zM28 3v1h-1zM4 9v1h-1zM28 9v1h-1zM4 27v1h-1zM10 27v1h-1z"/>
<path fill="#ffbe00" stroke="#ffbe00" d="M8 6v1h-1zM27 6v1h-1zM7 7v1h-1zM27 7v1h-1zM7 26v1h-1zM8 26v1h-1z"/>
<path fill="#ffaf00" stroke="#ffaf00" d="M2 2h1l-1 1zM36 2h1l-1 1zM2 36h1l-1 1z"/>
<path fill="#ffa800" stroke="#ffa800" d="M10 2v1h-1zM29 2v1h-1zM3 9v1h-1zM29 9v1h-1zM3 28v1h-1zM10 28v1h-1z"/>
<path fill="#ffa000" stroke="#ffa000" d="M3 1h1l-1 1zM36 1h1l-1 1zM1 3h1l-1 1zM36 3h1l-1 1zM8 5h1l-1 1zM27 5h1l-1 1zM5 8h1l-1 1zM27 8h1l-1 1zM5 27h1l-1 1zM8 27h1l-1 1zM1 36h1l-1 1zM3 36h1l-1 1z"/>
<path fill="#ff9900" stroke="#ff9900" d="M9 3h1l-1 1zM28 3h1l-1 1zM3 9h1l-1 1zM28 9h1l-1 1zM3 28h1l-1 1zM9 28h1l-1 1zM10 1v1h-1zM30 1v1h-1zM9 4v1h-1zM28 4v1h-1zM5 8v1h-1zM28 8v1h-1zM2 9v1h-1zM30 9v1h-1zM5 27v1h-1zM9 27v1h-1zM2 29v1h-1zM10 29v1h-1z"/>
<path fill="#ff8a00" stroke="#ff8a00" d="M9 2h1l-1 1zM29 2h1l-1 1zM7 6h1l-1 1zM27 6h1l-1 1zM6 7h1l-1 1zM27 7h1l-1 1zM2 9h1l-1 1zM29 9h1l-1 1zM6 27h1l-1 1zM7 27h1l-1 1zM2 29h1l-1 1zM9 29h1l-1 1z"/>
<path fill="#ff7b00" stroke="#ff7b00" d="M9 1h1l-1 1zM30 1h1l-1 1zM1 9h1l-1 1zM30 9h1l-1 1zM1 30h1l-1 1zM9 30h1l-1 1zM8 5v1h-1zM28 5v1h-1zM6 7v1h-1zM28 7v1h-1zM6 27v1h-1zM8 27v1h-1z"/>
<path fill="#ff7400" stroke="#ff7400" d="M9 3v1h-1zM29 3v1h-1zM7 6v1h-1zM28 6v1h-1zM4 8v1h-1zM29 8v1h-1zM7 27v1h-1zM4 28v1h-1zM9 28v1h-1z"/>
<path fill="#ff6c00" stroke="#ff6c00" d="M8 4h1l-1 1zM28 4h1l-1 1zM4 8h1l-1 1zM28 8h1l-1 1zM4 28h1l-1 1zM8 28h1l-1 1zM3 2v1h-1zM36 2v1h-1zM3 35v1h-1z"/>
<path fill="#ff6500" stroke="#ff6500" d="M4 1v1h-1zM36 1v1h-1zM2 3v1h-1zM36 3v1h-1zM2 35v1h-1zM4 35v1h-1z"/>
<path fill="#ff5d00" stroke="#ff5d00" d="M9 2v1h-1zM30 2v1h-1zM3 8v1h-1zM30 8v1h-1zM3 29v1h-1zM9 29v1h-1z"/>
<path fill="#ff5600" stroke="#ff5600" d="M7 5h1l-1 1zM28 5h1l-1 1zM5 7h1l-1 1zM28 7h1l-1 1zM5 28h1l-1 1zM7 28h1l-1 1z"/>
<path fill="#ff4f00" stroke="#ff4f00" d="M8 3h1l-1 1zM29 3h1l-1 1zM3 8h1l-1 1zM29 8h1l-1 1zM3 29h1l-1 1zM8 29h1l-1 1zM9 1v1h-1zM31 1v1h-1zM8 4v1h-1zM29 4v1h-1zM5 7v1h-1zM29 7v1h-1zM2 8v1h-1zM31 8v1h-1zM5 28v1h-1zM8 28v1h-1zM2 30v1h-1zM9 30v1h-1z"/>
<path fill="#ff4700" stroke="#ff4700" d="M3 2h1l-1 1zM35 2h1l-1 1zM2 3h1l-1 1zM35 3h1l-1 1zM6 6h1l-1 1zM28 6h1l-1 1zM6 28h1l-1 1zM2 35h1l-1 1zM3 35h1l-1 1z"/>
<path fill="#ff4000" stroke="#ff4000" d="M4 1h1l-1 1zM35 1h1l-1 1zM1 4h1l-1 1zM35 4h1l-1 1zM1 35h1l-1 1zM4 35h1l-1 1z"/>
<path fill="#ff3800" stroke="#ff3800" d="M8 2h1l-1 1zM30 2h1l-1 1zM2 8h1l-1 1zM30 8h1l-1 1zM2 30h1l-1 1zM8 30h1l-1 1zM7 5v1h-1zM29 5v1h-1zM6 6v1h-1zM29 6v1h-1zM6 28v1h-1zM7 28v1h-1z"/>
<path fill="#ff3100" stroke="#ff3100" d="M8 1h1l-1 1zM31 1h1l-1 1zM1 8h1l-1 1zM31 8h1l-1 1zM1 31h1l-1 1zM8 31h1l-1 1z"/>
<path fill="#ff2900" stroke="#ff2900" d="M7 4h1l-1 1zM29 4h1l-1 1zM4 7h1l-1 1zM29 7h1l-1 1zM4 29h1l-1 1zM7 29h1l-1 1zM8 3v1h-1zM30 3v1h-1zM4 7v1h-1zM30 7v1h-1zM4 29v1h-1zM8 29v1h-1z"/>
<path fill="#ff1300" stroke="#ff1300" d="M6 5h1l-1 1zM29 5h1l-1 1zM5 6h1l-1 1zM29 6h1l-1 1zM5 29h1l-1 1zM6 29h1l-1 1zM5 1v1h-1zM35 1v1h-1zM4 2v1h-1zM8 2v1h-1zM31 2v1h-1zM35 2v1h-1zM3 3v1h-1zM35 3v1h-1zM2 4v1h-1zM35 4v1h-1zM3 7v1h-1zM31 7v1h-1zM3 30v1h-1zM8 30v1h-1zM2 34v1h-1zM3 34v1h-1zM4 34v1h-1zM5 34v1h-1z"/>
<path fill="#f60c00" stroke="#f60c00" d="M7 3h1l-1 1zM30 3h1l-1 1zM3 7h1l-1 1zM30 7h1l-1 1zM3 30h1l-1 1zM7 30h1l-1 1zM8 1v1h-1zM32 1v1h-1zM7 4v1h-1zM30 4v1h-1zM5 6v1h-1zM30 6v1h-1zM2 7v1h-1zM32 7v1h-1zM5 29v1h-1zM7 29v1h-1zM2 31v1h-1zM8 31v1h-1z"/>
<path fill="#ed0400" stroke="#ed0400" d="M6 5v1h-1zM30 5v1h-1zM6 29v1h-1z"/>
<path fill="#e40000" stroke="#e40000" d="M5 1h1l-1 1zM7 1h1l-1 1zM32 1h1l-1 1zM34 1h1l-1 1zM1 5h1l-1 1zM34 5h1l-1 1zM1 7h1l-1 1zM32 7h1l-1 1zM1 32h1l-1 1zM7 32h1l-1 1zM1 34h1l-1 1zM5 34h1l-1 1z"/>
<path fill="#db0000" stroke="#db0000" d="M4 2h1l-1 1zM7 2h1l-1 1zM31 2h1l-1 1zM34 2h1l-1 1zM3 3h1l-1 1zM34 3h1l-1 1zM2 4h1l-1 1zM34 4h1l-1 1zM2 7h1l-1 1zM31 7h1l-1 1zM2 31h1l-1 1zM7 31h1l-1 1zM2 34h1l-1 1zM3 34h1l-1 1zM4 34h1l-1 1z"/>
<path fill="#d20000" stroke="#d20000" d="M6 4h1l-1 1zM30 4h1l-1 1zM4 6h1l-1 1zM30 6h1l-1 1zM4 30h1l-1 1zM6 30h1l-1 1zM7 3v1h-1zM31 3v1h-1zM4 6v1h-1zM31 6v1h-1zM4 30v1h-1zM7 30v1h-1z"/>
<path fill="#c90000" stroke="#c90000" d="M6 1h1l-1 1zM33 1h1l-1 1zM1 6h1l-1 1zM33 6h1l-1 1zM1 33h1l-1 1zM6 33h1l-1 1zM6 1v1h-1zM7 1v1h-1zM33 1v1h-1zM34 1v1h-1zM2 5v1h-1zM34 5v1h-1zM2 6v1h-1zM33 6v1h-1zM2 32v1h-1zM7 32v1h-1zM2 33v1h-1zM6 33v1h-1z"/>
<path fill="#bf0000" stroke="#bf0000" d="M5 5h1l-1 1zM30 5h1l-1 1zM5 30h1l-1 1zM7 2v1h-1zM32 2v1h-1zM3 6v1h-1zM32 6v1h-1zM3 31v1h-1zM7 31v1h-1z"/>
<path fill="#b60000" stroke="#b60000" d="M5 2v1h-1zM34 2v1h-1zM4 3v1h-1zM34 3v1h-1zM3 4v1h-1zM6 4v1h-1zM31 4v1h-1zM34 4v1h-1zM5 5v1h-1zM31 5v1h-1zM5 30v1h-1zM6 30v1h-1zM3 33v1h-1zM4 33v1h-1zM5 33v1h-1z"/>
<path fill="#ad0000" stroke="#ad0000" d="M5 2h1l-1 1zM6 2h1l-1 1zM32 2h1l-1 1zM33 2h1l-1 1zM6 3h1l-1 1zM31 3h1l-1 1zM2 5h1l-1 1zM33 5h1l-1 1zM2 6h1l-1 1zM3 6h1l-1 1zM31 6h1l-1 1zM32 6h1l-1 1zM3 31h1l-1 1zM6 31h1l-1 1zM2 32h1l-1 1zM6 32h1l-1 1zM2 33h1l-1 1zM5 33h1l-1 1z"/>
<path fill="#a40000" stroke="#a40000" d="M4 3h1l-1 1zM33 3h1l-1 1zM3 4h1l-1 1zM33 4h1l-1 1zM3 33h1l-1 1zM4 33h1l-1 1z"/>
<path fill="#9b0000" stroke="#9b0000" d="M6 2v1h-1zM33 2v1h-1zM6 3v1h-1zM32 3v1h-1zM3 5v1h-1zM4 5v1h-1zM32 5v1h-1zM33 5v1h-1zM4 31v1h-1zM6 31v1h-1zM3 32v1h-1zM6 32v1h-1z"/>
<path fill="#920000" stroke="#920000" d="M5 4h1l-1 1zM31 4h1l-1 1zM4 5h1l-1 1zM31 5h1l-1 1zM4 31h1l-1 1zM5 31h1l-1 1zM5 3v1h-1zM33 3v1h-1zM4 4v1h-1zM33 4v1h-1zM4 32v1h-1zM5 32v1h-1z"/>
<path fill="#890000" stroke="#890000" d="M5 3h1l-1 1zM32 3h1l-1 1zM3 5h1l-1 1zM32 5h1l-1 1zM3 32h1l-1 1zM5 32h1l-1 1zM5 4v1h-1zM32 4v1h-1zM5 31v1h-1z"/>
<path fill="#800000" stroke="#800000" d="M4 4h1l-1 1zM32 4h1l-1 1zM4 32h1l-1 1z"/>
</g>
<rect x="544.90" y="462.20" width="348.60" height="339.60" fill="none" stroke="#000" stroke-width="1.3"/>
<text x="545.50" y="814.80" text-anchor="middle">0</text>
<text x="589.08" y="814.80" text-anchor="middle">5</text>
<text x="632.65" y="814.80" text-anchor="middle">10</text>
<text x="676.23" y="814.80" text-anchor="middle">15</text>
<text x="719.80" y="814.80" text-anchor="middle">20</text>
<text x="763.38" y="814.80" text-anchor="middle">25</text>
<text x="806.95" y="814.80" text-anchor="middle">30</text>
<text x="850.52" y="814.80" text-anchor="middle">35</text>
<text x="894.10" y="814.80" text-anchor="middle">40</text>
<text x="542.50" y="806.30" text-anchor="end">0</text>
<text x="542.50" y="759.98" text-anchor="end">5</text>
<text x="542.50" y="713.66" text-anchor="end">10</text>
<text x="542.50" y="667.35" text-anchor="end">15</text>
<text x="542.50" y="621.03" text-anchor="end">20</text>
<text x="542.50" y="574.71" text-anchor="end">25</text>
<text x="542.50" y="528.39" text-anchor="end">30</text>
<text x="542.50" y="482.08" text-anchor="end">35</text>
<rect x="915.30" y="797.80" width="17.20" height="4.00" fill="#000080" shape-rendering="crispEdges"/>
<rect x="915.30" y="792.71" width="17.20" height="5.69" fill="#000092" shape-rendering="crispEdges"/>
<rect x="915.30" y="791.01" width="17.20" height="2.30" fill="#00009b" shape-rendering="crispEdges"/>
<rect x="915.30" y="789.31" width="17.20" height="2.30" fill="#0000a4" shape-rendering="crispEdges"/>
<rect x="915.30" y="782.52" width="17.20" height="7.39" fill="#0000ad" shape-rendering="crispEdges"/>
<rect x="915.30" y="779.13" width="17.20" height="4.00" fill="#0000b6" shape-rendering="crispEdges"/>
<rect x="915.30" y="770.64" width="17.20" height="9.09" fill="#0000bf" shape-rendering="crispEdges"/>
<rect x="915.30" y="757.05" width="17.20" height="14.18" fill="#0000c9" shape-rendering="crispEdges"/>
<rect x="915.30" y="753.66" width="17.20" height="4.00" fill="#0000d2" shape-rendering="crispEdges"/>
<rect x="915.30" y="743.47" width="17.20" height="10.79" fill="#0000db" shape-rendering="crispEdges"/>
<rect x="915.30" y="738.37" width="17.20" height="5.69" fill="#0000e4" shape-rendering="crispEdges"/>
<rect x="915.30" y="726.49" width="17.20" height="12.49" fill="#0000ed" shape-rendering="crispEdges"/>
<rect x="915.30" y="718.00" width="17.20" height="9.09" fill="#0000f6" shape-rendering="crispEdges"/>
<rect x="915.30" y="711.21" width="17.20" height="7.39" fill="#0000ff" shape-rendering="crispEdges"/>
<rect x="915.30" y="706.11" width="17.20" height="5.69" fill="#0001ff" shape-rendering="crispEdges"/>
<rect x="915.30" y="701.02" width="17.20" height="5.69" fill="#0009ff" shape-rendering="crispEdges"/>
<rect x="915.30" y="697.62" width="17.20" height="4.00" fill="#0011ff" shape-rendering="crispEdges"/>
<rect x="915.30" y="692.53" width="17.20" height="5.69" fill="#0019ff" shape-rendering="crispEdges"/>
<rect x="915.30" y="687.43" width="17.20" height="5.69" fill="#0021ff" shape-rendering="crispEdges"/>
<rect x="915.30" y="684.04" width="17.20" height="4.00" fill="#0031ff" shape-rendering="crispEdges"/>
<rect x="915.30" y="682.34" width="17.20" height="2.30" fill="#0039ff" shape-rendering="crispEdges"/>
<rect x="915.30" y="675.55" width="17.20" height="7.39" fill="#0041ff" shape-rendering="crispEdges"/>
<rect x="915.30" y="672.15" width="17.20" height="4.00" fill="#0049ff" shape-rendering="crispEdges"/>
<rect x="915.30" y="668.76" width="17.20" height="4.00" fill="#0059ff" shape-rendering="crispEdges"/>
<rect x="915.30" y="667.06" width="17.20" height="2.30" fill="#0061ff" shape-rendering="crispEdges"/>
<rect x="915.30" y="663.66" width="17.20" height="4.00" fill="#0069ff" shape-rendering="crispEdges"/>
<rect x="915.30" y="658.57" width="17.20" height="5.69" fill="#0071ff" shape-rendering="crispEdges"/>
<rect x="915.30" y="655.17" width="17.20" height="4.00" fill="#0082ff" shape-rendering="crispEdges"/>
<rect x="915.30" y="646.68" width="17.20" height="9.09" fill="#008aff" shape-rendering="crispEdges"/>
<rect x="915.30" y="644.98" width="17.20" height="2.30" fill="#00aaff" shape-rendering="crispEdges"/>
<rect x="915.30" y="641.59" width="17.20" height="4.00" fill="#00b2ff" shape-rendering="crispEdges"/>
<rect x="915.30" y="638.19" width="17.20" height="4.00" fill="#00baff" shape-rendering="crispEdges"/>
<rect x="915.30" y="636.49" width="17.20" height="2.30" fill="#00c2ff" shape-rendering="crispEdges"/>
<rect x="915.30" y="633.10" width="17.20" height="4.00" fill="#00caff" shape-rendering="crispEdges"/>
<rect x="915.30" y="629.70" width="17.20" height="4.00" fill="#00d2ff" shape-rendering="crispEdges"/>
<rect x="915.30" y="624.61" width="17.20" height="5.69" fill="#00e2fa" shape-rendering="crispEdges"/>
<rect x="915.30" y="621.21" width="17.20" height="4.00" fill="#17ffe0" shape-rendering="crispEdges"/>
<rect x="915.30" y="617.82" width="17.20" height="4.00" fill="#1dffd9" shape-rendering="crispEdges"/>
<rect x="915.30" y="612.72" width="17.20" height="5.69" fill="#2affcc" shape-rendering="crispEdges"/>
<rect x="915.30" y="605.93" width="17.20" height="7.39" fill="#37ffbf" shape-rendering="crispEdges"/>
<rect x="915.30" y="600.84" width="17.20" height="5.69" fill="#51ffa5" shape-rendering="crispEdges"/>
<rect x="915.30" y="597.44" width="17.20" height="4.00" fill="#6bff8c" shape-rendering="crispEdges"/>
<rect x="915.30" y="595.74" width="17.20" height="2.30" fill="#72ff85" shape-rendering="crispEdges"/>
<rect x="915.30" y="588.95" width="17.20" height="7.39" fill="#7fff78" shape-rendering="crispEdges"/>
<rect x="915.30" y="585.55" width="17.20" height="4.00" fill="#85ff72" shape-rendering="crispEdges"/>
<rect x="915.30" y="580.46" width="17.20" height="5.69" fill="#a5ff51" shape-rendering="crispEdges"/>
<rect x="915.30" y="573.67" width="17.20" height="7.39" fill="#bfff37" shape-rendering="crispEdges"/>
<rect x="915.30" y="568.57" width="17.20" height="5.69" fill="#ccff2a" shape-rendering="crispEdges"/>
<rect x="915.30" y="563.48" width="17.20" height="5.69" fill="#d3ff24" shape-rendering="crispEdges"/>
<rect x="915.30" y="560.08" width="17.20" height="4.00" fill="#f3fa04" shape-rendering="crispEdges"/>
<rect x="915.30" y="558.39" width="17.20" height="2.30" fill="#faf200" shape-rendering="crispEdges"/>
<rect x="915.30" y="554.99" width="17.20" height="4.00" fill="#ffdc00" shape-rendering="crispEdges"/>
<rect x="915.30" y="551.59" width="17.20" height="4.00" fill="#ffd400" shape-rendering="crispEdges"/>
<rect x="915.30" y="548.20" width="17.20" height="4.00" fill="#ffcd00" shape-rendering="crispEdges"/>
<rect x="915.30" y="544.80" width="17.20" height="4.00" fill="#ffc600" shape-rendering="crispEdges"/>
<rect x="915.30" y="538.01" width="17.20" height="7.39" fill="#ffa000" shape-rendering="crispEdges"/>
<rect x="915.30" y="536.31" width="17.20" height="2.30" fill="#ff9900" shape-rendering="crispEdges"/>
<rect x="915.30" y="529.52" width="17.20" height="7.39" fill="#ff8a00" shape-rendering="crispEdges"/>
<rect x="915.30" y="527.82" width="17.20" height="2.30" fill="#ff7b00" shape-rendering="crispEdges"/>
<rect x="915.30" y="524.43" width="17.20" height="4.00" fill="#ff6c00" shape-rendering="crispEdges"/>
<rect x="915.30" y="522.73" width="17.20" height="2.30" fill="#ff5600" shape-rendering="crispEdges"/>
<rect x="915.30" y="519.33" width="17.20" height="4.00" fill="#ff4f00" shape-rendering="crispEdges"/>
<rect x="915.30" y="515.94" width="17.20" height="4.00" fill="#ff4700" shape-rendering="crispEdges"/>
<rect x="915.30" y="512.54" width="17.20" height="4.00" fill="#ff4000" shape-rendering="crispEdges"/>
<rect x="915.30" y="509.14" width="17.20" height="4.00" fill="#ff3800" shape-rendering="crispEdges"/>
<rect x="915.30" y="507.45" width="17.20" height="2.30" fill="#ff3100" shape-rendering="crispEdges"/>
<rect x="915.30" y="504.05" width="17.20" height="4.00" fill="#ff2900" shape-rendering="crispEdges"/>
<rect x="915.30" y="500.65" width="17.20" height="4.00" fill="#ff1300" shape-rendering="crispEdges"/>
<rect x="915.30" y="498.96" width="17.20" height="2.30" fill="#f60c00" shape-rendering="crispEdges"/>
<rect x="915.30" y="493.86" width="17.20" height="5.69" fill="#e40000" shape-rendering="crispEdges"/>
<rect x="915.30" y="487.07" width="17.20" height="7.39" fill="#db0000" shape-rendering="crispEdges"/>
<rect x="915.30" y="483.67" width="17.20" height="4.00" fill="#d20000" shape-rendering="crispEdges"/>
<rect x="915.30" y="480.28" width="17.20" height="4.00" fill="#c90000" shape-rendering="crispEdges"/>
<rect x="915.30" y="471.79" width="17.20" height="9.09" fill="#ad0000" shape-rendering="crispEdges"/>
<rect x="915.30" y="468.39" width="17.20" height="4.00" fill="#a40000" shape-rendering="crispEdges"/>
<rect x="915.30" y="465.00" width="17.20" height="4.00" fill="#920000" shape-rendering="crispEdges"/>
<rect x="915.30" y="463.30" width="17.20" height="2.30" fill="#890000" shape-rendering="crispEdges"/>
<rect x="915.30" y="461.60" width="17.20" height="2.30" fill="#800000" shape-rendering="crispEdges"/>
<rect x="915.30" y="462.20" width="17.20" height="339.60" fill="none" stroke="#000" stroke-width="1.3"/>
<text x="935.90" y="806.20">0.000000069</text>
<text x="935.90" y="771.83">0.000000748</text>
<text x="935.90" y="737.46">0.000001094</text>
<text x="935.90" y="703.10">0.000001646</text>
<text x="935.90" y="668.73">0.000002548</text>
<text x="935.90" y="634.36">0.000003735</text>
<text x="935.90" y="599.99">0.000005263</text>
<text x="935.90" y="565.63">0.000006876</text>
<text x="935.90" y="531.26">0.000008510</text>
<text x="935.90" y="496.89">0.000009760</text>
</g>
<path d="M588.48 801.80v-4M588.48 462.20v4M632.05 801.80v-4M632.05 462.20v4M675.62 801.80v-4M675.62 462.20v4M719.20 801.80v-4M719.20 462.20v4M762.77 801.80v-4M762.77 462.20v4M806.35 801.80v-4M806.35 462.20v4M849.92 801.80v-4M849.92 462.20v4M544.90 755.48h4M893.50 755.48h-4M544.90 709.16h4M893.50 709.16h-4M544.90 662.85h4M893.50 662.85h-4M544.90 616.53h4M893.50 616.53h-4M544.90 570.21h4M893.50 570.21h-4M544.90 523.89h4M893.50 523.89h-4M544.90 477.58h4M893.50 477.58h-4M932.50 767.43h-4M932.50 733.06h-4M932.50 698.70h-4M932.50 664.33h-4M932.50 629.96h-4M932.50 595.59h-4M932.50 561.23h-4M932.50 526.86h-4M932.50 492.49h-4" stroke="#000" stroke-width="0.9" fill="none"/>
<text class="cap" x="249.8" y="426.8" text-anchor="middle">(<tspan>a</tspan>)</text>
<text class="cap" x="770.5" y="426.8" text-anchor="middle">(<tspan>b</tspan>)</text>
<text class="cap" x="249.8" y="873.6" text-anchor="middle">(<tspan>c</tspan>)</text>
<text class="cap" x="770.5" y="873.6" text-anchor="middle">(<tspan>d</tspan>)</text>
</svg></body></html>
